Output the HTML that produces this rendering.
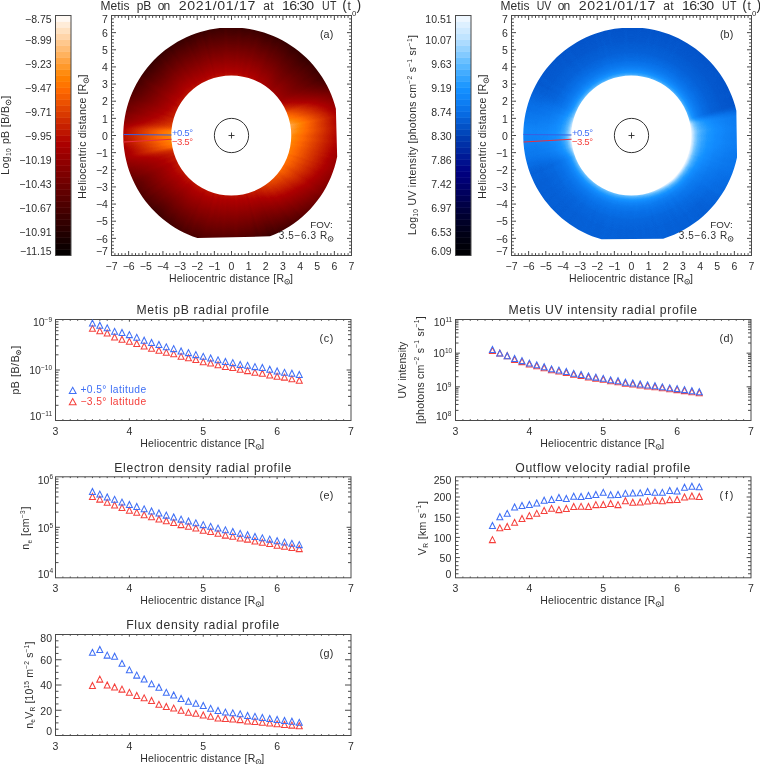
<!DOCTYPE html><html><head><meta charset="utf-8"><style>html,body{margin:0;padding:0;background:#fff;overflow:hidden;width:760px;height:764px}.ring{position:absolute;isolation:isolate}.ring>div{position:absolute;left:0;top:0;width:100%;height:100%}.add{mix-blend-mode:plus-lighter}svg text{font-family:"Liberation Sans", sans-serif}</style></head><body><svg width="0" height="0" style="position:absolute"><defs><filter id="cmR" x="0" y="0" width="1" height="1" color-interpolation-filters="sRGB"><feComponentTransfer><feFuncR type="table" tableValues="0.000 0.023 0.045 0.068 0.091 0.113 0.136 0.158 0.181 0.204 0.226 0.249 0.272 0.294 0.317 0.340 0.362 0.385 0.407 0.430 0.453 0.475 0.498 0.521 0.543 0.566 0.589 0.611 0.634 0.657 0.679 0.702 0.724 0.747 0.770 0.792 0.815 0.838 0.860 0.883 0.906 0.928 0.951 0.973 0.996 1.000 1.000 1.000 1.000 1.000 1.000 1.000 1.000 1.000 1.000 1.000 1.000 1.000 1.000 1.000 1.000 1.000 1.000 1.000 1.000"/><feFuncG type="table" tableValues="0.000 0.000 0.000 0.000 0.000 0.000 0.000 0.000 0.000 0.000 0.000 0.000 0.000 0.000 0.000 0.000 0.000 0.000 0.000 0.000 0.000 0.000 0.000 0.000 0.000 0.000 0.000 0.000 0.000 0.000 0.000 0.026 0.056 0.085 0.115 0.144 0.174 0.203 0.233 0.262 0.292 0.321 0.351 0.380 0.410 0.439 0.469 0.498 0.528 0.557 0.587 0.616 0.646 0.675 0.705 0.734 0.764 0.793 0.823 0.852 0.882 0.911 0.941 0.970 1.000"/><feFuncB type="table" tableValues="0.000 0.000 0.000 0.000 0.000 0.000 0.000 0.000 0.000 0.000 0.000 0.000 0.000 0.000 0.000 0.000 0.000 0.000 0.000 0.000 0.000 0.000 0.000 0.000 0.000 0.000 0.000 0.000 0.000 0.000 0.000 0.000 0.000 0.000 0.000 0.000 0.000 0.000 0.000 0.000 0.000 0.000 0.000 0.000 0.000 0.000 0.000 0.000 0.019 0.081 0.142 0.203 0.264 0.326 0.387 0.448 0.510 0.571 0.632 0.694 0.755 0.816 0.877 0.939 1.000"/></feComponentTransfer></filter><filter id="cmB" x="0" y="0" width="1" height="1" color-interpolation-filters="sRGB"><feComponentTransfer><feFuncR type="table" tableValues="0.000 0.000 0.000 0.000 0.000 0.000 0.000 0.000 0.000 0.000 0.000 0.000 0.000 0.000 0.000 0.000 0.000 0.000 0.000 0.000 0.000 0.000 0.000 0.000 0.000 0.000 0.000 0.000 0.000 0.000 0.000 0.000 0.000 0.005 0.010 0.015 0.020 0.025 0.029 0.037 0.045 0.054 0.062 0.071 0.079 0.095 0.141 0.186 0.231 0.277 0.322 0.367 0.420 0.474 0.527 0.581 0.635 0.689 0.737 0.774 0.811 0.849 0.886 0.923 0.961"/><feFuncG type="table" tableValues="0.000 0.000 0.000 0.000 0.000 0.000 0.000 0.000 0.000 0.000 0.000 0.000 0.000 0.000 0.000 0.000 0.000 0.000 0.000 0.000 0.000 0.000 0.000 0.016 0.042 0.068 0.094 0.120 0.146 0.173 0.199 0.225 0.251 0.280 0.310 0.339 0.369 0.398 0.427 0.452 0.475 0.497 0.519 0.541 0.563 0.585 0.610 0.634 0.659 0.683 0.708 0.732 0.755 0.777 0.799 0.821 0.843 0.865 0.885 0.901 0.917 0.933 0.949 0.964 0.980"/><feFuncB type="table" tableValues="0.000 0.015 0.029 0.044 0.059 0.074 0.088 0.109 0.133 0.158 0.182 0.207 0.231 0.257 0.286 0.316 0.345 0.375 0.404 0.433 0.456 0.477 0.498 0.518 0.539 0.560 0.581 0.602 0.623 0.643 0.664 0.685 0.706 0.738 0.770 0.801 0.833 0.865 0.897 0.920 0.938 0.956 0.973 0.991 1.000 1.000 1.000 1.000 1.000 1.000 1.000 1.000 1.000 1.000 1.000 1.000 1.000 1.000 1.000 1.000 1.000 1.000 1.000 1.000 1.000"/></feComponentTransfer></filter></defs></svg><div class="ring" style="left:123.25px;top:27.50px;width:216.00px;height:216.00px;filter:url(#cmR);clip-path:path(evenodd,'M213.91 129.13 L212.71 134.44 L211.25 139.67 L209.53 144.83 L207.54 149.90 L205.31 154.85 L202.83 159.69 L200.10 164.40 L197.15 168.96 L193.97 173.37 L190.57 177.62 L186.96 181.69 L183.15 185.57 L179.15 189.25 L174.97 192.73 L170.62 195.99 L166.11 199.04 L161.45 201.84 L156.66 204.42 L151.75 206.74 L146.72 208.82 L74.16 210.56 L69.48 208.90 L64.88 207.02 L60.36 204.93 L55.95 202.63 L51.65 200.14 L47.47 197.44 L43.42 194.56 L39.50 191.50 L35.73 188.26 L32.12 184.85 L28.66 181.27 L25.37 177.55 L22.26 173.67 L19.33 169.65 L16.58 165.51 L14.03 161.24 L11.68 156.86 L9.54 152.37 L7.60 147.79 L5.87 143.13 L4.36 138.39 L3.08 133.59 L2.01 128.73 L1.17 123.83 L0.55 118.90 L0.16 113.94 L0.00 108.98 L0.07 104.00 L0.37 99.04 L0.90 94.10 L1.65 89.18 L2.63 84.31 L3.83 79.48 L5.26 74.72 L6.90 70.03 L8.75 65.41 L10.82 60.89 L13.09 56.47 L15.56 52.15 L18.23 47.96 L21.09 43.89 L24.13 39.96 L27.35 36.17 L30.74 32.53 L34.30 29.06 L38.01 25.75 L41.87 22.62 L45.87 19.66 L50.00 16.90 L54.25 14.32 L58.62 11.95 L63.09 9.78 L67.66 7.82 L72.32 6.07 L77.05 4.53 L81.84 3.22 L86.69 2.12 L91.59 1.25 L96.52 0.61 L101.47 0.20 L106.44 0.01 L111.41 0.05 L116.38 0.33 L121.32 0.82 L126.24 1.55 L131.12 2.50 L135.95 3.68 L140.72 5.08 L145.43 6.69 L150.05 8.52 L154.58 10.56 L159.02 12.81 L163.34 15.26 L167.55 17.90 L171.64 20.74 L175.59 23.76 L179.39 26.96 L183.05 30.33 L186.54 33.87 L189.87 37.56 L193.02 41.41 L196.00 45.39 L198.79 49.51 L201.38 53.75 L203.78 58.10 L205.98 62.56 L207.96 67.12 L209.74 71.76 L211.30 76.48 L212.64 81.27 Z M168.00 108.00 A60.00 60.00 0 1 0 48.00 108.00 A60.00 60.00 0 1 0 168.00 108.00 Z')"><div style="background:conic-gradient(from 0deg at 108.00px 108.00px,rgb(129,129,129) 0.0deg,rgb(128,128,128) 1.5deg,rgb(127,127,127) 3.0deg,rgb(129,129,129) 4.5deg,rgb(128,128,128) 6.0deg,rgb(127,127,127) 7.5deg,rgb(128,128,128) 9.0deg,rgb(125,125,125) 10.5deg,rgb(125,125,125) 12.0deg,rgb(128,128,128) 13.5deg,rgb(127,127,127) 15.0deg,rgb(124,124,124) 16.5deg,rgb(126,126,126) 18.0deg,rgb(125,125,125) 19.5deg,rgb(126,126,126) 21.0deg,rgb(123,123,123) 22.5deg,rgb(123,123,123) 24.0deg,rgb(119,119,119) 25.5deg,rgb(118,118,118) 27.0deg,rgb(119,119,119) 28.5deg,rgb(119,119,119) 30.0deg,rgb(117,117,117) 31.5deg,rgb(117,117,117) 33.0deg,rgb(115,115,115) 34.5deg,rgb(113,113,113) 36.0deg,rgb(111,111,111) 37.5deg,rgb(108,108,108) 39.0deg,rgb(108,108,108) 40.5deg,rgb(108,108,108) 42.0deg,rgb(112,112,112) 43.5deg,rgb(111,111,111) 45.0deg,rgb(112,112,112) 46.5deg,rgb(110,110,110) 48.0deg,rgb(110,110,110) 49.5deg,rgb(110,110,110) 51.0deg,rgb(111,111,111) 52.5deg,rgb(111,111,111) 54.0deg,rgb(115,115,115) 55.5deg,rgb(121,121,121) 57.0deg,rgb(128,128,128) 58.5deg,rgb(132,132,132) 60.0deg,rgb(139,139,139) 61.5deg,rgb(144,144,144) 63.0deg,rgb(150,150,150) 64.5deg,rgb(158,158,158) 66.0deg,rgb(168,168,168) 67.5deg,rgb(173,173,173) 69.0deg,rgb(178,178,178) 70.5deg,rgb(184,184,184) 72.0deg,rgb(187,187,187) 73.5deg,rgb(195,195,195) 75.0deg,rgb(200,200,200) 76.5deg,rgb(203,203,203) 78.0deg,rgb(210,210,210) 79.5deg,rgb(207,207,207) 81.0deg,rgb(207,207,207) 82.5deg,rgb(203,203,203) 84.0deg,rgb(204,204,204) 85.5deg,rgb(202,202,202) 87.0deg,rgb(198,198,198) 88.5deg,rgb(194,194,194) 90.0deg,rgb(196,196,196) 91.5deg,rgb(195,195,195) 93.0deg,rgb(191,191,191) 94.5deg,rgb(189,189,189) 96.0deg,rgb(191,191,191) 97.5deg,rgb(188,188,188) 99.0deg,rgb(187,187,187) 100.5deg,rgb(186,186,186) 102.0deg,rgb(186,186,186) 103.5deg,rgb(186,186,186) 105.0deg,rgb(185,185,185) 106.5deg,rgb(180,180,180) 108.0deg,rgb(183,183,183) 109.5deg,rgb(183,183,183) 111.0deg,rgb(180,180,180) 112.5deg,rgb(181,181,181) 114.0deg,rgb(180,180,180) 115.5deg,rgb(179,179,179) 117.0deg,rgb(176,176,176) 118.5deg,rgb(175,175,175) 120.0deg,rgb(177,177,177) 121.5deg,rgb(175,175,175) 123.0deg,rgb(176,176,176) 124.5deg,rgb(174,174,174) 126.0deg,rgb(170,170,170) 127.5deg,rgb(168,168,168) 129.0deg,rgb(169,169,169) 130.5deg,rgb(167,167,167) 132.0deg,rgb(165,165,165) 133.5deg,rgb(164,164,164) 135.0deg,rgb(163,163,163) 136.5deg,rgb(161,161,161) 138.0deg,rgb(159,159,159) 139.5deg,rgb(157,157,157) 141.0deg,rgb(157,157,157) 142.5deg,rgb(154,154,154) 144.0deg,rgb(151,151,151) 145.5deg,rgb(148,148,148) 147.0deg,rgb(148,148,148) 148.5deg,rgb(144,144,144) 150.0deg,rgb(141,141,141) 151.5deg,rgb(139,139,139) 153.0deg,rgb(138,138,138) 154.5deg,rgb(135,135,135) 156.0deg,rgb(135,135,135) 157.5deg,rgb(136,136,136) 159.0deg,rgb(133,133,133) 160.5deg,rgb(133,133,133) 162.0deg,rgb(133,133,133) 163.5deg,rgb(128,128,128) 165.0deg,rgb(131,131,131) 166.5deg,rgb(129,129,129) 168.0deg,rgb(128,128,128) 169.5deg,rgb(129,129,129) 171.0deg,rgb(127,127,127) 172.5deg,rgb(127,127,127) 174.0deg,rgb(130,130,130) 175.5deg,rgb(126,126,126) 177.0deg,rgb(127,127,127) 178.5deg,rgb(127,127,127) 180.0deg,rgb(126,126,126) 181.5deg,rgb(125,125,125) 183.0deg,rgb(127,127,127) 184.5deg,rgb(127,127,127) 186.0deg,rgb(126,126,126) 187.5deg,rgb(128,128,128) 189.0deg,rgb(125,125,125) 190.5deg,rgb(126,126,126) 192.0deg,rgb(129,129,129) 193.5deg,rgb(128,128,128) 195.0deg,rgb(125,125,125) 196.5deg,rgb(128,128,128) 198.0deg,rgb(128,128,128) 199.5deg,rgb(129,129,129) 201.0deg,rgb(128,128,128) 202.5deg,rgb(129,129,129) 204.0deg,rgb(126,126,126) 205.5deg,rgb(127,127,127) 207.0deg,rgb(129,129,129) 208.5deg,rgb(130,130,130) 210.0deg,rgb(129,129,129) 211.5deg,rgb(130,130,130) 213.0deg,rgb(130,130,130) 214.5deg,rgb(130,130,130) 216.0deg,rgb(128,128,128) 217.5deg,rgb(127,127,127) 219.0deg,rgb(128,128,128) 220.5deg,rgb(128,128,128) 222.0deg,rgb(132,132,132) 223.5deg,rgb(130,130,130) 225.0deg,rgb(132,132,132) 226.5deg,rgb(130,130,130) 228.0deg,rgb(129,129,129) 229.5deg,rgb(130,130,130) 231.0deg,rgb(130,130,130) 232.5deg,rgb(131,131,131) 234.0deg,rgb(132,132,132) 235.5deg,rgb(132,132,132) 237.0deg,rgb(133,133,133) 238.5deg,rgb(131,131,131) 240.0deg,rgb(133,133,133) 241.5deg,rgb(131,131,131) 243.0deg,rgb(130,130,130) 244.5deg,rgb(131,131,131) 246.0deg,rgb(135,135,135) 247.5deg,rgb(133,133,133) 249.0deg,rgb(133,133,133) 250.5deg,rgb(137,137,137) 252.0deg,rgb(137,137,137) 253.5deg,rgb(143,143,143) 255.0deg,rgb(150,150,150) 256.5deg,rgb(163,163,163) 258.0deg,rgb(178,178,178) 259.5deg,rgb(181,181,181) 261.0deg,rgb(188,188,188) 262.5deg,rgb(187,187,187) 264.0deg,rgb(192,192,192) 265.5deg,rgb(192,192,192) 267.0deg,rgb(192,192,192) 268.5deg,rgb(192,192,192) 270.0deg,rgb(193,193,193) 271.5deg,rgb(193,193,193) 273.0deg,rgb(189,189,189) 274.5deg,rgb(178,178,178) 276.0deg,rgb(167,167,167) 277.5deg,rgb(158,158,158) 279.0deg,rgb(152,152,152) 280.5deg,rgb(148,148,148) 282.0deg,rgb(144,144,144) 283.5deg,rgb(143,143,143) 285.0deg,rgb(141,141,141) 286.5deg,rgb(135,135,135) 288.0deg,rgb(137,137,137) 289.5deg,rgb(136,136,136) 291.0deg,rgb(133,133,133) 292.5deg,rgb(134,134,134) 294.0deg,rgb(133,133,133) 295.5deg,rgb(133,133,133) 297.0deg,rgb(130,130,130) 298.5deg,rgb(129,129,129) 300.0deg,rgb(132,132,132) 301.5deg,rgb(130,130,130) 303.0deg,rgb(132,132,132) 304.5deg,rgb(130,130,130) 306.0deg,rgb(129,129,129) 307.5deg,rgb(129,129,129) 309.0deg,rgb(130,130,130) 310.5deg,rgb(130,130,130) 312.0deg,rgb(130,130,130) 313.5deg,rgb(131,131,131) 315.0deg,rgb(131,131,131) 316.5deg,rgb(130,130,130) 318.0deg,rgb(130,130,130) 319.5deg,rgb(129,129,129) 321.0deg,rgb(131,131,131) 322.5deg,rgb(129,129,129) 324.0deg,rgb(127,127,127) 325.5deg,rgb(127,127,127) 327.0deg,rgb(129,129,129) 328.5deg,rgb(127,127,127) 330.0deg,rgb(127,127,127) 331.5deg,rgb(127,127,127) 333.0deg,rgb(128,128,128) 334.5deg,rgb(126,126,126) 336.0deg,rgb(127,127,127) 337.5deg,rgb(129,129,129) 339.0deg,rgb(127,127,127) 340.5deg,rgb(128,128,128) 342.0deg,rgb(130,130,130) 343.5deg,rgb(126,126,126) 345.0deg,rgb(130,130,130) 346.5deg,rgb(128,128,128) 348.0deg,rgb(128,128,128) 349.5deg,rgb(129,129,129) 351.0deg,rgb(127,127,127) 352.5deg,rgb(127,127,127) 354.0deg,rgb(131,131,131) 355.5deg,rgb(128,128,128) 357.0deg,rgb(129,129,129) 358.5deg,rgb(129,129,129) 360.0deg)"></div><div style="background:conic-gradient(from 0deg at 108.00px 108.00px,rgb(42,42,42) 0.0deg,rgb(41,41,41) 1.5deg,rgb(42,42,42) 3.0deg,rgb(44,44,44) 4.5deg,rgb(41,41,41) 6.0deg,rgb(41,41,41) 7.5deg,rgb(42,42,42) 9.0deg,rgb(44,44,44) 10.5deg,rgb(42,42,42) 12.0deg,rgb(41,41,41) 13.5deg,rgb(44,44,44) 15.0deg,rgb(42,42,42) 16.5deg,rgb(40,40,40) 18.0deg,rgb(39,39,39) 19.5deg,rgb(39,39,39) 21.0deg,rgb(42,42,42) 22.5deg,rgb(39,39,39) 24.0deg,rgb(39,39,39) 25.5deg,rgb(42,42,42) 27.0deg,rgb(39,39,39) 28.5deg,rgb(39,39,39) 30.0deg,rgb(39,39,39) 31.5deg,rgb(39,39,39) 33.0deg,rgb(37,37,37) 34.5deg,rgb(37,37,37) 36.0deg,rgb(39,39,39) 37.5deg,rgb(39,39,39) 39.0deg,rgb(38,38,38) 40.5deg,rgb(37,37,37) 42.0deg,rgb(36,36,36) 43.5deg,rgb(39,39,39) 45.0deg,rgb(37,37,37) 46.5deg,rgb(42,42,42) 48.0deg,rgb(41,41,41) 49.5deg,rgb(43,43,43) 51.0deg,rgb(41,41,41) 52.5deg,rgb(45,45,45) 54.0deg,rgb(45,45,45) 55.5deg,rgb(43,43,43) 57.0deg,rgb(48,48,48) 58.5deg,rgb(51,51,51) 60.0deg,rgb(57,57,57) 61.5deg,rgb(63,63,63) 63.0deg,rgb(70,70,70) 64.5deg,rgb(77,77,77) 66.0deg,rgb(83,83,83) 67.5deg,rgb(88,88,88) 69.0deg,rgb(96,96,96) 70.5deg,rgb(101,101,101) 72.0deg,rgb(106,106,106) 73.5deg,rgb(109,109,109) 75.0deg,rgb(114,114,114) 76.5deg,rgb(117,117,117) 78.0deg,rgb(120,120,120) 79.5deg,rgb(119,119,119) 81.0deg,rgb(118,118,118) 82.5deg,rgb(119,119,119) 84.0deg,rgb(120,120,120) 85.5deg,rgb(119,119,119) 87.0deg,rgb(118,118,118) 88.5deg,rgb(117,117,117) 90.0deg,rgb(115,115,115) 91.5deg,rgb(117,117,117) 93.0deg,rgb(115,115,115) 94.5deg,rgb(114,114,114) 96.0deg,rgb(111,111,111) 97.5deg,rgb(111,111,111) 99.0deg,rgb(108,108,108) 100.5deg,rgb(109,109,109) 102.0deg,rgb(105,105,105) 103.5deg,rgb(104,104,104) 105.0deg,rgb(105,105,105) 106.5deg,rgb(104,104,104) 108.0deg,rgb(102,102,102) 109.5deg,rgb(99,99,99) 111.0deg,rgb(97,97,97) 112.5deg,rgb(95,95,95) 114.0deg,rgb(94,94,94) 115.5deg,rgb(91,91,91) 117.0deg,rgb(90,90,90) 118.5deg,rgb(86,86,86) 120.0deg,rgb(85,85,85) 121.5deg,rgb(85,85,85) 123.0deg,rgb(79,79,79) 124.5deg,rgb(76,76,76) 126.0deg,rgb(76,76,76) 127.5deg,rgb(73,73,73) 129.0deg,rgb(71,71,71) 130.5deg,rgb(68,68,68) 132.0deg,rgb(67,67,67) 133.5deg,rgb(63,63,63) 135.0deg,rgb(62,62,62) 136.5deg,rgb(62,62,62) 138.0deg,rgb(56,56,56) 139.5deg,rgb(56,56,56) 141.0deg,rgb(54,54,54) 142.5deg,rgb(54,54,54) 144.0deg,rgb(49,49,49) 145.5deg,rgb(49,49,49) 147.0deg,rgb(48,48,48) 148.5deg,rgb(47,47,47) 150.0deg,rgb(45,45,45) 151.5deg,rgb(44,44,44) 153.0deg,rgb(45,45,45) 154.5deg,rgb(41,41,41) 156.0deg,rgb(42,42,42) 157.5deg,rgb(39,39,39) 159.0deg,rgb(43,43,43) 160.5deg,rgb(42,42,42) 162.0deg,rgb(45,45,45) 163.5deg,rgb(41,41,41) 165.0deg,rgb(44,44,44) 166.5deg,rgb(47,47,47) 168.0deg,rgb(45,45,45) 169.5deg,rgb(45,45,45) 171.0deg,rgb(47,47,47) 172.5deg,rgb(47,47,47) 174.0deg,rgb(47,47,47) 175.5deg,rgb(52,52,52) 177.0deg,rgb(49,49,49) 178.5deg,rgb(49,49,49) 180.0deg,rgb(49,49,49) 181.5deg,rgb(50,50,50) 183.0deg,rgb(52,52,52) 184.5deg,rgb(50,50,50) 186.0deg,rgb(50,50,50) 187.5deg,rgb(51,51,51) 189.0deg,rgb(53,53,53) 190.5deg,rgb(51,51,51) 192.0deg,rgb(51,51,51) 193.5deg,rgb(53,53,53) 195.0deg,rgb(52,52,52) 196.5deg,rgb(50,50,50) 198.0deg,rgb(49,49,49) 199.5deg,rgb(49,49,49) 201.0deg,rgb(52,52,52) 202.5deg,rgb(49,49,49) 204.0deg,rgb(48,48,48) 205.5deg,rgb(51,51,51) 207.0deg,rgb(47,47,47) 208.5deg,rgb(47,47,47) 210.0deg,rgb(47,47,47) 211.5deg,rgb(47,47,47) 213.0deg,rgb(45,45,45) 214.5deg,rgb(44,44,44) 216.0deg,rgb(46,46,46) 217.5deg,rgb(46,46,46) 219.0deg,rgb(44,44,44) 220.5deg,rgb(43,43,43) 222.0deg,rgb(42,42,42) 223.5deg,rgb(44,44,44) 225.0deg,rgb(43,43,43) 226.5deg,rgb(48,48,48) 228.0deg,rgb(48,48,48) 229.5deg,rgb(50,50,50) 231.0deg,rgb(49,49,49) 232.5deg,rgb(54,54,54) 234.0deg,rgb(55,55,55) 235.5deg,rgb(53,53,53) 237.0deg,rgb(57,57,57) 238.5deg,rgb(57,57,57) 240.0deg,rgb(58,58,58) 241.5deg,rgb(60,60,60) 243.0deg,rgb(63,63,63) 244.5deg,rgb(68,68,68) 246.0deg,rgb(73,73,73) 247.5deg,rgb(77,77,77) 249.0deg,rgb(83,83,83) 250.5deg,rgb(87,87,87) 252.0deg,rgb(94,94,94) 253.5deg,rgb(98,98,98) 255.0deg,rgb(104,104,104) 256.5deg,rgb(109,109,109) 258.0deg,rgb(111,111,111) 259.5deg,rgb(111,111,111) 261.0deg,rgb(113,113,113) 262.5deg,rgb(117,117,117) 264.0deg,rgb(121,121,121) 265.5deg,rgb(123,123,123) 267.0deg,rgb(125,125,125) 268.5deg,rgb(127,127,127) 270.0deg,rgb(122,122,122) 271.5deg,rgb(121,121,121) 273.0deg,rgb(116,116,116) 274.5deg,rgb(108,108,108) 276.0deg,rgb(99,99,99) 277.5deg,rgb(94,94,94) 279.0deg,rgb(89,89,89) 280.5deg,rgb(87,87,87) 282.0deg,rgb(80,80,80) 283.5deg,rgb(76,76,76) 285.0deg,rgb(75,75,75) 286.5deg,rgb(71,71,71) 288.0deg,rgb(67,67,67) 289.5deg,rgb(62,62,62) 291.0deg,rgb(58,58,58) 292.5deg,rgb(54,54,54) 294.0deg,rgb(52,52,52) 295.5deg,rgb(50,50,50) 297.0deg,rgb(50,50,50) 298.5deg,rgb(47,47,47) 300.0deg,rgb(47,47,47) 301.5deg,rgb(48,48,48) 303.0deg,rgb(42,42,42) 304.5deg,rgb(40,40,40) 306.0deg,rgb(41,41,41) 307.5deg,rgb(39,39,39) 309.0deg,rgb(38,38,38) 310.5deg,rgb(37,37,37) 312.0deg,rgb(39,39,39) 313.5deg,rgb(37,37,37) 315.0deg,rgb(38,38,38) 316.5deg,rgb(41,41,41) 318.0deg,rgb(37,37,37) 319.5deg,rgb(39,39,39) 321.0deg,rgb(39,39,39) 322.5deg,rgb(41,41,41) 324.0deg,rgb(38,38,38) 325.5deg,rgb(41,41,41) 327.0deg,rgb(40,40,40) 328.5deg,rgb(40,40,40) 330.0deg,rgb(39,39,39) 331.5deg,rgb(39,39,39) 333.0deg,rgb(41,41,41) 334.5deg,rgb(38,38,38) 336.0deg,rgb(40,40,40) 337.5deg,rgb(38,38,38) 339.0deg,rgb(43,43,43) 340.5deg,rgb(41,41,41) 342.0deg,rgb(43,43,43) 343.5deg,rgb(39,39,39) 345.0deg,rgb(41,41,41) 346.5deg,rgb(44,44,44) 348.0deg,rgb(41,41,41) 349.5deg,rgb(41,41,41) 351.0deg,rgb(42,42,42) 352.5deg,rgb(42,42,42) 354.0deg,rgb(41,41,41) 355.5deg,rgb(45,45,45) 357.0deg,rgb(42,42,42) 358.5deg,rgb(42,42,42) 360.0deg);-webkit-mask-image:radial-gradient(circle 108.00px at 108.00px 108.00px,rgba(0,0,0,0) 60.00px,rgba(0,0,0,1) 108.00px);mask-image:radial-gradient(circle 108.00px at 108.00px 108.00px,rgba(0,0,0,0) 60.00px,rgba(0,0,0,1) 108.00px)"></div></div><div class="ring" style="left:523.25px;top:27.50px;width:216.00px;height:216.00px;filter:url(#cmB);clip-path:path(evenodd,'M213.80 129.67 L212.49 135.29 L210.89 140.84 L208.99 146.28 L206.80 151.62 L204.33 156.84 L201.58 161.91 L198.57 166.83 L195.30 171.59 L191.78 176.16 L188.02 180.53 L184.03 184.70 L179.83 188.65 L175.42 192.38 L170.81 195.86 L166.03 199.08 L161.08 202.05 L155.99 204.75 L150.75 207.18 L145.39 209.32 L139.93 211.17 L78.34 211.85 L73.52 210.35 L68.78 208.63 L64.13 206.69 L59.57 204.53 L55.11 202.17 L50.78 199.59 L46.56 196.82 L42.48 193.86 L38.55 190.71 L34.76 187.37 L31.14 183.87 L27.68 180.20 L24.40 176.37 L21.30 172.39 L18.39 168.28 L15.67 164.03 L13.15 159.66 L10.85 155.17 L8.75 150.59 L6.87 145.91 L5.21 141.15 L3.78 136.31 L2.57 131.41 L1.59 126.47 L0.84 121.48 L0.33 116.46 L0.05 111.43 L0.01 106.39 L0.21 101.35 L0.63 96.32 L1.30 91.32 L2.19 86.36 L3.32 81.45 L4.67 76.59 L6.25 71.80 L8.05 67.09 L10.07 62.47 L12.30 57.95 L14.74 53.53 L17.38 49.24 L20.23 45.07 L23.26 41.04 L26.48 37.16 L29.87 33.43 L33.44 29.87 L37.17 26.47 L41.05 23.25 L45.08 20.22 L49.25 17.38 L53.54 14.74 L57.95 12.30 L62.47 10.06 L67.10 8.05 L71.81 6.25 L76.60 4.67 L81.45 3.31 L86.37 2.19 L91.33 1.29 L96.33 0.63 L101.36 0.20 L106.39 0.01 L111.44 0.05 L116.47 0.33 L121.49 0.85 L126.48 1.59 L131.42 2.57 L136.32 3.78 L141.15 5.21 L145.91 6.87 L150.59 8.75 L155.18 10.85 L159.66 13.16 L164.03 15.67 L168.28 18.39 L172.40 21.30 L176.38 24.40 L180.20 27.69 L183.88 31.14 L187.38 34.77 L190.71 38.55 L193.86 42.49 L196.83 46.57 L199.60 50.78 L202.17 55.12 L204.54 59.58 L206.69 64.13 L208.63 68.79 L210.35 73.53 L211.85 78.34 L213.12 83.22 Z M168.00 108.00 A60.00 60.00 0 1 0 48.00 108.00 A60.00 60.00 0 1 0 168.00 108.00 Z')"><div style="background:conic-gradient(from 0deg at 108.00px 108.00px,rgb(204,204,204) 0.0deg,rgb(204,204,204) 1.5deg,rgb(204,204,204) 3.0deg,rgb(204,204,204) 4.5deg,rgb(204,204,204) 6.0deg,rgb(204,204,204) 7.5deg,rgb(204,204,204) 9.0deg,rgb(204,204,204) 10.5deg,rgb(204,204,204) 12.0deg,rgb(205,205,205) 13.5deg,rgb(204,204,204) 15.0deg,rgb(204,204,204) 16.5deg,rgb(204,204,204) 18.0deg,rgb(204,204,204) 19.5deg,rgb(205,205,205) 21.0deg,rgb(204,204,204) 22.5deg,rgb(204,204,204) 24.0deg,rgb(204,204,204) 25.5deg,rgb(204,204,204) 27.0deg,rgb(204,204,204) 28.5deg,rgb(205,205,205) 30.0deg,rgb(204,204,204) 31.5deg,rgb(205,205,205) 33.0deg,rgb(204,204,204) 34.5deg,rgb(204,204,204) 36.0deg,rgb(204,204,204) 37.5deg,rgb(204,204,204) 39.0deg,rgb(204,204,204) 40.5deg,rgb(204,204,204) 42.0deg,rgb(205,205,205) 43.5deg,rgb(204,204,204) 45.0deg,rgb(205,205,205) 46.5deg,rgb(204,204,204) 48.0deg,rgb(204,204,204) 49.5deg,rgb(204,204,204) 51.0deg,rgb(204,204,204) 52.5deg,rgb(204,204,204) 54.0deg,rgb(204,204,204) 55.5deg,rgb(204,204,204) 57.0deg,rgb(205,205,205) 58.5deg,rgb(204,204,204) 60.0deg,rgb(204,204,204) 61.5deg,rgb(204,204,204) 63.0deg,rgb(204,204,204) 64.5deg,rgb(204,204,204) 66.0deg,rgb(205,205,205) 67.5deg,rgb(204,204,204) 69.0deg,rgb(205,205,205) 70.5deg,rgb(207,207,207) 72.0deg,rgb(209,209,209) 73.5deg,rgb(219,219,219) 75.0deg,rgb(231,231,231) 76.5deg,rgb(242,242,242) 78.0deg,rgb(247,247,247) 79.5deg,rgb(249,249,249) 81.0deg,rgb(254,254,254) 82.5deg,rgb(255,255,255) 84.0deg,rgb(255,255,255) 85.5deg,rgb(255,255,255) 87.0deg,rgb(255,255,255) 88.5deg,rgb(255,255,255) 90.0deg,rgb(255,255,255) 91.5deg,rgb(255,255,255) 93.0deg,rgb(255,255,255) 94.5deg,rgb(255,255,255) 96.0deg,rgb(255,255,255) 97.5deg,rgb(255,255,255) 99.0deg,rgb(255,255,255) 100.5deg,rgb(255,255,255) 102.0deg,rgb(255,255,255) 103.5deg,rgb(255,255,255) 105.0deg,rgb(255,255,255) 106.5deg,rgb(255,255,255) 108.0deg,rgb(255,255,255) 109.5deg,rgb(255,255,255) 111.0deg,rgb(255,255,255) 112.5deg,rgb(255,255,255) 114.0deg,rgb(255,255,255) 115.5deg,rgb(255,255,255) 117.0deg,rgb(255,255,255) 118.5deg,rgb(255,255,255) 120.0deg,rgb(255,255,255) 121.5deg,rgb(255,255,255) 123.0deg,rgb(255,255,255) 124.5deg,rgb(255,255,255) 126.0deg,rgb(255,255,255) 127.5deg,rgb(255,255,255) 129.0deg,rgb(255,255,255) 130.5deg,rgb(255,255,255) 132.0deg,rgb(255,255,255) 133.5deg,rgb(255,255,255) 135.0deg,rgb(255,255,255) 136.5deg,rgb(252,252,252) 138.0deg,rgb(249,249,249) 139.5deg,rgb(247,247,247) 141.0deg,rgb(245,245,245) 142.5deg,rgb(242,242,242) 144.0deg,rgb(239,239,239) 145.5deg,rgb(236,236,236) 147.0deg,rgb(235,235,235) 148.5deg,rgb(231,231,231) 150.0deg,rgb(229,229,229) 151.5deg,rgb(228,228,228) 153.0deg,rgb(226,226,226) 154.5deg,rgb(224,224,224) 156.0deg,rgb(222,222,222) 157.5deg,rgb(221,221,221) 159.0deg,rgb(219,219,219) 160.5deg,rgb(218,218,218) 162.0deg,rgb(217,217,217) 163.5deg,rgb(214,214,214) 165.0deg,rgb(213,213,213) 166.5deg,rgb(211,211,211) 168.0deg,rgb(210,210,210) 169.5deg,rgb(209,209,209) 171.0deg,rgb(208,208,208) 172.5deg,rgb(208,208,208) 174.0deg,rgb(208,208,208) 175.5deg,rgb(207,207,207) 177.0deg,rgb(206,206,206) 178.5deg,rgb(206,206,206) 180.0deg,rgb(205,205,205) 181.5deg,rgb(205,205,205) 183.0deg,rgb(204,204,204) 184.5deg,rgb(204,204,204) 186.0deg,rgb(204,204,204) 187.5deg,rgb(204,204,204) 189.0deg,rgb(204,204,204) 190.5deg,rgb(205,205,205) 192.0deg,rgb(205,205,205) 193.5deg,rgb(205,205,205) 195.0deg,rgb(205,205,205) 196.5deg,rgb(205,205,205) 198.0deg,rgb(205,205,205) 199.5deg,rgb(206,206,206) 201.0deg,rgb(206,206,206) 202.5deg,rgb(206,206,206) 204.0deg,rgb(206,206,206) 205.5deg,rgb(206,206,206) 207.0deg,rgb(206,206,206) 208.5deg,rgb(207,207,207) 210.0deg,rgb(206,206,206) 211.5deg,rgb(207,207,207) 213.0deg,rgb(207,207,207) 214.5deg,rgb(207,207,207) 216.0deg,rgb(207,207,207) 217.5deg,rgb(207,207,207) 219.0deg,rgb(207,207,207) 220.5deg,rgb(207,207,207) 222.0deg,rgb(208,208,208) 223.5deg,rgb(207,207,207) 225.0deg,rgb(208,208,208) 226.5deg,rgb(207,207,207) 228.0deg,rgb(207,207,207) 229.5deg,rgb(208,208,208) 231.0deg,rgb(208,208,208) 232.5deg,rgb(208,208,208) 234.0deg,rgb(208,208,208) 235.5deg,rgb(208,208,208) 237.0deg,rgb(209,209,209) 238.5deg,rgb(208,208,208) 240.0deg,rgb(209,209,209) 241.5deg,rgb(209,209,209) 243.0deg,rgb(209,209,209) 244.5deg,rgb(209,209,209) 246.0deg,rgb(210,210,210) 247.5deg,rgb(209,209,209) 249.0deg,rgb(210,210,210) 250.5deg,rgb(214,214,214) 252.0deg,rgb(217,217,217) 253.5deg,rgb(223,223,223) 255.0deg,rgb(227,227,227) 256.5deg,rgb(230,230,230) 258.0deg,rgb(234,234,234) 259.5deg,rgb(236,236,236) 261.0deg,rgb(239,239,239) 262.5deg,rgb(240,240,240) 264.0deg,rgb(243,243,243) 265.5deg,rgb(243,243,243) 267.0deg,rgb(243,243,243) 268.5deg,rgb(243,243,243) 270.0deg,rgb(245,245,245) 271.5deg,rgb(245,245,245) 273.0deg,rgb(243,243,243) 274.5deg,rgb(241,241,241) 276.0deg,rgb(240,240,240) 277.5deg,rgb(237,237,237) 279.0deg,rgb(235,235,235) 280.5deg,rgb(232,232,232) 282.0deg,rgb(230,230,230) 283.5deg,rgb(228,228,228) 285.0deg,rgb(224,224,224) 286.5deg,rgb(219,219,219) 288.0deg,rgb(217,217,217) 289.5deg,rgb(215,215,215) 291.0deg,rgb(212,212,212) 292.5deg,rgb(211,211,211) 294.0deg,rgb(210,210,210) 295.5deg,rgb(209,209,209) 297.0deg,rgb(208,208,208) 298.5deg,rgb(208,208,208) 300.0deg,rgb(209,209,209) 301.5deg,rgb(208,208,208) 303.0deg,rgb(209,209,209) 304.5deg,rgb(208,208,208) 306.0deg,rgb(208,208,208) 307.5deg,rgb(208,208,208) 309.0deg,rgb(208,208,208) 310.5deg,rgb(208,208,208) 312.0deg,rgb(208,208,208) 313.5deg,rgb(208,208,208) 315.0deg,rgb(208,208,208) 316.5deg,rgb(207,207,207) 318.0deg,rgb(207,207,207) 319.5deg,rgb(207,207,207) 321.0deg,rgb(208,208,208) 322.5deg,rgb(207,207,207) 324.0deg,rgb(207,207,207) 325.5deg,rgb(206,206,206) 327.0deg,rgb(207,207,207) 328.5deg,rgb(206,206,206) 330.0deg,rgb(206,206,206) 331.5deg,rgb(206,206,206) 333.0deg,rgb(206,206,206) 334.5deg,rgb(206,206,206) 336.0deg,rgb(206,206,206) 337.5deg,rgb(206,206,206) 339.0deg,rgb(205,205,205) 340.5deg,rgb(206,206,206) 342.0deg,rgb(206,206,206) 343.5deg,rgb(205,205,205) 345.0deg,rgb(206,206,206) 346.5deg,rgb(205,205,205) 348.0deg,rgb(205,205,205) 349.5deg,rgb(205,205,205) 351.0deg,rgb(205,205,205) 352.5deg,rgb(204,204,204) 354.0deg,rgb(205,205,205) 355.5deg,rgb(204,204,204) 357.0deg,rgb(204,204,204) 358.5deg,rgb(204,204,204) 360.0deg)"></div><div style="background:conic-gradient(from 0deg at 108.00px 108.00px,rgb(190,190,190) 0.0deg,rgb(190,190,190) 1.5deg,rgb(190,190,190) 3.0deg,rgb(190,190,190) 4.5deg,rgb(190,190,190) 6.0deg,rgb(190,190,190) 7.5deg,rgb(190,190,190) 9.0deg,rgb(190,190,190) 10.5deg,rgb(190,190,190) 12.0deg,rgb(191,191,191) 13.5deg,rgb(191,191,191) 15.0deg,rgb(190,190,190) 16.5deg,rgb(191,191,191) 18.0deg,rgb(190,190,190) 19.5deg,rgb(191,191,191) 21.0deg,rgb(190,190,190) 22.5deg,rgb(191,191,191) 24.0deg,rgb(190,190,190) 25.5deg,rgb(190,190,190) 27.0deg,rgb(191,191,191) 28.5deg,rgb(191,191,191) 30.0deg,rgb(190,190,190) 31.5deg,rgb(191,191,191) 33.0deg,rgb(191,191,191) 34.5deg,rgb(191,191,191) 36.0deg,rgb(190,190,190) 37.5deg,rgb(190,190,190) 39.0deg,rgb(190,190,190) 40.5deg,rgb(190,190,190) 42.0deg,rgb(191,191,191) 43.5deg,rgb(190,190,190) 45.0deg,rgb(191,191,191) 46.5deg,rgb(190,190,190) 48.0deg,rgb(190,190,190) 49.5deg,rgb(190,190,190) 51.0deg,rgb(190,190,190) 52.5deg,rgb(190,190,190) 54.0deg,rgb(191,191,191) 55.5deg,rgb(191,191,191) 57.0deg,rgb(191,191,191) 58.5deg,rgb(190,190,190) 60.0deg,rgb(191,191,191) 61.5deg,rgb(190,190,190) 63.0deg,rgb(190,190,190) 64.5deg,rgb(190,190,190) 66.0deg,rgb(191,191,191) 67.5deg,rgb(190,190,190) 69.0deg,rgb(191,191,191) 70.5deg,rgb(192,192,192) 72.0deg,rgb(194,194,194) 73.5deg,rgb(202,202,202) 75.0deg,rgb(213,213,213) 76.5deg,rgb(223,223,223) 78.0deg,rgb(228,228,228) 79.5deg,rgb(230,230,230) 81.0deg,rgb(233,233,233) 82.5deg,rgb(235,235,235) 84.0deg,rgb(238,238,238) 85.5deg,rgb(238,238,238) 87.0deg,rgb(237,237,237) 88.5deg,rgb(236,236,236) 90.0deg,rgb(237,237,237) 91.5deg,rgb(238,238,238) 93.0deg,rgb(237,237,237) 94.5deg,rgb(236,236,236) 96.0deg,rgb(237,237,237) 97.5deg,rgb(236,236,236) 99.0deg,rgb(236,236,236) 100.5deg,rgb(236,236,236) 102.0deg,rgb(236,236,236) 103.5deg,rgb(236,236,236) 105.0deg,rgb(236,236,236) 106.5deg,rgb(234,234,234) 108.0deg,rgb(235,235,235) 109.5deg,rgb(235,235,235) 111.0deg,rgb(234,234,234) 112.5deg,rgb(234,234,234) 114.0deg,rgb(234,234,234) 115.5deg,rgb(233,233,233) 117.0deg,rgb(231,231,231) 118.5deg,rgb(230,230,230) 120.0deg,rgb(231,231,231) 121.5deg,rgb(229,229,229) 123.0deg,rgb(229,229,229) 124.5deg,rgb(228,228,228) 126.0deg,rgb(227,227,227) 127.5deg,rgb(227,227,227) 129.0deg,rgb(227,227,227) 130.5deg,rgb(227,227,227) 132.0deg,rgb(227,227,227) 133.5deg,rgb(227,227,227) 135.0deg,rgb(225,225,225) 136.5deg,rgb(223,223,223) 138.0deg,rgb(221,221,221) 139.5deg,rgb(219,219,219) 141.0deg,rgb(218,218,218) 142.5deg,rgb(216,216,216) 144.0deg,rgb(213,213,213) 145.5deg,rgb(212,212,212) 147.0deg,rgb(211,211,211) 148.5deg,rgb(208,208,208) 150.0deg,rgb(207,207,207) 151.5deg,rgb(206,206,206) 153.0deg,rgb(205,205,205) 154.5deg,rgb(203,203,203) 156.0deg,rgb(202,202,202) 157.5deg,rgb(201,201,201) 159.0deg,rgb(200,200,200) 160.5deg,rgb(199,199,199) 162.0deg,rgb(199,199,199) 163.5deg,rgb(197,197,197) 165.0deg,rgb(197,197,197) 166.5deg,rgb(195,195,195) 168.0deg,rgb(194,194,194) 169.5deg,rgb(194,194,194) 171.0deg,rgb(193,193,193) 172.5deg,rgb(193,193,193) 174.0deg,rgb(193,193,193) 175.5deg,rgb(192,192,192) 177.0deg,rgb(192,192,192) 178.5deg,rgb(192,192,192) 180.0deg,rgb(191,191,191) 181.5deg,rgb(191,191,191) 183.0deg,rgb(191,191,191) 184.5deg,rgb(191,191,191) 186.0deg,rgb(191,191,191) 187.5deg,rgb(191,191,191) 189.0deg,rgb(191,191,191) 190.5deg,rgb(191,191,191) 192.0deg,rgb(192,192,192) 193.5deg,rgb(191,191,191) 195.0deg,rgb(191,191,191) 196.5deg,rgb(191,191,191) 198.0deg,rgb(191,191,191) 199.5deg,rgb(192,192,192) 201.0deg,rgb(192,192,192) 202.5deg,rgb(192,192,192) 204.0deg,rgb(191,191,191) 205.5deg,rgb(192,192,192) 207.0deg,rgb(192,192,192) 208.5deg,rgb(192,192,192) 210.0deg,rgb(192,192,192) 211.5deg,rgb(193,193,193) 213.0deg,rgb(192,192,192) 214.5deg,rgb(192,192,192) 216.0deg,rgb(192,192,192) 217.5deg,rgb(192,192,192) 219.0deg,rgb(192,192,192) 220.5deg,rgb(192,192,192) 222.0deg,rgb(193,193,193) 223.5deg,rgb(193,193,193) 225.0deg,rgb(193,193,193) 226.5deg,rgb(193,193,193) 228.0deg,rgb(193,193,193) 229.5deg,rgb(193,193,193) 231.0deg,rgb(193,193,193) 232.5deg,rgb(193,193,193) 234.0deg,rgb(193,193,193) 235.5deg,rgb(193,193,193) 237.0deg,rgb(194,194,194) 238.5deg,rgb(193,193,193) 240.0deg,rgb(194,194,194) 241.5deg,rgb(193,193,193) 243.0deg,rgb(193,193,193) 244.5deg,rgb(194,194,194) 246.0deg,rgb(194,194,194) 247.5deg,rgb(194,194,194) 249.0deg,rgb(194,194,194) 250.5deg,rgb(198,198,198) 252.0deg,rgb(201,201,201) 253.5deg,rgb(205,205,205) 255.0deg,rgb(209,209,209) 256.5deg,rgb(211,211,211) 258.0deg,rgb(215,215,215) 259.5deg,rgb(216,216,216) 261.0deg,rgb(219,219,219) 262.5deg,rgb(219,219,219) 264.0deg,rgb(222,222,222) 265.5deg,rgb(222,222,222) 267.0deg,rgb(222,222,222) 268.5deg,rgb(222,222,222) 270.0deg,rgb(224,224,224) 271.5deg,rgb(224,224,224) 273.0deg,rgb(222,222,222) 274.5deg,rgb(220,220,220) 276.0deg,rgb(220,220,220) 277.5deg,rgb(217,217,217) 279.0deg,rgb(216,216,216) 280.5deg,rgb(214,214,214) 282.0deg,rgb(212,212,212) 283.5deg,rgb(210,210,210) 285.0deg,rgb(208,208,208) 286.5deg,rgb(203,203,203) 288.0deg,rgb(202,202,202) 289.5deg,rgb(200,200,200) 291.0deg,rgb(197,197,197) 292.5deg,rgb(196,196,196) 294.0deg,rgb(194,194,194) 295.5deg,rgb(194,194,194) 297.0deg,rgb(193,193,193) 298.5deg,rgb(193,193,193) 300.0deg,rgb(194,194,194) 301.5deg,rgb(193,193,193) 303.0deg,rgb(194,194,194) 304.5deg,rgb(193,193,193) 306.0deg,rgb(193,193,193) 307.5deg,rgb(193,193,193) 309.0deg,rgb(193,193,193) 310.5deg,rgb(193,193,193) 312.0deg,rgb(193,193,193) 313.5deg,rgb(193,193,193) 315.0deg,rgb(193,193,193) 316.5deg,rgb(192,192,192) 318.0deg,rgb(193,193,193) 319.5deg,rgb(192,192,192) 321.0deg,rgb(193,193,193) 322.5deg,rgb(192,192,192) 324.0deg,rgb(192,192,192) 325.5deg,rgb(192,192,192) 327.0deg,rgb(192,192,192) 328.5deg,rgb(192,192,192) 330.0deg,rgb(192,192,192) 331.5deg,rgb(192,192,192) 333.0deg,rgb(191,191,191) 334.5deg,rgb(191,191,191) 336.0deg,rgb(191,191,191) 337.5deg,rgb(192,192,192) 339.0deg,rgb(191,191,191) 340.5deg,rgb(191,191,191) 342.0deg,rgb(192,192,192) 343.5deg,rgb(191,191,191) 345.0deg,rgb(191,191,191) 346.5deg,rgb(191,191,191) 348.0deg,rgb(191,191,191) 349.5deg,rgb(191,191,191) 351.0deg,rgb(191,191,191) 352.5deg,rgb(191,191,191) 354.0deg,rgb(191,191,191) 355.5deg,rgb(190,190,190) 357.0deg,rgb(190,190,190) 358.5deg,rgb(190,190,190) 360.0deg);-webkit-mask-image:radial-gradient(circle 108.00px at 108.00px 108.00px,rgba(0,0,0,0) 60.00px,rgba(0,0,0,1) 61.71px);mask-image:radial-gradient(circle 108.00px at 108.00px 108.00px,rgba(0,0,0,0) 60.00px,rgba(0,0,0,1) 61.71px)"></div><div style="background:conic-gradient(from 0deg at 108.00px 108.00px,rgb(179,179,179) 0.0deg,rgb(179,179,179) 1.5deg,rgb(179,179,179) 3.0deg,rgb(179,179,179) 4.5deg,rgb(179,179,179) 6.0deg,rgb(179,179,179) 7.5deg,rgb(179,179,179) 9.0deg,rgb(179,179,179) 10.5deg,rgb(179,179,179) 12.0deg,rgb(179,179,179) 13.5deg,rgb(179,179,179) 15.0deg,rgb(179,179,179) 16.5deg,rgb(179,179,179) 18.0deg,rgb(179,179,179) 19.5deg,rgb(179,179,179) 21.0deg,rgb(179,179,179) 22.5deg,rgb(179,179,179) 24.0deg,rgb(179,179,179) 25.5deg,rgb(179,179,179) 27.0deg,rgb(179,179,179) 28.5deg,rgb(179,179,179) 30.0deg,rgb(179,179,179) 31.5deg,rgb(179,179,179) 33.0deg,rgb(179,179,179) 34.5deg,rgb(179,179,179) 36.0deg,rgb(179,179,179) 37.5deg,rgb(179,179,179) 39.0deg,rgb(179,179,179) 40.5deg,rgb(179,179,179) 42.0deg,rgb(179,179,179) 43.5deg,rgb(179,179,179) 45.0deg,rgb(179,179,179) 46.5deg,rgb(179,179,179) 48.0deg,rgb(179,179,179) 49.5deg,rgb(179,179,179) 51.0deg,rgb(179,179,179) 52.5deg,rgb(179,179,179) 54.0deg,rgb(179,179,179) 55.5deg,rgb(179,179,179) 57.0deg,rgb(179,179,179) 58.5deg,rgb(179,179,179) 60.0deg,rgb(179,179,179) 61.5deg,rgb(179,179,179) 63.0deg,rgb(179,179,179) 64.5deg,rgb(179,179,179) 66.0deg,rgb(179,179,179) 67.5deg,rgb(179,179,179) 69.0deg,rgb(179,179,179) 70.5deg,rgb(180,180,180) 72.0deg,rgb(181,181,181) 73.5deg,rgb(188,188,188) 75.0deg,rgb(199,199,199) 76.5deg,rgb(208,208,208) 78.0deg,rgb(212,212,212) 79.5deg,rgb(213,213,213) 81.0deg,rgb(217,217,217) 82.5deg,rgb(218,218,218) 84.0deg,rgb(221,221,221) 85.5deg,rgb(221,221,221) 87.0deg,rgb(220,220,220) 88.5deg,rgb(218,218,218) 90.0deg,rgb(219,219,219) 91.5deg,rgb(219,219,219) 93.0deg,rgb(218,218,218) 94.5deg,rgb(217,217,217) 96.0deg,rgb(218,218,218) 97.5deg,rgb(217,217,217) 99.0deg,rgb(216,216,216) 100.5deg,rgb(216,216,216) 102.0deg,rgb(215,215,215) 103.5deg,rgb(215,215,215) 105.0deg,rgb(215,215,215) 106.5deg,rgb(212,212,212) 108.0deg,rgb(213,213,213) 109.5deg,rgb(213,213,213) 111.0deg,rgb(211,211,211) 112.5deg,rgb(212,212,212) 114.0deg,rgb(211,211,211) 115.5deg,rgb(210,210,210) 117.0deg,rgb(208,208,208) 118.5deg,rgb(207,207,207) 120.0deg,rgb(208,208,208) 121.5deg,rgb(206,206,206) 123.0deg,rgb(206,206,206) 124.5deg,rgb(205,205,205) 126.0deg,rgb(204,204,204) 127.5deg,rgb(203,203,203) 129.0deg,rgb(204,204,204) 130.5deg,rgb(203,203,203) 132.0deg,rgb(203,203,203) 133.5deg,rgb(203,203,203) 135.0deg,rgb(202,202,202) 136.5deg,rgb(200,200,200) 138.0deg,rgb(199,199,199) 139.5deg,rgb(197,197,197) 141.0deg,rgb(197,197,197) 142.5deg,rgb(196,196,196) 144.0deg,rgb(193,193,193) 145.5deg,rgb(192,192,192) 147.0deg,rgb(192,192,192) 148.5deg,rgb(190,190,190) 150.0deg,rgb(189,189,189) 151.5deg,rgb(189,189,189) 153.0deg,rgb(188,188,188) 154.5deg,rgb(187,187,187) 156.0deg,rgb(186,186,186) 157.5deg,rgb(186,186,186) 159.0deg,rgb(185,185,185) 160.5deg,rgb(184,184,184) 162.0deg,rgb(185,185,185) 163.5deg,rgb(183,183,183) 165.0deg,rgb(183,183,183) 166.5deg,rgb(182,182,182) 168.0deg,rgb(181,181,181) 169.5deg,rgb(181,181,181) 171.0deg,rgb(181,181,181) 172.5deg,rgb(181,181,181) 174.0deg,rgb(181,181,181) 175.5deg,rgb(180,180,180) 177.0deg,rgb(180,180,180) 178.5deg,rgb(180,180,180) 180.0deg,rgb(180,180,180) 181.5deg,rgb(179,179,179) 183.0deg,rgb(179,179,179) 184.5deg,rgb(179,179,179) 186.0deg,rgb(179,179,179) 187.5deg,rgb(180,180,180) 189.0deg,rgb(179,179,179) 190.5deg,rgb(179,179,179) 192.0deg,rgb(180,180,180) 193.5deg,rgb(180,180,180) 195.0deg,rgb(180,180,180) 196.5deg,rgb(180,180,180) 198.0deg,rgb(180,180,180) 199.5deg,rgb(180,180,180) 201.0deg,rgb(180,180,180) 202.5deg,rgb(180,180,180) 204.0deg,rgb(180,180,180) 205.5deg,rgb(180,180,180) 207.0deg,rgb(180,180,180) 208.5deg,rgb(181,181,181) 210.0deg,rgb(180,180,180) 211.5deg,rgb(181,181,181) 213.0deg,rgb(180,180,180) 214.5deg,rgb(180,180,180) 216.0deg,rgb(180,180,180) 217.5deg,rgb(180,180,180) 219.0deg,rgb(180,180,180) 220.5deg,rgb(180,180,180) 222.0deg,rgb(181,181,181) 223.5deg,rgb(180,180,180) 225.0deg,rgb(181,181,181) 226.5deg,rgb(180,180,180) 228.0deg,rgb(180,180,180) 229.5deg,rgb(181,181,181) 231.0deg,rgb(180,180,180) 232.5deg,rgb(181,181,181) 234.0deg,rgb(181,181,181) 235.5deg,rgb(181,181,181) 237.0deg,rgb(181,181,181) 238.5deg,rgb(181,181,181) 240.0deg,rgb(181,181,181) 241.5deg,rgb(181,181,181) 243.0deg,rgb(181,181,181) 244.5deg,rgb(181,181,181) 246.0deg,rgb(182,182,182) 247.5deg,rgb(181,181,181) 249.0deg,rgb(181,181,181) 250.5deg,rgb(185,185,185) 252.0deg,rgb(187,187,187) 253.5deg,rgb(191,191,191) 255.0deg,rgb(194,194,194) 256.5deg,rgb(196,196,196) 258.0deg,rgb(200,200,200) 259.5deg,rgb(200,200,200) 261.0deg,rgb(203,203,203) 262.5deg,rgb(203,203,203) 264.0deg,rgb(205,205,205) 265.5deg,rgb(206,206,206) 267.0deg,rgb(206,206,206) 268.5deg,rgb(206,206,206) 270.0deg,rgb(208,208,208) 271.5deg,rgb(208,208,208) 273.0deg,rgb(206,206,206) 274.5deg,rgb(204,204,204) 276.0deg,rgb(204,204,204) 277.5deg,rgb(202,202,202) 279.0deg,rgb(200,200,200) 280.5deg,rgb(199,199,199) 282.0deg,rgb(197,197,197) 283.5deg,rgb(196,196,196) 285.0deg,rgb(194,194,194) 286.5deg,rgb(190,190,190) 288.0deg,rgb(189,189,189) 289.5deg,rgb(187,187,187) 291.0deg,rgb(184,184,184) 292.5deg,rgb(183,183,183) 294.0deg,rgb(182,182,182) 295.5deg,rgb(181,181,181) 297.0deg,rgb(181,181,181) 298.5deg,rgb(181,181,181) 300.0deg,rgb(181,181,181) 301.5deg,rgb(181,181,181) 303.0deg,rgb(181,181,181) 304.5deg,rgb(180,180,180) 306.0deg,rgb(180,180,180) 307.5deg,rgb(180,180,180) 309.0deg,rgb(180,180,180) 310.5deg,rgb(180,180,180) 312.0deg,rgb(180,180,180) 313.5deg,rgb(181,181,181) 315.0deg,rgb(180,180,180) 316.5deg,rgb(180,180,180) 318.0deg,rgb(180,180,180) 319.5deg,rgb(180,180,180) 321.0deg,rgb(181,181,181) 322.5deg,rgb(180,180,180) 324.0deg,rgb(180,180,180) 325.5deg,rgb(180,180,180) 327.0deg,rgb(180,180,180) 328.5deg,rgb(180,180,180) 330.0deg,rgb(180,180,180) 331.5deg,rgb(179,179,179) 333.0deg,rgb(179,179,179) 334.5deg,rgb(179,179,179) 336.0deg,rgb(179,179,179) 337.5deg,rgb(180,180,180) 339.0deg,rgb(179,179,179) 340.5deg,rgb(179,179,179) 342.0deg,rgb(180,180,180) 343.5deg,rgb(179,179,179) 345.0deg,rgb(180,180,180) 346.5deg,rgb(179,179,179) 348.0deg,rgb(179,179,179) 349.5deg,rgb(179,179,179) 351.0deg,rgb(179,179,179) 352.5deg,rgb(179,179,179) 354.0deg,rgb(179,179,179) 355.5deg,rgb(179,179,179) 357.0deg,rgb(179,179,179) 358.5deg,rgb(179,179,179) 360.0deg);-webkit-mask-image:radial-gradient(circle 108.00px at 108.00px 108.00px,rgba(0,0,0,0) 61.71px,rgba(0,0,0,1) 63.77px);mask-image:radial-gradient(circle 108.00px at 108.00px 108.00px,rgba(0,0,0,0) 61.71px,rgba(0,0,0,1) 63.77px)"></div><div style="background:conic-gradient(from 0deg at 108.00px 108.00px,rgb(169,169,169) 0.0deg,rgb(169,169,169) 1.5deg,rgb(169,169,169) 3.0deg,rgb(169,169,169) 4.5deg,rgb(169,169,169) 6.0deg,rgb(169,169,169) 7.5deg,rgb(169,169,169) 9.0deg,rgb(169,169,169) 10.5deg,rgb(169,169,169) 12.0deg,rgb(169,169,169) 13.5deg,rgb(169,169,169) 15.0deg,rgb(169,169,169) 16.5deg,rgb(169,169,169) 18.0deg,rgb(169,169,169) 19.5deg,rgb(169,169,169) 21.0deg,rgb(169,169,169) 22.5deg,rgb(169,169,169) 24.0deg,rgb(169,169,169) 25.5deg,rgb(169,169,169) 27.0deg,rgb(169,169,169) 28.5deg,rgb(169,169,169) 30.0deg,rgb(169,169,169) 31.5deg,rgb(169,169,169) 33.0deg,rgb(169,169,169) 34.5deg,rgb(169,169,169) 36.0deg,rgb(169,169,169) 37.5deg,rgb(169,169,169) 39.0deg,rgb(169,169,169) 40.5deg,rgb(169,169,169) 42.0deg,rgb(169,169,169) 43.5deg,rgb(169,169,169) 45.0deg,rgb(169,169,169) 46.5deg,rgb(169,169,169) 48.0deg,rgb(169,169,169) 49.5deg,rgb(169,169,169) 51.0deg,rgb(169,169,169) 52.5deg,rgb(169,169,169) 54.0deg,rgb(169,169,169) 55.5deg,rgb(169,169,169) 57.0deg,rgb(169,169,169) 58.5deg,rgb(169,169,169) 60.0deg,rgb(169,169,169) 61.5deg,rgb(169,169,169) 63.0deg,rgb(169,169,169) 64.5deg,rgb(169,169,169) 66.0deg,rgb(169,169,169) 67.5deg,rgb(169,169,169) 69.0deg,rgb(169,169,169) 70.5deg,rgb(169,169,169) 72.0deg,rgb(170,170,170) 73.5deg,rgb(177,177,177) 75.0deg,rgb(186,186,186) 76.5deg,rgb(195,195,195) 78.0deg,rgb(199,199,199) 79.5deg,rgb(200,200,200) 81.0deg,rgb(203,203,203) 82.5deg,rgb(204,204,204) 84.0deg,rgb(207,207,207) 85.5deg,rgb(206,206,206) 87.0deg,rgb(205,205,205) 88.5deg,rgb(203,203,203) 90.0deg,rgb(204,204,204) 91.5deg,rgb(204,204,204) 93.0deg,rgb(203,203,203) 94.5deg,rgb(202,202,202) 96.0deg,rgb(202,202,202) 97.5deg,rgb(201,201,201) 99.0deg,rgb(200,200,200) 100.5deg,rgb(200,200,200) 102.0deg,rgb(199,199,199) 103.5deg,rgb(198,198,198) 105.0deg,rgb(198,198,198) 106.5deg,rgb(195,195,195) 108.0deg,rgb(196,196,196) 109.5deg,rgb(195,195,195) 111.0deg,rgb(194,194,194) 112.5deg,rgb(193,193,193) 114.0deg,rgb(193,193,193) 115.5deg,rgb(192,192,192) 117.0deg,rgb(190,190,190) 118.5deg,rgb(189,189,189) 120.0deg,rgb(189,189,189) 121.5deg,rgb(188,188,188) 123.0deg,rgb(187,187,187) 124.5deg,rgb(186,186,186) 126.0deg,rgb(185,185,185) 127.5deg,rgb(184,184,184) 129.0deg,rgb(185,185,185) 130.5deg,rgb(184,184,184) 132.0deg,rgb(184,184,184) 133.5deg,rgb(184,184,184) 135.0deg,rgb(183,183,183) 136.5deg,rgb(182,182,182) 138.0deg,rgb(181,181,181) 139.5deg,rgb(180,180,180) 141.0deg,rgb(180,180,180) 142.5deg,rgb(179,179,179) 144.0deg,rgb(177,177,177) 145.5deg,rgb(177,177,177) 147.0deg,rgb(177,177,177) 148.5deg,rgb(175,175,175) 150.0deg,rgb(175,175,175) 151.5deg,rgb(174,174,174) 153.0deg,rgb(174,174,174) 154.5deg,rgb(173,173,173) 156.0deg,rgb(173,173,173) 157.5deg,rgb(173,173,173) 159.0deg,rgb(172,172,172) 160.5deg,rgb(172,172,172) 162.0deg,rgb(172,172,172) 163.5deg,rgb(171,171,171) 165.0deg,rgb(171,171,171) 166.5deg,rgb(171,171,171) 168.0deg,rgb(170,170,170) 169.5deg,rgb(170,170,170) 171.0deg,rgb(170,170,170) 172.5deg,rgb(170,170,170) 174.0deg,rgb(170,170,170) 175.5deg,rgb(170,170,170) 177.0deg,rgb(170,170,170) 178.5deg,rgb(170,170,170) 180.0deg,rgb(170,170,170) 181.5deg,rgb(169,169,169) 183.0deg,rgb(170,170,170) 184.5deg,rgb(169,169,169) 186.0deg,rgb(169,169,169) 187.5deg,rgb(170,170,170) 189.0deg,rgb(170,170,170) 190.5deg,rgb(169,169,169) 192.0deg,rgb(170,170,170) 193.5deg,rgb(170,170,170) 195.0deg,rgb(170,170,170) 196.5deg,rgb(170,170,170) 198.0deg,rgb(170,170,170) 199.5deg,rgb(170,170,170) 201.0deg,rgb(170,170,170) 202.5deg,rgb(170,170,170) 204.0deg,rgb(170,170,170) 205.5deg,rgb(170,170,170) 207.0deg,rgb(170,170,170) 208.5deg,rgb(170,170,170) 210.0deg,rgb(170,170,170) 211.5deg,rgb(170,170,170) 213.0deg,rgb(170,170,170) 214.5deg,rgb(170,170,170) 216.0deg,rgb(170,170,170) 217.5deg,rgb(170,170,170) 219.0deg,rgb(170,170,170) 220.5deg,rgb(170,170,170) 222.0deg,rgb(170,170,170) 223.5deg,rgb(170,170,170) 225.0deg,rgb(170,170,170) 226.5deg,rgb(170,170,170) 228.0deg,rgb(170,170,170) 229.5deg,rgb(170,170,170) 231.0deg,rgb(170,170,170) 232.5deg,rgb(170,170,170) 234.0deg,rgb(170,170,170) 235.5deg,rgb(170,170,170) 237.0deg,rgb(171,171,171) 238.5deg,rgb(170,170,170) 240.0deg,rgb(170,170,170) 241.5deg,rgb(170,170,170) 243.0deg,rgb(170,170,170) 244.5deg,rgb(170,170,170) 246.0deg,rgb(171,171,171) 247.5deg,rgb(170,170,170) 249.0deg,rgb(171,171,171) 250.5deg,rgb(174,174,174) 252.0deg,rgb(176,176,176) 253.5deg,rgb(179,179,179) 255.0deg,rgb(182,182,182) 256.5deg,rgb(184,184,184) 258.0deg,rgb(187,187,187) 259.5deg,rgb(187,187,187) 261.0deg,rgb(189,189,189) 262.5deg,rgb(190,190,190) 264.0deg,rgb(192,192,192) 265.5deg,rgb(192,192,192) 267.0deg,rgb(192,192,192) 268.5deg,rgb(192,192,192) 270.0deg,rgb(194,194,194) 271.5deg,rgb(194,194,194) 273.0deg,rgb(192,192,192) 274.5deg,rgb(191,191,191) 276.0deg,rgb(190,190,190) 277.5deg,rgb(189,189,189) 279.0deg,rgb(187,187,187) 280.5deg,rgb(187,187,187) 282.0deg,rgb(185,185,185) 283.5deg,rgb(184,184,184) 285.0deg,rgb(182,182,182) 286.5deg,rgb(179,179,179) 288.0deg,rgb(178,178,178) 289.5deg,rgb(176,176,176) 291.0deg,rgb(173,173,173) 292.5deg,rgb(172,172,172) 294.0deg,rgb(171,171,171) 295.5deg,rgb(171,171,171) 297.0deg,rgb(170,170,170) 298.5deg,rgb(170,170,170) 300.0deg,rgb(170,170,170) 301.5deg,rgb(170,170,170) 303.0deg,rgb(170,170,170) 304.5deg,rgb(169,169,169) 306.0deg,rgb(170,170,170) 307.5deg,rgb(169,169,169) 309.0deg,rgb(169,169,169) 310.5deg,rgb(169,169,169) 312.0deg,rgb(169,169,169) 313.5deg,rgb(170,170,170) 315.0deg,rgb(170,170,170) 316.5deg,rgb(170,170,170) 318.0deg,rgb(169,169,169) 319.5deg,rgb(169,169,169) 321.0deg,rgb(170,170,170) 322.5deg,rgb(169,169,169) 324.0deg,rgb(169,169,169) 325.5deg,rgb(169,169,169) 327.0deg,rgb(169,169,169) 328.5deg,rgb(169,169,169) 330.0deg,rgb(169,169,169) 331.5deg,rgb(169,169,169) 333.0deg,rgb(169,169,169) 334.5deg,rgb(169,169,169) 336.0deg,rgb(169,169,169) 337.5deg,rgb(169,169,169) 339.0deg,rgb(169,169,169) 340.5deg,rgb(169,169,169) 342.0deg,rgb(170,170,170) 343.5deg,rgb(169,169,169) 345.0deg,rgb(169,169,169) 346.5deg,rgb(169,169,169) 348.0deg,rgb(169,169,169) 349.5deg,rgb(169,169,169) 351.0deg,rgb(169,169,169) 352.5deg,rgb(169,169,169) 354.0deg,rgb(169,169,169) 355.5deg,rgb(169,169,169) 357.0deg,rgb(169,169,169) 358.5deg,rgb(169,169,169) 360.0deg);-webkit-mask-image:radial-gradient(circle 108.00px at 108.00px 108.00px,rgba(0,0,0,0) 63.77px,rgba(0,0,0,1) 66.51px);mask-image:radial-gradient(circle 108.00px at 108.00px 108.00px,rgba(0,0,0,0) 63.77px,rgba(0,0,0,1) 66.51px)"></div><div style="background:conic-gradient(from 0deg at 108.00px 108.00px,rgb(160,160,160) 0.0deg,rgb(160,160,160) 1.5deg,rgb(160,160,160) 3.0deg,rgb(160,160,160) 4.5deg,rgb(160,160,160) 6.0deg,rgb(160,160,160) 7.5deg,rgb(160,160,160) 9.0deg,rgb(160,160,160) 10.5deg,rgb(160,160,160) 12.0deg,rgb(160,160,160) 13.5deg,rgb(160,160,160) 15.0deg,rgb(160,160,160) 16.5deg,rgb(160,160,160) 18.0deg,rgb(160,160,160) 19.5deg,rgb(160,160,160) 21.0deg,rgb(160,160,160) 22.5deg,rgb(160,160,160) 24.0deg,rgb(160,160,160) 25.5deg,rgb(160,160,160) 27.0deg,rgb(160,160,160) 28.5deg,rgb(160,160,160) 30.0deg,rgb(160,160,160) 31.5deg,rgb(160,160,160) 33.0deg,rgb(160,160,160) 34.5deg,rgb(160,160,160) 36.0deg,rgb(160,160,160) 37.5deg,rgb(160,160,160) 39.0deg,rgb(160,160,160) 40.5deg,rgb(160,160,160) 42.0deg,rgb(160,160,160) 43.5deg,rgb(160,160,160) 45.0deg,rgb(160,160,160) 46.5deg,rgb(160,160,160) 48.0deg,rgb(160,160,160) 49.5deg,rgb(160,160,160) 51.0deg,rgb(160,160,160) 52.5deg,rgb(160,160,160) 54.0deg,rgb(160,160,160) 55.5deg,rgb(160,160,160) 57.0deg,rgb(160,160,160) 58.5deg,rgb(160,160,160) 60.0deg,rgb(160,160,160) 61.5deg,rgb(160,160,160) 63.0deg,rgb(160,160,160) 64.5deg,rgb(160,160,160) 66.0deg,rgb(160,160,160) 67.5deg,rgb(160,160,160) 69.0deg,rgb(160,160,160) 70.5deg,rgb(160,160,160) 72.0deg,rgb(160,160,160) 73.5deg,rgb(167,167,167) 75.0deg,rgb(176,176,176) 76.5deg,rgb(184,184,184) 78.0deg,rgb(188,188,188) 79.5deg,rgb(189,189,189) 81.0deg,rgb(191,191,191) 82.5deg,rgb(192,192,192) 84.0deg,rgb(195,195,195) 85.5deg,rgb(194,194,194) 87.0deg,rgb(193,193,193) 88.5deg,rgb(191,191,191) 90.0deg,rgb(192,192,192) 91.5deg,rgb(192,192,192) 93.0deg,rgb(190,190,190) 94.5deg,rgb(189,189,189) 96.0deg,rgb(189,189,189) 97.5deg,rgb(188,188,188) 99.0deg,rgb(187,187,187) 100.5deg,rgb(187,187,187) 102.0deg,rgb(186,186,186) 103.5deg,rgb(185,185,185) 105.0deg,rgb(184,184,184) 106.5deg,rgb(182,182,182) 108.0deg,rgb(182,182,182) 109.5deg,rgb(182,182,182) 111.0deg,rgb(180,180,180) 112.5deg,rgb(180,180,180) 114.0deg,rgb(179,179,179) 115.5deg,rgb(178,178,178) 117.0deg,rgb(176,176,176) 118.5deg,rgb(175,175,175) 120.0deg,rgb(175,175,175) 121.5deg,rgb(174,174,174) 123.0deg,rgb(173,173,173) 124.5deg,rgb(172,172,172) 126.0deg,rgb(171,171,171) 127.5deg,rgb(171,171,171) 129.0deg,rgb(171,171,171) 130.5deg,rgb(170,170,170) 132.0deg,rgb(170,170,170) 133.5deg,rgb(169,169,169) 135.0deg,rgb(169,169,169) 136.5deg,rgb(168,168,168) 138.0deg,rgb(168,168,168) 139.5deg,rgb(167,167,167) 141.0deg,rgb(167,167,167) 142.5deg,rgb(167,167,167) 144.0deg,rgb(165,165,165) 145.5deg,rgb(165,165,165) 147.0deg,rgb(165,165,165) 148.5deg,rgb(164,164,164) 150.0deg,rgb(164,164,164) 151.5deg,rgb(163,163,163) 153.0deg,rgb(164,164,164) 154.5deg,rgb(162,162,162) 156.0deg,rgb(162,162,162) 157.5deg,rgb(162,162,162) 159.0deg,rgb(162,162,162) 160.5deg,rgb(162,162,162) 162.0deg,rgb(163,163,163) 163.5deg,rgb(162,162,162) 165.0deg,rgb(162,162,162) 166.5deg,rgb(162,162,162) 168.0deg,rgb(161,161,161) 169.5deg,rgb(161,161,161) 171.0deg,rgb(161,161,161) 172.5deg,rgb(161,161,161) 174.0deg,rgb(162,162,162) 175.5deg,rgb(161,161,161) 177.0deg,rgb(161,161,161) 178.5deg,rgb(161,161,161) 180.0deg,rgb(161,161,161) 181.5deg,rgb(161,161,161) 183.0deg,rgb(161,161,161) 184.5deg,rgb(161,161,161) 186.0deg,rgb(161,161,161) 187.5deg,rgb(161,161,161) 189.0deg,rgb(161,161,161) 190.5deg,rgb(161,161,161) 192.0deg,rgb(162,162,162) 193.5deg,rgb(162,162,162) 195.0deg,rgb(161,161,161) 196.5deg,rgb(161,161,161) 198.0deg,rgb(161,161,161) 199.5deg,rgb(161,161,161) 201.0deg,rgb(161,161,161) 202.5deg,rgb(161,161,161) 204.0deg,rgb(161,161,161) 205.5deg,rgb(161,161,161) 207.0deg,rgb(161,161,161) 208.5deg,rgb(162,162,162) 210.0deg,rgb(161,161,161) 211.5deg,rgb(162,162,162) 213.0deg,rgb(161,161,161) 214.5deg,rgb(161,161,161) 216.0deg,rgb(161,161,161) 217.5deg,rgb(161,161,161) 219.0deg,rgb(161,161,161) 220.5deg,rgb(161,161,161) 222.0deg,rgb(161,161,161) 223.5deg,rgb(161,161,161) 225.0deg,rgb(161,161,161) 226.5deg,rgb(161,161,161) 228.0deg,rgb(161,161,161) 229.5deg,rgb(161,161,161) 231.0deg,rgb(161,161,161) 232.5deg,rgb(161,161,161) 234.0deg,rgb(162,162,162) 235.5deg,rgb(161,161,161) 237.0deg,rgb(162,162,162) 238.5deg,rgb(161,161,161) 240.0deg,rgb(161,161,161) 241.5deg,rgb(161,161,161) 243.0deg,rgb(161,161,161) 244.5deg,rgb(162,162,162) 246.0deg,rgb(162,162,162) 247.5deg,rgb(162,162,162) 249.0deg,rgb(162,162,162) 250.5deg,rgb(165,165,165) 252.0deg,rgb(167,167,167) 253.5deg,rgb(170,170,170) 255.0deg,rgb(173,173,173) 256.5deg,rgb(174,174,174) 258.0deg,rgb(177,177,177) 259.5deg,rgb(177,177,177) 261.0deg,rgb(179,179,179) 262.5deg,rgb(179,179,179) 264.0deg,rgb(181,181,181) 265.5deg,rgb(182,182,182) 267.0deg,rgb(182,182,182) 268.5deg,rgb(182,182,182) 270.0deg,rgb(184,184,184) 271.5deg,rgb(184,184,184) 273.0deg,rgb(182,182,182) 274.5deg,rgb(180,180,180) 276.0deg,rgb(180,180,180) 277.5deg,rgb(179,179,179) 279.0deg,rgb(177,177,177) 280.5deg,rgb(177,177,177) 282.0deg,rgb(175,175,175) 283.5deg,rgb(174,174,174) 285.0deg,rgb(173,173,173) 286.5deg,rgb(169,169,169) 288.0deg,rgb(169,169,169) 289.5deg,rgb(167,167,167) 291.0deg,rgb(164,164,164) 292.5deg,rgb(163,163,163) 294.0deg,rgb(162,162,162) 295.5deg,rgb(162,162,162) 297.0deg,rgb(161,161,161) 298.5deg,rgb(160,160,160) 300.0deg,rgb(161,161,161) 301.5deg,rgb(161,161,161) 303.0deg,rgb(161,161,161) 304.5deg,rgb(160,160,160) 306.0deg,rgb(160,160,160) 307.5deg,rgb(160,160,160) 309.0deg,rgb(160,160,160) 310.5deg,rgb(160,160,160) 312.0deg,rgb(160,160,160) 313.5deg,rgb(160,160,160) 315.0deg,rgb(161,161,161) 316.5deg,rgb(160,160,160) 318.0deg,rgb(160,160,160) 319.5deg,rgb(160,160,160) 321.0deg,rgb(161,161,161) 322.5deg,rgb(160,160,160) 324.0deg,rgb(160,160,160) 325.5deg,rgb(160,160,160) 327.0deg,rgb(160,160,160) 328.5deg,rgb(160,160,160) 330.0deg,rgb(160,160,160) 331.5deg,rgb(160,160,160) 333.0deg,rgb(160,160,160) 334.5deg,rgb(160,160,160) 336.0deg,rgb(160,160,160) 337.5deg,rgb(160,160,160) 339.0deg,rgb(160,160,160) 340.5deg,rgb(160,160,160) 342.0deg,rgb(161,161,161) 343.5deg,rgb(160,160,160) 345.0deg,rgb(160,160,160) 346.5deg,rgb(160,160,160) 348.0deg,rgb(160,160,160) 349.5deg,rgb(160,160,160) 351.0deg,rgb(160,160,160) 352.5deg,rgb(160,160,160) 354.0deg,rgb(160,160,160) 355.5deg,rgb(160,160,160) 357.0deg,rgb(160,160,160) 358.5deg,rgb(160,160,160) 360.0deg);-webkit-mask-image:radial-gradient(circle 108.00px at 108.00px 108.00px,rgba(0,0,0,0) 66.51px,rgba(0,0,0,1) 70.29px);mask-image:radial-gradient(circle 108.00px at 108.00px 108.00px,rgba(0,0,0,0) 66.51px,rgba(0,0,0,1) 70.29px)"></div><div style="background:conic-gradient(from 0deg at 108.00px 108.00px,rgb(152,152,152) 0.0deg,rgb(152,152,152) 1.5deg,rgb(152,152,152) 3.0deg,rgb(153,153,153) 4.5deg,rgb(152,152,152) 6.0deg,rgb(152,152,152) 7.5deg,rgb(152,152,152) 9.0deg,rgb(153,153,153) 10.5deg,rgb(152,152,152) 12.0deg,rgb(153,153,153) 13.5deg,rgb(153,153,153) 15.0deg,rgb(152,152,152) 16.5deg,rgb(153,153,153) 18.0deg,rgb(152,152,152) 19.5deg,rgb(153,153,153) 21.0deg,rgb(153,153,153) 22.5deg,rgb(153,153,153) 24.0deg,rgb(152,152,152) 25.5deg,rgb(153,153,153) 27.0deg,rgb(153,153,153) 28.5deg,rgb(153,153,153) 30.0deg,rgb(152,152,152) 31.5deg,rgb(153,153,153) 33.0deg,rgb(153,153,153) 34.5deg,rgb(153,153,153) 36.0deg,rgb(152,152,152) 37.5deg,rgb(152,152,152) 39.0deg,rgb(152,152,152) 40.5deg,rgb(152,152,152) 42.0deg,rgb(153,153,153) 43.5deg,rgb(152,152,152) 45.0deg,rgb(153,153,153) 46.5deg,rgb(153,153,153) 48.0deg,rgb(152,152,152) 49.5deg,rgb(152,152,152) 51.0deg,rgb(152,152,152) 52.5deg,rgb(153,153,153) 54.0deg,rgb(153,153,153) 55.5deg,rgb(153,153,153) 57.0deg,rgb(153,153,153) 58.5deg,rgb(152,152,152) 60.0deg,rgb(153,153,153) 61.5deg,rgb(152,152,152) 63.0deg,rgb(152,152,152) 64.5deg,rgb(152,152,152) 66.0deg,rgb(153,153,153) 67.5deg,rgb(152,152,152) 69.0deg,rgb(152,152,152) 70.5deg,rgb(152,152,152) 72.0deg,rgb(153,153,153) 73.5deg,rgb(158,158,158) 75.0deg,rgb(167,167,167) 76.5deg,rgb(175,175,175) 78.0deg,rgb(179,179,179) 79.5deg,rgb(180,180,180) 81.0deg,rgb(182,182,182) 82.5deg,rgb(183,183,183) 84.0deg,rgb(185,185,185) 85.5deg,rgb(184,184,184) 87.0deg,rgb(183,183,183) 88.5deg,rgb(182,182,182) 90.0deg,rgb(182,182,182) 91.5deg,rgb(182,182,182) 93.0deg,rgb(181,181,181) 94.5deg,rgb(180,180,180) 96.0deg,rgb(180,180,180) 97.5deg,rgb(179,179,179) 99.0deg,rgb(178,178,178) 100.5deg,rgb(177,177,177) 102.0deg,rgb(176,176,176) 103.5deg,rgb(175,175,175) 105.0deg,rgb(175,175,175) 106.5deg,rgb(173,173,173) 108.0deg,rgb(173,173,173) 109.5deg,rgb(172,172,172) 111.0deg,rgb(170,170,170) 112.5deg,rgb(170,170,170) 114.0deg,rgb(169,169,169) 115.5deg,rgb(168,168,168) 117.0deg,rgb(166,166,166) 118.5deg,rgb(165,165,165) 120.0deg,rgb(165,165,165) 121.5deg,rgb(164,164,164) 123.0deg,rgb(164,164,164) 124.5deg,rgb(162,162,162) 126.0deg,rgb(162,162,162) 127.5deg,rgb(161,161,161) 129.0deg,rgb(161,161,161) 130.5deg,rgb(160,160,160) 132.0deg,rgb(160,160,160) 133.5deg,rgb(160,160,160) 135.0deg,rgb(159,159,159) 136.5deg,rgb(159,159,159) 138.0deg,rgb(158,158,158) 139.5deg,rgb(158,158,158) 141.0deg,rgb(158,158,158) 142.5deg,rgb(158,158,158) 144.0deg,rgb(156,156,156) 145.5deg,rgb(156,156,156) 147.0deg,rgb(157,157,157) 148.5deg,rgb(156,156,156) 150.0deg,rgb(155,155,155) 151.5deg,rgb(155,155,155) 153.0deg,rgb(156,156,156) 154.5deg,rgb(155,155,155) 156.0deg,rgb(155,155,155) 157.5deg,rgb(155,155,155) 159.0deg,rgb(155,155,155) 160.5deg,rgb(155,155,155) 162.0deg,rgb(156,156,156) 163.5deg,rgb(154,154,154) 165.0deg,rgb(155,155,155) 166.5deg,rgb(155,155,155) 168.0deg,rgb(154,154,154) 169.5deg,rgb(154,154,154) 171.0deg,rgb(154,154,154) 172.5deg,rgb(154,154,154) 174.0deg,rgb(155,155,155) 175.5deg,rgb(155,155,155) 177.0deg,rgb(154,154,154) 178.5deg,rgb(154,154,154) 180.0deg,rgb(154,154,154) 181.5deg,rgb(154,154,154) 183.0deg,rgb(155,155,155) 184.5deg,rgb(154,154,154) 186.0deg,rgb(154,154,154) 187.5deg,rgb(155,155,155) 189.0deg,rgb(155,155,155) 190.5deg,rgb(154,154,154) 192.0deg,rgb(155,155,155) 193.5deg,rgb(155,155,155) 195.0deg,rgb(155,155,155) 196.5deg,rgb(155,155,155) 198.0deg,rgb(154,154,154) 199.5deg,rgb(155,155,155) 201.0deg,rgb(155,155,155) 202.5deg,rgb(154,154,154) 204.0deg,rgb(154,154,154) 205.5deg,rgb(155,155,155) 207.0deg,rgb(154,154,154) 208.5deg,rgb(155,155,155) 210.0deg,rgb(154,154,154) 211.5deg,rgb(155,155,155) 213.0deg,rgb(154,154,154) 214.5deg,rgb(154,154,154) 216.0deg,rgb(154,154,154) 217.5deg,rgb(154,154,154) 219.0deg,rgb(154,154,154) 220.5deg,rgb(154,154,154) 222.0deg,rgb(154,154,154) 223.5deg,rgb(154,154,154) 225.0deg,rgb(154,154,154) 226.5deg,rgb(154,154,154) 228.0deg,rgb(154,154,154) 229.5deg,rgb(154,154,154) 231.0deg,rgb(154,154,154) 232.5deg,rgb(154,154,154) 234.0deg,rgb(155,155,155) 235.5deg,rgb(154,154,154) 237.0deg,rgb(155,155,155) 238.5deg,rgb(154,154,154) 240.0deg,rgb(154,154,154) 241.5deg,rgb(154,154,154) 243.0deg,rgb(155,155,155) 244.5deg,rgb(155,155,155) 246.0deg,rgb(155,155,155) 247.5deg,rgb(155,155,155) 249.0deg,rgb(155,155,155) 250.5deg,rgb(158,158,158) 252.0deg,rgb(160,160,160) 253.5deg,rgb(163,163,163) 255.0deg,rgb(165,165,165) 256.5deg,rgb(167,167,167) 258.0deg,rgb(170,170,170) 259.5deg,rgb(170,170,170) 261.0deg,rgb(171,171,171) 262.5deg,rgb(172,172,172) 264.0deg,rgb(174,174,174) 265.5deg,rgb(174,174,174) 267.0deg,rgb(174,174,174) 268.5deg,rgb(175,175,175) 270.0deg,rgb(176,176,176) 271.5deg,rgb(176,176,176) 273.0deg,rgb(174,174,174) 274.5deg,rgb(173,173,173) 276.0deg,rgb(173,173,173) 277.5deg,rgb(171,171,171) 279.0deg,rgb(170,170,170) 280.5deg,rgb(169,169,169) 282.0deg,rgb(167,167,167) 283.5deg,rgb(167,167,167) 285.0deg,rgb(165,165,165) 286.5deg,rgb(162,162,162) 288.0deg,rgb(161,161,161) 289.5deg,rgb(160,160,160) 291.0deg,rgb(157,157,157) 292.5deg,rgb(156,156,156) 294.0deg,rgb(155,155,155) 295.5deg,rgb(154,154,154) 297.0deg,rgb(154,154,154) 298.5deg,rgb(153,153,153) 300.0deg,rgb(154,154,154) 301.5deg,rgb(154,154,154) 303.0deg,rgb(153,153,153) 304.5deg,rgb(153,153,153) 306.0deg,rgb(153,153,153) 307.5deg,rgb(153,153,153) 309.0deg,rgb(153,153,153) 310.5deg,rgb(153,153,153) 312.0deg,rgb(153,153,153) 313.5deg,rgb(153,153,153) 315.0deg,rgb(153,153,153) 316.5deg,rgb(153,153,153) 318.0deg,rgb(153,153,153) 319.5deg,rgb(153,153,153) 321.0deg,rgb(153,153,153) 322.5deg,rgb(153,153,153) 324.0deg,rgb(152,152,152) 325.5deg,rgb(153,153,153) 327.0deg,rgb(153,153,153) 328.5deg,rgb(152,152,152) 330.0deg,rgb(152,152,152) 331.5deg,rgb(152,152,152) 333.0deg,rgb(152,152,152) 334.5deg,rgb(152,152,152) 336.0deg,rgb(152,152,152) 337.5deg,rgb(153,153,153) 339.0deg,rgb(153,153,153) 340.5deg,rgb(153,153,153) 342.0deg,rgb(153,153,153) 343.5deg,rgb(152,152,152) 345.0deg,rgb(153,153,153) 346.5deg,rgb(153,153,153) 348.0deg,rgb(152,152,152) 349.5deg,rgb(152,152,152) 351.0deg,rgb(152,152,152) 352.5deg,rgb(152,152,152) 354.0deg,rgb(153,153,153) 355.5deg,rgb(153,153,153) 357.0deg,rgb(152,152,152) 358.5deg,rgb(152,152,152) 360.0deg);-webkit-mask-image:radial-gradient(circle 108.00px at 108.00px 108.00px,rgba(0,0,0,0) 70.29px,rgba(0,0,0,1) 75.43px);mask-image:radial-gradient(circle 108.00px at 108.00px 108.00px,rgba(0,0,0,0) 70.29px,rgba(0,0,0,1) 75.43px)"></div><div style="background:conic-gradient(from 0deg at 108.00px 108.00px,rgb(146,146,146) 0.0deg,rgb(146,146,146) 1.5deg,rgb(146,146,146) 3.0deg,rgb(146,146,146) 4.5deg,rgb(146,146,146) 6.0deg,rgb(146,146,146) 7.5deg,rgb(146,146,146) 9.0deg,rgb(146,146,146) 10.5deg,rgb(146,146,146) 12.0deg,rgb(146,146,146) 13.5deg,rgb(146,146,146) 15.0deg,rgb(146,146,146) 16.5deg,rgb(146,146,146) 18.0deg,rgb(146,146,146) 19.5deg,rgb(146,146,146) 21.0deg,rgb(146,146,146) 22.5deg,rgb(146,146,146) 24.0deg,rgb(146,146,146) 25.5deg,rgb(146,146,146) 27.0deg,rgb(146,146,146) 28.5deg,rgb(146,146,146) 30.0deg,rgb(146,146,146) 31.5deg,rgb(146,146,146) 33.0deg,rgb(146,146,146) 34.5deg,rgb(146,146,146) 36.0deg,rgb(146,146,146) 37.5deg,rgb(146,146,146) 39.0deg,rgb(146,146,146) 40.5deg,rgb(146,146,146) 42.0deg,rgb(146,146,146) 43.5deg,rgb(146,146,146) 45.0deg,rgb(146,146,146) 46.5deg,rgb(146,146,146) 48.0deg,rgb(146,146,146) 49.5deg,rgb(146,146,146) 51.0deg,rgb(146,146,146) 52.5deg,rgb(146,146,146) 54.0deg,rgb(146,146,146) 55.5deg,rgb(146,146,146) 57.0deg,rgb(146,146,146) 58.5deg,rgb(146,146,146) 60.0deg,rgb(146,146,146) 61.5deg,rgb(146,146,146) 63.0deg,rgb(146,146,146) 64.5deg,rgb(146,146,146) 66.0deg,rgb(146,146,146) 67.5deg,rgb(146,146,146) 69.0deg,rgb(146,146,146) 70.5deg,rgb(146,146,146) 72.0deg,rgb(146,146,146) 73.5deg,rgb(151,151,151) 75.0deg,rgb(160,160,160) 76.5deg,rgb(167,167,167) 78.0deg,rgb(171,171,171) 79.5deg,rgb(172,172,172) 81.0deg,rgb(174,174,174) 82.5deg,rgb(175,175,175) 84.0deg,rgb(176,176,176) 85.5deg,rgb(175,175,175) 87.0deg,rgb(175,175,175) 88.5deg,rgb(174,174,174) 90.0deg,rgb(174,174,174) 91.5deg,rgb(174,174,174) 93.0deg,rgb(173,173,173) 94.5deg,rgb(172,172,172) 96.0deg,rgb(172,172,172) 97.5deg,rgb(171,171,171) 99.0deg,rgb(170,170,170) 100.5deg,rgb(169,169,169) 102.0deg,rgb(168,168,168) 103.5deg,rgb(167,167,167) 105.0deg,rgb(167,167,167) 106.5deg,rgb(165,165,165) 108.0deg,rgb(165,165,165) 109.5deg,rgb(164,164,164) 111.0deg,rgb(162,162,162) 112.5deg,rgb(162,162,162) 114.0deg,rgb(161,161,161) 115.5deg,rgb(160,160,160) 117.0deg,rgb(159,159,159) 118.5deg,rgb(158,158,158) 120.0deg,rgb(158,158,158) 121.5deg,rgb(157,157,157) 123.0deg,rgb(156,156,156) 124.5deg,rgb(155,155,155) 126.0deg,rgb(154,154,154) 127.5deg,rgb(154,154,154) 129.0deg,rgb(154,154,154) 130.5deg,rgb(153,153,153) 132.0deg,rgb(153,153,153) 133.5deg,rgb(152,152,152) 135.0deg,rgb(152,152,152) 136.5deg,rgb(152,152,152) 138.0deg,rgb(151,151,151) 139.5deg,rgb(151,151,151) 141.0deg,rgb(151,151,151) 142.5deg,rgb(151,151,151) 144.0deg,rgb(150,150,150) 145.5deg,rgb(150,150,150) 147.0deg,rgb(151,151,151) 148.5deg,rgb(150,150,150) 150.0deg,rgb(149,149,149) 151.5deg,rgb(149,149,149) 153.0deg,rgb(150,150,150) 154.5deg,rgb(149,149,149) 156.0deg,rgb(149,149,149) 157.5deg,rgb(149,149,149) 159.0deg,rgb(149,149,149) 160.5deg,rgb(149,149,149) 162.0deg,rgb(150,150,150) 163.5deg,rgb(148,148,148) 165.0deg,rgb(149,149,149) 166.5deg,rgb(149,149,149) 168.0deg,rgb(149,149,149) 169.5deg,rgb(149,149,149) 171.0deg,rgb(149,149,149) 172.5deg,rgb(149,149,149) 174.0deg,rgb(149,149,149) 175.5deg,rgb(149,149,149) 177.0deg,rgb(149,149,149) 178.5deg,rgb(149,149,149) 180.0deg,rgb(149,149,149) 181.5deg,rgb(149,149,149) 183.0deg,rgb(149,149,149) 184.5deg,rgb(149,149,149) 186.0deg,rgb(149,149,149) 187.5deg,rgb(149,149,149) 189.0deg,rgb(149,149,149) 190.5deg,rgb(149,149,149) 192.0deg,rgb(149,149,149) 193.5deg,rgb(150,150,150) 195.0deg,rgb(149,149,149) 196.5deg,rgb(149,149,149) 198.0deg,rgb(149,149,149) 199.5deg,rgb(149,149,149) 201.0deg,rgb(149,149,149) 202.5deg,rgb(149,149,149) 204.0deg,rgb(148,148,148) 205.5deg,rgb(149,149,149) 207.0deg,rgb(149,149,149) 208.5deg,rgb(149,149,149) 210.0deg,rgb(149,149,149) 211.5deg,rgb(149,149,149) 213.0deg,rgb(148,148,148) 214.5deg,rgb(148,148,148) 216.0deg,rgb(149,149,149) 217.5deg,rgb(149,149,149) 219.0deg,rgb(148,148,148) 220.5deg,rgb(148,148,148) 222.0deg,rgb(148,148,148) 223.5deg,rgb(149,149,149) 225.0deg,rgb(148,148,148) 226.5deg,rgb(149,149,149) 228.0deg,rgb(148,148,148) 229.5deg,rgb(149,149,149) 231.0deg,rgb(148,148,148) 232.5deg,rgb(149,149,149) 234.0deg,rgb(149,149,149) 235.5deg,rgb(148,148,148) 237.0deg,rgb(149,149,149) 238.5deg,rgb(149,149,149) 240.0deg,rgb(149,149,149) 241.5deg,rgb(149,149,149) 243.0deg,rgb(149,149,149) 244.5deg,rgb(150,150,150) 246.0deg,rgb(150,150,150) 247.5deg,rgb(149,149,149) 249.0deg,rgb(150,150,150) 250.5deg,rgb(152,152,152) 252.0deg,rgb(154,154,154) 253.5deg,rgb(157,157,157) 255.0deg,rgb(160,160,160) 256.5deg,rgb(161,161,161) 258.0deg,rgb(164,164,164) 259.5deg,rgb(164,164,164) 261.0deg,rgb(166,166,166) 262.5deg,rgb(166,166,166) 264.0deg,rgb(168,168,168) 265.5deg,rgb(169,169,169) 267.0deg,rgb(169,169,169) 268.5deg,rgb(170,170,170) 270.0deg,rgb(171,171,171) 271.5deg,rgb(171,171,171) 273.0deg,rgb(169,169,169) 274.5deg,rgb(168,168,168) 276.0deg,rgb(167,167,167) 277.5deg,rgb(165,165,165) 279.0deg,rgb(164,164,164) 280.5deg,rgb(163,163,163) 282.0deg,rgb(161,161,161) 283.5deg,rgb(160,160,160) 285.0deg,rgb(159,159,159) 286.5deg,rgb(157,157,157) 288.0deg,rgb(156,156,156) 289.5deg,rgb(154,154,154) 291.0deg,rgb(152,152,152) 292.5deg,rgb(150,150,150) 294.0deg,rgb(149,149,149) 295.5deg,rgb(148,148,148) 297.0deg,rgb(148,148,148) 298.5deg,rgb(147,147,147) 300.0deg,rgb(147,147,147) 301.5deg,rgb(148,148,148) 303.0deg,rgb(147,147,147) 304.5deg,rgb(146,146,146) 306.0deg,rgb(147,147,147) 307.5deg,rgb(147,147,147) 309.0deg,rgb(147,147,147) 310.5deg,rgb(146,146,146) 312.0deg,rgb(147,147,147) 313.5deg,rgb(146,146,146) 315.0deg,rgb(147,147,147) 316.5deg,rgb(147,147,147) 318.0deg,rgb(146,146,146) 319.5deg,rgb(146,146,146) 321.0deg,rgb(146,146,146) 322.5deg,rgb(147,147,147) 324.0deg,rgb(146,146,146) 325.5deg,rgb(146,146,146) 327.0deg,rgb(146,146,146) 328.5deg,rgb(146,146,146) 330.0deg,rgb(146,146,146) 331.5deg,rgb(146,146,146) 333.0deg,rgb(146,146,146) 334.5deg,rgb(146,146,146) 336.0deg,rgb(146,146,146) 337.5deg,rgb(146,146,146) 339.0deg,rgb(146,146,146) 340.5deg,rgb(146,146,146) 342.0deg,rgb(147,147,147) 343.5deg,rgb(146,146,146) 345.0deg,rgb(146,146,146) 346.5deg,rgb(146,146,146) 348.0deg,rgb(146,146,146) 349.5deg,rgb(146,146,146) 351.0deg,rgb(146,146,146) 352.5deg,rgb(146,146,146) 354.0deg,rgb(146,146,146) 355.5deg,rgb(146,146,146) 357.0deg,rgb(146,146,146) 358.5deg,rgb(146,146,146) 360.0deg);-webkit-mask-image:radial-gradient(circle 108.00px at 108.00px 108.00px,rgba(0,0,0,0) 75.43px,rgba(0,0,0,1) 83.14px);mask-image:radial-gradient(circle 108.00px at 108.00px 108.00px,rgba(0,0,0,0) 75.43px,rgba(0,0,0,1) 83.14px)"></div><div style="background:conic-gradient(from 0deg at 108.00px 108.00px,rgb(141,141,141) 0.0deg,rgb(141,141,141) 1.5deg,rgb(141,141,141) 3.0deg,rgb(141,141,141) 4.5deg,rgb(141,141,141) 6.0deg,rgb(141,141,141) 7.5deg,rgb(141,141,141) 9.0deg,rgb(142,142,142) 10.5deg,rgb(141,141,141) 12.0deg,rgb(141,141,141) 13.5deg,rgb(142,142,142) 15.0deg,rgb(141,141,141) 16.5deg,rgb(141,141,141) 18.0deg,rgb(141,141,141) 19.5deg,rgb(141,141,141) 21.0deg,rgb(142,142,142) 22.5deg,rgb(141,141,141) 24.0deg,rgb(141,141,141) 25.5deg,rgb(142,142,142) 27.0deg,rgb(141,141,141) 28.5deg,rgb(141,141,141) 30.0deg,rgb(141,141,141) 31.5deg,rgb(141,141,141) 33.0deg,rgb(141,141,141) 34.5deg,rgb(141,141,141) 36.0deg,rgb(141,141,141) 37.5deg,rgb(141,141,141) 39.0deg,rgb(141,141,141) 40.5deg,rgb(141,141,141) 42.0deg,rgb(141,141,141) 43.5deg,rgb(141,141,141) 45.0deg,rgb(141,141,141) 46.5deg,rgb(141,141,141) 48.0deg,rgb(141,141,141) 49.5deg,rgb(141,141,141) 51.0deg,rgb(141,141,141) 52.5deg,rgb(141,141,141) 54.0deg,rgb(141,141,141) 55.5deg,rgb(141,141,141) 57.0deg,rgb(141,141,141) 58.5deg,rgb(141,141,141) 60.0deg,rgb(141,141,141) 61.5deg,rgb(141,141,141) 63.0deg,rgb(141,141,141) 64.5deg,rgb(141,141,141) 66.0deg,rgb(141,141,141) 67.5deg,rgb(141,141,141) 69.0deg,rgb(141,141,141) 70.5deg,rgb(141,141,141) 72.0deg,rgb(141,141,141) 73.5deg,rgb(146,146,146) 75.0deg,rgb(153,153,153) 76.5deg,rgb(160,160,160) 78.0deg,rgb(165,165,165) 79.5deg,rgb(165,165,165) 81.0deg,rgb(166,166,166) 82.5deg,rgb(167,167,167) 84.0deg,rgb(168,168,168) 85.5deg,rgb(168,168,168) 87.0deg,rgb(167,167,167) 88.5deg,rgb(167,167,167) 90.0deg,rgb(166,166,166) 91.5deg,rgb(167,167,167) 93.0deg,rgb(167,167,167) 94.5deg,rgb(166,166,166) 96.0deg,rgb(165,165,165) 97.5deg,rgb(164,164,164) 99.0deg,rgb(163,163,163) 100.5deg,rgb(163,163,163) 102.0deg,rgb(161,161,161) 103.5deg,rgb(160,160,160) 105.0deg,rgb(161,161,161) 106.5deg,rgb(159,159,159) 108.0deg,rgb(159,159,159) 109.5deg,rgb(157,157,157) 111.0deg,rgb(156,156,156) 112.5deg,rgb(155,155,155) 114.0deg,rgb(155,155,155) 115.5deg,rgb(154,154,154) 117.0deg,rgb(153,153,153) 118.5deg,rgb(152,152,152) 120.0deg,rgb(152,152,152) 121.5deg,rgb(152,152,152) 123.0deg,rgb(150,150,150) 124.5deg,rgb(149,149,149) 126.0deg,rgb(149,149,149) 127.5deg,rgb(148,148,148) 129.0deg,rgb(148,148,148) 130.5deg,rgb(147,147,147) 132.0deg,rgb(147,147,147) 133.5deg,rgb(146,146,146) 135.0deg,rgb(146,146,146) 136.5deg,rgb(147,147,147) 138.0deg,rgb(146,146,146) 139.5deg,rgb(146,146,146) 141.0deg,rgb(146,146,146) 142.5deg,rgb(147,147,147) 144.0deg,rgb(145,145,145) 145.5deg,rgb(146,146,146) 147.0deg,rgb(146,146,146) 148.5deg,rgb(146,146,146) 150.0deg,rgb(145,145,145) 151.5deg,rgb(145,145,145) 153.0deg,rgb(146,146,146) 154.5deg,rgb(145,145,145) 156.0deg,rgb(145,145,145) 157.5deg,rgb(145,145,145) 159.0deg,rgb(146,146,146) 160.5deg,rgb(146,146,146) 162.0deg,rgb(146,146,146) 163.5deg,rgb(145,145,145) 165.0deg,rgb(146,146,146) 166.5deg,rgb(146,146,146) 168.0deg,rgb(145,145,145) 169.5deg,rgb(145,145,145) 171.0deg,rgb(146,146,146) 172.5deg,rgb(145,145,145) 174.0deg,rgb(145,145,145) 175.5deg,rgb(146,146,146) 177.0deg,rgb(145,145,145) 178.5deg,rgb(145,145,145) 180.0deg,rgb(145,145,145) 181.5deg,rgb(145,145,145) 183.0deg,rgb(146,146,146) 184.5deg,rgb(145,145,145) 186.0deg,rgb(145,145,145) 187.5deg,rgb(146,146,146) 189.0deg,rgb(146,146,146) 190.5deg,rgb(145,145,145) 192.0deg,rgb(146,146,146) 193.5deg,rgb(146,146,146) 195.0deg,rgb(146,146,146) 196.5deg,rgb(145,145,145) 198.0deg,rgb(145,145,145) 199.5deg,rgb(145,145,145) 201.0deg,rgb(146,146,146) 202.5deg,rgb(145,145,145) 204.0deg,rgb(145,145,145) 205.5deg,rgb(146,146,146) 207.0deg,rgb(145,145,145) 208.5deg,rgb(145,145,145) 210.0deg,rgb(145,145,145) 211.5deg,rgb(145,145,145) 213.0deg,rgb(145,145,145) 214.5deg,rgb(144,144,144) 216.0deg,rgb(145,145,145) 217.5deg,rgb(145,145,145) 219.0deg,rgb(145,145,145) 220.5deg,rgb(144,144,144) 222.0deg,rgb(144,144,144) 223.5deg,rgb(145,145,145) 225.0deg,rgb(144,144,144) 226.5deg,rgb(145,145,145) 228.0deg,rgb(145,145,145) 229.5deg,rgb(145,145,145) 231.0deg,rgb(144,144,144) 232.5deg,rgb(145,145,145) 234.0deg,rgb(145,145,145) 235.5deg,rgb(145,145,145) 237.0deg,rgb(146,146,146) 238.5deg,rgb(145,145,145) 240.0deg,rgb(145,145,145) 241.5deg,rgb(145,145,145) 243.0deg,rgb(146,146,146) 244.5deg,rgb(146,146,146) 246.0deg,rgb(147,147,147) 247.5deg,rgb(146,146,146) 249.0deg,rgb(147,147,147) 250.5deg,rgb(149,149,149) 252.0deg,rgb(151,151,151) 253.5deg,rgb(153,153,153) 255.0deg,rgb(156,156,156) 256.5deg,rgb(158,158,158) 258.0deg,rgb(160,160,160) 259.5deg,rgb(160,160,160) 261.0deg,rgb(162,162,162) 262.5deg,rgb(163,163,163) 264.0deg,rgb(165,165,165) 265.5deg,rgb(166,166,166) 267.0deg,rgb(166,166,166) 268.5deg,rgb(167,167,167) 270.0deg,rgb(168,168,168) 271.5deg,rgb(168,168,168) 273.0deg,rgb(167,167,167) 274.5deg,rgb(165,165,165) 276.0deg,rgb(163,163,163) 277.5deg,rgb(162,162,162) 279.0deg,rgb(160,160,160) 280.5deg,rgb(159,159,159) 282.0deg,rgb(157,157,157) 283.5deg,rgb(155,155,155) 285.0deg,rgb(155,155,155) 286.5deg,rgb(153,153,153) 288.0deg,rgb(152,152,152) 289.5deg,rgb(150,150,150) 291.0deg,rgb(148,148,148) 292.5deg,rgb(147,147,147) 294.0deg,rgb(145,145,145) 295.5deg,rgb(144,144,144) 297.0deg,rgb(144,144,144) 298.5deg,rgb(142,142,142) 300.0deg,rgb(143,143,143) 301.5deg,rgb(143,143,143) 303.0deg,rgb(142,142,142) 304.5deg,rgb(142,142,142) 306.0deg,rgb(142,142,142) 307.5deg,rgb(142,142,142) 309.0deg,rgb(142,142,142) 310.5deg,rgb(142,142,142) 312.0deg,rgb(142,142,142) 313.5deg,rgb(142,142,142) 315.0deg,rgb(142,142,142) 316.5deg,rgb(142,142,142) 318.0deg,rgb(141,141,141) 319.5deg,rgb(141,141,141) 321.0deg,rgb(142,142,142) 322.5deg,rgb(142,142,142) 324.0deg,rgb(141,141,141) 325.5deg,rgb(141,141,141) 327.0deg,rgb(141,141,141) 328.5deg,rgb(141,141,141) 330.0deg,rgb(141,141,141) 331.5deg,rgb(141,141,141) 333.0deg,rgb(141,141,141) 334.5deg,rgb(141,141,141) 336.0deg,rgb(141,141,141) 337.5deg,rgb(141,141,141) 339.0deg,rgb(142,142,142) 340.5deg,rgb(141,141,141) 342.0deg,rgb(142,142,142) 343.5deg,rgb(141,141,141) 345.0deg,rgb(141,141,141) 346.5deg,rgb(142,142,142) 348.0deg,rgb(141,141,141) 349.5deg,rgb(141,141,141) 351.0deg,rgb(141,141,141) 352.5deg,rgb(141,141,141) 354.0deg,rgb(141,141,141) 355.5deg,rgb(142,142,142) 357.0deg,rgb(141,141,141) 358.5deg,rgb(141,141,141) 360.0deg);-webkit-mask-image:radial-gradient(circle 108.00px at 108.00px 108.00px,rgba(0,0,0,0) 83.14px,rgba(0,0,0,1) 94.29px);mask-image:radial-gradient(circle 108.00px at 108.00px 108.00px,rgba(0,0,0,0) 83.14px,rgba(0,0,0,1) 94.29px)"></div><div style="background:conic-gradient(from 0deg at 108.00px 108.00px,rgb(138,138,138) 0.0deg,rgb(138,138,138) 1.5deg,rgb(138,138,138) 3.0deg,rgb(139,139,139) 4.5deg,rgb(138,138,138) 6.0deg,rgb(138,138,138) 7.5deg,rgb(138,138,138) 9.0deg,rgb(139,139,139) 10.5deg,rgb(138,138,138) 12.0deg,rgb(138,138,138) 13.5deg,rgb(139,139,139) 15.0deg,rgb(139,139,139) 16.5deg,rgb(138,138,138) 18.0deg,rgb(138,138,138) 19.5deg,rgb(138,138,138) 21.0deg,rgb(139,139,139) 22.5deg,rgb(138,138,138) 24.0deg,rgb(138,138,138) 25.5deg,rgb(139,139,139) 27.0deg,rgb(138,138,138) 28.5deg,rgb(138,138,138) 30.0deg,rgb(138,138,138) 31.5deg,rgb(138,138,138) 33.0deg,rgb(138,138,138) 34.5deg,rgb(138,138,138) 36.0deg,rgb(138,138,138) 37.5deg,rgb(139,139,139) 39.0deg,rgb(138,138,138) 40.5deg,rgb(138,138,138) 42.0deg,rgb(138,138,138) 43.5deg,rgb(139,139,139) 45.0deg,rgb(138,138,138) 46.5deg,rgb(139,139,139) 48.0deg,rgb(138,138,138) 49.5deg,rgb(139,139,139) 51.0deg,rgb(138,138,138) 52.5deg,rgb(139,139,139) 54.0deg,rgb(139,139,139) 55.5deg,rgb(138,138,138) 57.0deg,rgb(138,138,138) 58.5deg,rgb(138,138,138) 60.0deg,rgb(138,138,138) 61.5deg,rgb(138,138,138) 63.0deg,rgb(138,138,138) 64.5deg,rgb(139,139,139) 66.0deg,rgb(139,139,139) 67.5deg,rgb(138,138,138) 69.0deg,rgb(138,138,138) 70.5deg,rgb(138,138,138) 72.0deg,rgb(139,139,139) 73.5deg,rgb(142,142,142) 75.0deg,rgb(149,149,149) 76.5deg,rgb(154,154,154) 78.0deg,rgb(160,160,160) 79.5deg,rgb(161,161,161) 81.0deg,rgb(161,161,161) 82.5deg,rgb(161,161,161) 84.0deg,rgb(162,162,162) 85.5deg,rgb(162,162,162) 87.0deg,rgb(161,161,161) 88.5deg,rgb(161,161,161) 90.0deg,rgb(161,161,161) 91.5deg,rgb(162,162,162) 93.0deg,rgb(162,162,162) 94.5deg,rgb(161,161,161) 96.0deg,rgb(160,160,160) 97.5deg,rgb(159,159,159) 99.0deg,rgb(158,158,158) 100.5deg,rgb(158,158,158) 102.0deg,rgb(156,156,156) 103.5deg,rgb(156,156,156) 105.0deg,rgb(156,156,156) 106.5deg,rgb(155,155,155) 108.0deg,rgb(154,154,154) 109.5deg,rgb(153,153,153) 111.0deg,rgb(152,152,152) 112.5deg,rgb(151,151,151) 114.0deg,rgb(150,150,150) 115.5deg,rgb(150,150,150) 117.0deg,rgb(150,150,150) 118.5deg,rgb(148,148,148) 120.0deg,rgb(149,149,149) 121.5deg,rgb(149,149,149) 123.0deg,rgb(147,147,147) 124.5deg,rgb(146,146,146) 126.0deg,rgb(146,146,146) 127.5deg,rgb(146,146,146) 129.0deg,rgb(145,145,145) 130.5deg,rgb(144,144,144) 132.0deg,rgb(144,144,144) 133.5deg,rgb(143,143,143) 135.0deg,rgb(143,143,143) 136.5deg,rgb(144,144,144) 138.0deg,rgb(143,143,143) 139.5deg,rgb(144,144,144) 141.0deg,rgb(144,144,144) 142.5deg,rgb(145,145,145) 144.0deg,rgb(143,143,143) 145.5deg,rgb(144,144,144) 147.0deg,rgb(144,144,144) 148.5deg,rgb(144,144,144) 150.0deg,rgb(144,144,144) 151.5deg,rgb(144,144,144) 153.0deg,rgb(145,145,145) 154.5deg,rgb(144,144,144) 156.0deg,rgb(144,144,144) 157.5deg,rgb(144,144,144) 159.0deg,rgb(146,146,146) 160.5deg,rgb(145,145,145) 162.0deg,rgb(146,146,146) 163.5deg,rgb(144,144,144) 165.0deg,rgb(145,145,145) 166.5deg,rgb(146,146,146) 168.0deg,rgb(144,144,144) 169.5deg,rgb(144,144,144) 171.0deg,rgb(145,145,145) 172.5deg,rgb(144,144,144) 174.0deg,rgb(144,144,144) 175.5deg,rgb(146,146,146) 177.0deg,rgb(144,144,144) 178.5deg,rgb(144,144,144) 180.0deg,rgb(144,144,144) 181.5deg,rgb(144,144,144) 183.0deg,rgb(145,145,145) 184.5deg,rgb(144,144,144) 186.0deg,rgb(144,144,144) 187.5deg,rgb(145,145,145) 189.0deg,rgb(146,146,146) 190.5deg,rgb(145,145,145) 192.0deg,rgb(144,144,144) 193.5deg,rgb(146,146,146) 195.0deg,rgb(145,145,145) 196.5deg,rgb(144,144,144) 198.0deg,rgb(144,144,144) 199.5deg,rgb(144,144,144) 201.0deg,rgb(145,145,145) 202.5deg,rgb(144,144,144) 204.0deg,rgb(144,144,144) 205.5deg,rgb(145,145,145) 207.0deg,rgb(144,144,144) 208.5deg,rgb(144,144,144) 210.0deg,rgb(144,144,144) 211.5deg,rgb(144,144,144) 213.0deg,rgb(143,143,143) 214.5deg,rgb(143,143,143) 216.0deg,rgb(144,144,144) 217.5deg,rgb(144,144,144) 219.0deg,rgb(144,144,144) 220.5deg,rgb(143,143,143) 222.0deg,rgb(143,143,143) 223.5deg,rgb(144,144,144) 225.0deg,rgb(143,143,143) 226.5deg,rgb(144,144,144) 228.0deg,rgb(144,144,144) 229.5deg,rgb(144,144,144) 231.0deg,rgb(143,143,143) 232.5deg,rgb(145,145,145) 234.0deg,rgb(144,144,144) 235.5deg,rgb(143,143,143) 237.0deg,rgb(144,144,144) 238.5deg,rgb(144,144,144) 240.0deg,rgb(144,144,144) 241.5deg,rgb(144,144,144) 243.0deg,rgb(145,145,145) 244.5deg,rgb(146,146,146) 246.0deg,rgb(146,146,146) 247.5deg,rgb(145,145,145) 249.0deg,rgb(147,147,147) 250.5deg,rgb(148,148,148) 252.0deg,rgb(151,151,151) 253.5deg,rgb(152,152,152) 255.0deg,rgb(155,155,155) 256.5deg,rgb(157,157,157) 258.0deg,rgb(159,159,159) 259.5deg,rgb(160,160,160) 261.0deg,rgb(161,161,161) 262.5deg,rgb(163,163,163) 264.0deg,rgb(165,165,165) 265.5deg,rgb(165,165,165) 267.0deg,rgb(166,166,166) 268.5deg,rgb(167,167,167) 270.0deg,rgb(168,168,168) 271.5deg,rgb(168,168,168) 273.0deg,rgb(167,167,167) 274.5deg,rgb(165,165,165) 276.0deg,rgb(162,162,162) 277.5deg,rgb(161,161,161) 279.0deg,rgb(158,158,158) 280.5deg,rgb(158,158,158) 282.0deg,rgb(155,155,155) 283.5deg,rgb(153,153,153) 285.0deg,rgb(153,153,153) 286.5deg,rgb(152,152,152) 288.0deg,rgb(150,150,150) 289.5deg,rgb(148,148,148) 291.0deg,rgb(147,147,147) 292.5deg,rgb(145,145,145) 294.0deg,rgb(144,144,144) 295.5deg,rgb(143,143,143) 297.0deg,rgb(142,142,142) 298.5deg,rgb(140,140,140) 300.0deg,rgb(141,141,141) 301.5deg,rgb(142,142,142) 303.0deg,rgb(140,140,140) 304.5deg,rgb(140,140,140) 306.0deg,rgb(140,140,140) 307.5deg,rgb(140,140,140) 309.0deg,rgb(140,140,140) 310.5deg,rgb(139,139,139) 312.0deg,rgb(140,140,140) 313.5deg,rgb(139,139,139) 315.0deg,rgb(139,139,139) 316.5deg,rgb(140,140,140) 318.0deg,rgb(138,138,138) 319.5deg,rgb(139,139,139) 321.0deg,rgb(139,139,139) 322.5deg,rgb(140,140,140) 324.0deg,rgb(138,138,138) 325.5deg,rgb(139,139,139) 327.0deg,rgb(139,139,139) 328.5deg,rgb(138,138,138) 330.0deg,rgb(138,138,138) 331.5deg,rgb(138,138,138) 333.0deg,rgb(139,139,139) 334.5deg,rgb(138,138,138) 336.0deg,rgb(138,138,138) 337.5deg,rgb(138,138,138) 339.0deg,rgb(139,139,139) 340.5deg,rgb(138,138,138) 342.0deg,rgb(139,139,139) 343.5deg,rgb(138,138,138) 345.0deg,rgb(138,138,138) 346.5deg,rgb(139,139,139) 348.0deg,rgb(138,138,138) 349.5deg,rgb(138,138,138) 351.0deg,rgb(138,138,138) 352.5deg,rgb(138,138,138) 354.0deg,rgb(138,138,138) 355.5deg,rgb(139,139,139) 357.0deg,rgb(138,138,138) 358.5deg,rgb(138,138,138) 360.0deg);-webkit-mask-image:radial-gradient(circle 108.00px at 108.00px 108.00px,rgba(0,0,0,0) 94.29px,rgba(0,0,0,1) 108.00px);mask-image:radial-gradient(circle 108.00px at 108.00px 108.00px,rgba(0,0,0,0) 94.29px,rgba(0,0,0,1) 108.00px)"></div></div><svg width="760" height="764" viewBox="0 0 760 764" style="position:absolute;left:0;top:0;will-change:transform"><line x1="171.50" y1="134.98" x2="123.50" y2="134.56" stroke="#3a5fe0" stroke-width="1.05"/><line x1="171.61" y1="139.16" x2="123.70" y2="142.09" stroke="#e83040" stroke-width="1.05"/><circle cx="231.5" cy="135.5" r="17.14" fill="none" stroke="#333" stroke-width="1"/><path d="M228.50 135.50L234.50 135.50M231.50 132.50L231.50 138.50" stroke="#2a2a2a" stroke-width="0.9" fill="none"/><text x="171.90" y="135.80" font-size="9.6" fill="#3f6ff5" textLength="21.2" lengthAdjust="spacing">+0.5°</text><text x="171.90" y="144.70" font-size="9.6" fill="#f5403c" textLength="21.2" lengthAdjust="spacing">−3.5°</text><rect x="111.5" y="15.5" width="240.00" height="240.00" fill="none" stroke="#4a4a4a" stroke-width="1.0"/><path d="M114.93 255.50L114.93 253.10M114.93 15.50L114.93 17.90M111.50 18.93L113.90 18.93M351.50 18.93L349.10 18.93M118.36 255.50L118.36 253.10M118.36 15.50L118.36 17.90M111.50 22.36L113.90 22.36M351.50 22.36L349.10 22.36M121.79 255.50L121.79 253.10M121.79 15.50L121.79 17.90M111.50 25.79L113.90 25.79M351.50 25.79L349.10 25.79M125.21 255.50L125.21 253.10M125.21 15.50L125.21 17.90M111.50 29.21L113.90 29.21M351.50 29.21L349.10 29.21M128.64 255.50L128.64 251.00M128.64 15.50L128.64 20.00M111.50 32.64L116.00 32.64M351.50 32.64L347.00 32.64M132.07 255.50L132.07 253.10M132.07 15.50L132.07 17.90M111.50 36.07L113.90 36.07M351.50 36.07L349.10 36.07M135.50 255.50L135.50 253.10M135.50 15.50L135.50 17.90M111.50 39.50L113.90 39.50M351.50 39.50L349.10 39.50M138.93 255.50L138.93 253.10M138.93 15.50L138.93 17.90M111.50 42.93L113.90 42.93M351.50 42.93L349.10 42.93M142.36 255.50L142.36 253.10M142.36 15.50L142.36 17.90M111.50 46.36L113.90 46.36M351.50 46.36L349.10 46.36M145.79 255.50L145.79 251.00M145.79 15.50L145.79 20.00M111.50 49.79L116.00 49.79M351.50 49.79L347.00 49.79M149.21 255.50L149.21 253.10M149.21 15.50L149.21 17.90M111.50 53.21L113.90 53.21M351.50 53.21L349.10 53.21M152.64 255.50L152.64 253.10M152.64 15.50L152.64 17.90M111.50 56.64L113.90 56.64M351.50 56.64L349.10 56.64M156.07 255.50L156.07 253.10M156.07 15.50L156.07 17.90M111.50 60.07L113.90 60.07M351.50 60.07L349.10 60.07M159.50 255.50L159.50 253.10M159.50 15.50L159.50 17.90M111.50 63.50L113.90 63.50M351.50 63.50L349.10 63.50M162.93 255.50L162.93 251.00M162.93 15.50L162.93 20.00M111.50 66.93L116.00 66.93M351.50 66.93L347.00 66.93M166.36 255.50L166.36 253.10M166.36 15.50L166.36 17.90M111.50 70.36L113.90 70.36M351.50 70.36L349.10 70.36M169.79 255.50L169.79 253.10M169.79 15.50L169.79 17.90M111.50 73.79L113.90 73.79M351.50 73.79L349.10 73.79M173.21 255.50L173.21 253.10M173.21 15.50L173.21 17.90M111.50 77.21L113.90 77.21M351.50 77.21L349.10 77.21M176.64 255.50L176.64 253.10M176.64 15.50L176.64 17.90M111.50 80.64L113.90 80.64M351.50 80.64L349.10 80.64M180.07 255.50L180.07 251.00M180.07 15.50L180.07 20.00M111.50 84.07L116.00 84.07M351.50 84.07L347.00 84.07M183.50 255.50L183.50 253.10M183.50 15.50L183.50 17.90M111.50 87.50L113.90 87.50M351.50 87.50L349.10 87.50M186.93 255.50L186.93 253.10M186.93 15.50L186.93 17.90M111.50 90.93L113.90 90.93M351.50 90.93L349.10 90.93M190.36 255.50L190.36 253.10M190.36 15.50L190.36 17.90M111.50 94.36L113.90 94.36M351.50 94.36L349.10 94.36M193.79 255.50L193.79 253.10M193.79 15.50L193.79 17.90M111.50 97.79L113.90 97.79M351.50 97.79L349.10 97.79M197.21 255.50L197.21 251.00M197.21 15.50L197.21 20.00M111.50 101.21L116.00 101.21M351.50 101.21L347.00 101.21M200.64 255.50L200.64 253.10M200.64 15.50L200.64 17.90M111.50 104.64L113.90 104.64M351.50 104.64L349.10 104.64M204.07 255.50L204.07 253.10M204.07 15.50L204.07 17.90M111.50 108.07L113.90 108.07M351.50 108.07L349.10 108.07M207.50 255.50L207.50 253.10M207.50 15.50L207.50 17.90M111.50 111.50L113.90 111.50M351.50 111.50L349.10 111.50M210.93 255.50L210.93 253.10M210.93 15.50L210.93 17.90M111.50 114.93L113.90 114.93M351.50 114.93L349.10 114.93M214.36 255.50L214.36 251.00M214.36 15.50L214.36 20.00M111.50 118.36L116.00 118.36M351.50 118.36L347.00 118.36M217.79 255.50L217.79 253.10M217.79 15.50L217.79 17.90M111.50 121.79L113.90 121.79M351.50 121.79L349.10 121.79M221.21 255.50L221.21 253.10M221.21 15.50L221.21 17.90M111.50 125.21L113.90 125.21M351.50 125.21L349.10 125.21M224.64 255.50L224.64 253.10M224.64 15.50L224.64 17.90M111.50 128.64L113.90 128.64M351.50 128.64L349.10 128.64M228.07 255.50L228.07 253.10M228.07 15.50L228.07 17.90M111.50 132.07L113.90 132.07M351.50 132.07L349.10 132.07M231.50 255.50L231.50 251.00M231.50 15.50L231.50 20.00M111.50 135.50L116.00 135.50M351.50 135.50L347.00 135.50M234.93 255.50L234.93 253.10M234.93 15.50L234.93 17.90M111.50 138.93L113.90 138.93M351.50 138.93L349.10 138.93M238.36 255.50L238.36 253.10M238.36 15.50L238.36 17.90M111.50 142.36L113.90 142.36M351.50 142.36L349.10 142.36M241.79 255.50L241.79 253.10M241.79 15.50L241.79 17.90M111.50 145.79L113.90 145.79M351.50 145.79L349.10 145.79M245.21 255.50L245.21 253.10M245.21 15.50L245.21 17.90M111.50 149.21L113.90 149.21M351.50 149.21L349.10 149.21M248.64 255.50L248.64 251.00M248.64 15.50L248.64 20.00M111.50 152.64L116.00 152.64M351.50 152.64L347.00 152.64M252.07 255.50L252.07 253.10M252.07 15.50L252.07 17.90M111.50 156.07L113.90 156.07M351.50 156.07L349.10 156.07M255.50 255.50L255.50 253.10M255.50 15.50L255.50 17.90M111.50 159.50L113.90 159.50M351.50 159.50L349.10 159.50M258.93 255.50L258.93 253.10M258.93 15.50L258.93 17.90M111.50 162.93L113.90 162.93M351.50 162.93L349.10 162.93M262.36 255.50L262.36 253.10M262.36 15.50L262.36 17.90M111.50 166.36L113.90 166.36M351.50 166.36L349.10 166.36M265.79 255.50L265.79 251.00M265.79 15.50L265.79 20.00M111.50 169.79L116.00 169.79M351.50 169.79L347.00 169.79M269.21 255.50L269.21 253.10M269.21 15.50L269.21 17.90M111.50 173.21L113.90 173.21M351.50 173.21L349.10 173.21M272.64 255.50L272.64 253.10M272.64 15.50L272.64 17.90M111.50 176.64L113.90 176.64M351.50 176.64L349.10 176.64M276.07 255.50L276.07 253.10M276.07 15.50L276.07 17.90M111.50 180.07L113.90 180.07M351.50 180.07L349.10 180.07M279.50 255.50L279.50 253.10M279.50 15.50L279.50 17.90M111.50 183.50L113.90 183.50M351.50 183.50L349.10 183.50M282.93 255.50L282.93 251.00M282.93 15.50L282.93 20.00M111.50 186.93L116.00 186.93M351.50 186.93L347.00 186.93M286.36 255.50L286.36 253.10M286.36 15.50L286.36 17.90M111.50 190.36L113.90 190.36M351.50 190.36L349.10 190.36M289.79 255.50L289.79 253.10M289.79 15.50L289.79 17.90M111.50 193.79L113.90 193.79M351.50 193.79L349.10 193.79M293.21 255.50L293.21 253.10M293.21 15.50L293.21 17.90M111.50 197.21L113.90 197.21M351.50 197.21L349.10 197.21M296.64 255.50L296.64 253.10M296.64 15.50L296.64 17.90M111.50 200.64L113.90 200.64M351.50 200.64L349.10 200.64M300.07 255.50L300.07 251.00M300.07 15.50L300.07 20.00M111.50 204.07L116.00 204.07M351.50 204.07L347.00 204.07M303.50 255.50L303.50 253.10M303.50 15.50L303.50 17.90M111.50 207.50L113.90 207.50M351.50 207.50L349.10 207.50M306.93 255.50L306.93 253.10M306.93 15.50L306.93 17.90M111.50 210.93L113.90 210.93M351.50 210.93L349.10 210.93M310.36 255.50L310.36 253.10M310.36 15.50L310.36 17.90M111.50 214.36L113.90 214.36M351.50 214.36L349.10 214.36M313.79 255.50L313.79 253.10M313.79 15.50L313.79 17.90M111.50 217.79L113.90 217.79M351.50 217.79L349.10 217.79M317.21 255.50L317.21 251.00M317.21 15.50L317.21 20.00M111.50 221.21L116.00 221.21M351.50 221.21L347.00 221.21M320.64 255.50L320.64 253.10M320.64 15.50L320.64 17.90M111.50 224.64L113.90 224.64M351.50 224.64L349.10 224.64M324.07 255.50L324.07 253.10M324.07 15.50L324.07 17.90M111.50 228.07L113.90 228.07M351.50 228.07L349.10 228.07M327.50 255.50L327.50 253.10M327.50 15.50L327.50 17.90M111.50 231.50L113.90 231.50M351.50 231.50L349.10 231.50M330.93 255.50L330.93 253.10M330.93 15.50L330.93 17.90M111.50 234.93L113.90 234.93M351.50 234.93L349.10 234.93M334.36 255.50L334.36 251.00M334.36 15.50L334.36 20.00M111.50 238.36L116.00 238.36M351.50 238.36L347.00 238.36M337.79 255.50L337.79 253.10M337.79 15.50L337.79 17.90M111.50 241.79L113.90 241.79M351.50 241.79L349.10 241.79M341.21 255.50L341.21 253.10M341.21 15.50L341.21 17.90M111.50 245.21L113.90 245.21M351.50 245.21L349.10 245.21M344.64 255.50L344.64 253.10M344.64 15.50L344.64 17.90M111.50 248.64L113.90 248.64M351.50 248.64L349.10 248.64M348.07 255.50L348.07 253.10M348.07 15.50L348.07 17.90M111.50 252.07L113.90 252.07M351.50 252.07L349.10 252.07" stroke="#4a4a4a" stroke-width="1.0" fill="none"/><text x="111.50" y="269.90" font-size="10.5" fill="#2e2e2e" text-anchor="middle">−7</text><text x="107.90" y="255.20" font-size="10.5" fill="#2e2e2e" text-anchor="end">−7</text><text x="128.64" y="269.90" font-size="10.5" fill="#2e2e2e" text-anchor="middle">−6</text><text x="107.90" y="242.56" font-size="10.5" fill="#2e2e2e" text-anchor="end">−6</text><text x="145.79" y="269.90" font-size="10.5" fill="#2e2e2e" text-anchor="middle">−5</text><text x="107.90" y="225.41" font-size="10.5" fill="#2e2e2e" text-anchor="end">−5</text><text x="162.93" y="269.90" font-size="10.5" fill="#2e2e2e" text-anchor="middle">−4</text><text x="107.90" y="208.27" font-size="10.5" fill="#2e2e2e" text-anchor="end">−4</text><text x="180.07" y="269.90" font-size="10.5" fill="#2e2e2e" text-anchor="middle">−3</text><text x="107.90" y="191.13" font-size="10.5" fill="#2e2e2e" text-anchor="end">−3</text><text x="197.21" y="269.90" font-size="10.5" fill="#2e2e2e" text-anchor="middle">−2</text><text x="107.90" y="173.99" font-size="10.5" fill="#2e2e2e" text-anchor="end">−2</text><text x="214.36" y="269.90" font-size="10.5" fill="#2e2e2e" text-anchor="middle">−1</text><text x="107.90" y="156.84" font-size="10.5" fill="#2e2e2e" text-anchor="end">−1</text><text x="231.50" y="269.90" font-size="10.5" fill="#2e2e2e" text-anchor="middle">0</text><text x="107.90" y="139.70" font-size="10.5" fill="#2e2e2e" text-anchor="end">0</text><text x="248.64" y="269.90" font-size="10.5" fill="#2e2e2e" text-anchor="middle">1</text><text x="107.90" y="122.56" font-size="10.5" fill="#2e2e2e" text-anchor="end">1</text><text x="265.79" y="269.90" font-size="10.5" fill="#2e2e2e" text-anchor="middle">2</text><text x="107.90" y="105.41" font-size="10.5" fill="#2e2e2e" text-anchor="end">2</text><text x="282.93" y="269.90" font-size="10.5" fill="#2e2e2e" text-anchor="middle">3</text><text x="107.90" y="88.27" font-size="10.5" fill="#2e2e2e" text-anchor="end">3</text><text x="300.07" y="269.90" font-size="10.5" fill="#2e2e2e" text-anchor="middle">4</text><text x="107.90" y="71.13" font-size="10.5" fill="#2e2e2e" text-anchor="end">4</text><text x="317.21" y="269.90" font-size="10.5" fill="#2e2e2e" text-anchor="middle">5</text><text x="107.90" y="53.99" font-size="10.5" fill="#2e2e2e" text-anchor="end">5</text><text x="334.36" y="269.90" font-size="10.5" fill="#2e2e2e" text-anchor="middle">6</text><text x="107.90" y="36.84" font-size="10.5" fill="#2e2e2e" text-anchor="end">6</text><text x="351.50" y="269.90" font-size="10.5" fill="#2e2e2e" text-anchor="middle">7</text><text x="107.90" y="23.10" font-size="10.5" fill="#2e2e2e" text-anchor="end">7</text><g transform="translate(231.7 281.6)"><text x="-62.70" y="0.00" font-size="10.5" fill="#2e2e2e" textLength="115" lengthAdjust="spacing">Heliocentric distance [R</text><circle cx="55.50" cy="0.10" r="2.4" fill="none" stroke="#2e2e2e" stroke-width="0.85"/><circle cx="55.50" cy="0.10" r="0.7" fill="#2e2e2e"/><text x="58.40" y="0.00" font-size="10.5" fill="#2e2e2e">]</text></g><g transform="translate(86.1 136.0) rotate(-90)"><text x="-62.70" y="0.00" font-size="10.5" fill="#2e2e2e" textLength="115" lengthAdjust="spacing">Heliocentric distance [R</text><circle cx="55.50" cy="0.10" r="2.4" fill="none" stroke="#2e2e2e" stroke-width="0.85"/><circle cx="55.50" cy="0.10" r="0.7" fill="#2e2e2e"/><text x="58.40" y="0.00" font-size="10.5" fill="#2e2e2e">]</text></g><text x="100.50" y="10.20" font-size="12" fill="#2e2e2e" textLength="29.0" lengthAdjust="spacing">Metis</text><text x="136.70" y="10.20" font-size="12" fill="#2e2e2e" textLength="14.5" lengthAdjust="spacing">pB</text><text x="157.80" y="10.20" font-size="12" fill="#2e2e2e" textLength="12.5" lengthAdjust="spacing">on</text><g transform="translate(178.80 10.2) scale(1.16 1)"><text x="0.00" y="0.00" font-size="12.2" fill="#2e2e2e" textLength="65.95" lengthAdjust="spacing">2021/01/17</text></g><text x="263.20" y="10.20" font-size="12" fill="#2e2e2e" textLength="10.5" lengthAdjust="spacing">at</text><g transform="translate(282.10 10.2) scale(1.16 1)"><text x="0.00" y="0.00" font-size="12.2" fill="#2e2e2e" textLength="27.67" lengthAdjust="spacing">16:30</text></g><g transform="translate(322.10 10.2) scale(0.88 1)"><text x="0.00" y="0.00" font-size="12" fill="#2e2e2e" textLength="16.36" lengthAdjust="spacing">UT</text></g><text x="342.30" y="9.90" font-size="14" fill="#2e2e2e">(</text><text x="347.60" y="10.20" font-size="12" fill="#2e2e2e">t</text><text x="351.90" y="16.10" font-size="7.8" fill="#2e2e2e">0</text><text x="356.40" y="9.90" font-size="14" fill="#2e2e2e">)</text><text x="319.90" y="38.10" font-size="10.8" fill="#2e2e2e" textLength="13.4" lengthAdjust="spacing">(a)</text><text x="332.70" y="227.60" font-size="9.8" fill="#2e2e2e" text-anchor="end">FOV:</text><text x="327.20" y="239.10" font-size="10" fill="#2e2e2e" text-anchor="end" textLength="48.4" lengthAdjust="spacing">3.5−6.3 R</text><circle cx="330.60" cy="238.90" r="2.4" fill="none" stroke="#2e2e2e" stroke-width="0.85"/><circle cx="330.60" cy="238.90" r="0.7" fill="#2e2e2e"/><rect x="55.50" y="249.50" width="15.50" height="6.40" fill="#040000"/><rect x="55.50" y="243.50" width="15.50" height="6.40" fill="#0e0000"/><rect x="55.50" y="237.50" width="15.50" height="6.40" fill="#170000"/><rect x="55.50" y="231.50" width="15.50" height="6.40" fill="#200000"/><rect x="55.50" y="225.50" width="15.50" height="6.40" fill="#2a0000"/><rect x="55.50" y="219.50" width="15.50" height="6.40" fill="#330000"/><rect x="55.50" y="213.50" width="15.50" height="6.40" fill="#3b0000"/><rect x="55.50" y="207.50" width="15.50" height="6.40" fill="#460000"/><rect x="55.50" y="201.50" width="15.50" height="6.40" fill="#4e0000"/><rect x="55.50" y="195.50" width="15.50" height="6.40" fill="#580000"/><rect x="55.50" y="189.50" width="15.50" height="6.40" fill="#610000"/><rect x="55.50" y="183.50" width="15.50" height="6.40" fill="#6a0000"/><rect x="55.50" y="177.50" width="15.50" height="6.40" fill="#740000"/><rect x="55.50" y="171.50" width="15.50" height="6.40" fill="#7d0000"/><rect x="55.50" y="165.50" width="15.50" height="6.40" fill="#850000"/><rect x="55.50" y="159.50" width="15.50" height="6.40" fill="#8f0000"/><rect x="55.50" y="153.50" width="15.50" height="6.40" fill="#980000"/><rect x="55.50" y="147.50" width="15.50" height="6.40" fill="#a20000"/><rect x="55.50" y="141.50" width="15.50" height="6.40" fill="#ab0000"/><rect x="55.50" y="135.50" width="15.50" height="6.40" fill="#b40800"/><rect x="55.50" y="129.50" width="15.50" height="6.40" fill="#be1500"/><rect x="55.50" y="123.50" width="15.50" height="6.40" fill="#c62000"/><rect x="55.50" y="117.50" width="15.50" height="6.40" fill="#cf2b00"/><rect x="55.50" y="111.50" width="15.50" height="6.40" fill="#d93900"/><rect x="55.50" y="105.50" width="15.50" height="6.40" fill="#e24400"/><rect x="55.50" y="99.50" width="15.50" height="6.40" fill="#ec5100"/><rect x="55.50" y="93.50" width="15.50" height="6.40" fill="#f55d00"/><rect x="55.50" y="87.50" width="15.50" height="6.40" fill="#fe6800"/><rect x="55.50" y="81.50" width="15.50" height="6.40" fill="#ff7500"/><rect x="55.50" y="75.50" width="15.50" height="6.40" fill="#ff8000"/><rect x="55.50" y="69.50" width="15.50" height="6.40" fill="#ff8c10"/><rect x="55.50" y="63.50" width="15.50" height="6.40" fill="#ff992b"/><rect x="55.50" y="57.50" width="15.50" height="6.40" fill="#ffa443"/><rect x="55.50" y="51.50" width="15.50" height="6.40" fill="#ffb25e"/><rect x="55.50" y="45.50" width="15.50" height="6.40" fill="#ffbd76"/><rect x="55.50" y="39.50" width="15.50" height="6.40" fill="#ffc88d"/><rect x="55.50" y="33.50" width="15.50" height="6.40" fill="#ffd5a9"/><rect x="55.50" y="27.50" width="15.50" height="6.40" fill="#ffe1c0"/><rect x="55.50" y="21.50" width="15.50" height="6.40" fill="#ffecd8"/><rect x="55.50" y="15.50" width="15.50" height="6.40" fill="#fff9f3"/><rect x="55.50" y="15.5" width="15.50" height="240" fill="none" stroke="#4a4a4a" stroke-width="1"/><text x="51.60" y="23.00" font-size="10.5" fill="#2e2e2e" text-anchor="end">−8.75</text><text x="51.60" y="44.20" font-size="10.5" fill="#2e2e2e" text-anchor="end">−8.99</text><text x="51.60" y="68.20" font-size="10.5" fill="#2e2e2e" text-anchor="end">−9.23</text><text x="51.60" y="92.20" font-size="10.5" fill="#2e2e2e" text-anchor="end">−9.47</text><text x="51.60" y="116.20" font-size="10.5" fill="#2e2e2e" text-anchor="end">−9.71</text><text x="51.60" y="140.20" font-size="10.5" fill="#2e2e2e" text-anchor="end">−9.95</text><text x="51.60" y="164.20" font-size="10.5" fill="#2e2e2e" text-anchor="end">−10.19</text><text x="51.60" y="188.20" font-size="10.5" fill="#2e2e2e" text-anchor="end">−10.43</text><text x="51.60" y="212.20" font-size="10.5" fill="#2e2e2e" text-anchor="end">−10.67</text><text x="51.60" y="236.20" font-size="10.5" fill="#2e2e2e" text-anchor="end">−10.91</text><text x="51.60" y="255.10" font-size="10.5" fill="#2e2e2e" text-anchor="end">−11.15</text><g transform="translate(8.5 135.7) rotate(-90)"><text x="-39.00" y="0.00" font-size="10.5" fill="#2e2e2e" textLength="68.6" lengthAdjust="spacing">Log<tspan font-size="6.6" dy="2.4">10</tspan><tspan dy="-2.4">​</tspan> pB [B/B</text><circle cx="33.30" cy="0.00" r="2.4" fill="none" stroke="#2e2e2e" stroke-width="0.85"/><circle cx="33.30" cy="0.00" r="0.7" fill="#2e2e2e"/><text x="36.90" y="0.00" font-size="10.5" fill="#2e2e2e">]</text></g><line x1="571.50" y1="134.98" x2="523.50" y2="134.56" stroke="#3a5fe0" stroke-width="1.05"/><line x1="571.61" y1="139.16" x2="523.70" y2="142.09" stroke="#e83040" stroke-width="1.05"/><circle cx="631.5" cy="135.5" r="17.14" fill="none" stroke="#333" stroke-width="1"/><path d="M628.50 135.50L634.50 135.50M631.50 132.50L631.50 138.50" stroke="#2a2a2a" stroke-width="0.9" fill="none"/><text x="571.90" y="135.80" font-size="9.6" fill="#3f6ff5" textLength="21.2" lengthAdjust="spacing">+0.5°</text><text x="571.90" y="144.70" font-size="9.6" fill="#f5403c" textLength="21.2" lengthAdjust="spacing">−3.5°</text><rect x="511.5" y="15.5" width="240.00" height="240.00" fill="none" stroke="#4a4a4a" stroke-width="1.0"/><path d="M514.93 255.50L514.93 253.10M514.93 15.50L514.93 17.90M511.50 18.93L513.90 18.93M751.50 18.93L749.10 18.93M518.36 255.50L518.36 253.10M518.36 15.50L518.36 17.90M511.50 22.36L513.90 22.36M751.50 22.36L749.10 22.36M521.79 255.50L521.79 253.10M521.79 15.50L521.79 17.90M511.50 25.79L513.90 25.79M751.50 25.79L749.10 25.79M525.21 255.50L525.21 253.10M525.21 15.50L525.21 17.90M511.50 29.21L513.90 29.21M751.50 29.21L749.10 29.21M528.64 255.50L528.64 251.00M528.64 15.50L528.64 20.00M511.50 32.64L516.00 32.64M751.50 32.64L747.00 32.64M532.07 255.50L532.07 253.10M532.07 15.50L532.07 17.90M511.50 36.07L513.90 36.07M751.50 36.07L749.10 36.07M535.50 255.50L535.50 253.10M535.50 15.50L535.50 17.90M511.50 39.50L513.90 39.50M751.50 39.50L749.10 39.50M538.93 255.50L538.93 253.10M538.93 15.50L538.93 17.90M511.50 42.93L513.90 42.93M751.50 42.93L749.10 42.93M542.36 255.50L542.36 253.10M542.36 15.50L542.36 17.90M511.50 46.36L513.90 46.36M751.50 46.36L749.10 46.36M545.79 255.50L545.79 251.00M545.79 15.50L545.79 20.00M511.50 49.79L516.00 49.79M751.50 49.79L747.00 49.79M549.21 255.50L549.21 253.10M549.21 15.50L549.21 17.90M511.50 53.21L513.90 53.21M751.50 53.21L749.10 53.21M552.64 255.50L552.64 253.10M552.64 15.50L552.64 17.90M511.50 56.64L513.90 56.64M751.50 56.64L749.10 56.64M556.07 255.50L556.07 253.10M556.07 15.50L556.07 17.90M511.50 60.07L513.90 60.07M751.50 60.07L749.10 60.07M559.50 255.50L559.50 253.10M559.50 15.50L559.50 17.90M511.50 63.50L513.90 63.50M751.50 63.50L749.10 63.50M562.93 255.50L562.93 251.00M562.93 15.50L562.93 20.00M511.50 66.93L516.00 66.93M751.50 66.93L747.00 66.93M566.36 255.50L566.36 253.10M566.36 15.50L566.36 17.90M511.50 70.36L513.90 70.36M751.50 70.36L749.10 70.36M569.79 255.50L569.79 253.10M569.79 15.50L569.79 17.90M511.50 73.79L513.90 73.79M751.50 73.79L749.10 73.79M573.21 255.50L573.21 253.10M573.21 15.50L573.21 17.90M511.50 77.21L513.90 77.21M751.50 77.21L749.10 77.21M576.64 255.50L576.64 253.10M576.64 15.50L576.64 17.90M511.50 80.64L513.90 80.64M751.50 80.64L749.10 80.64M580.07 255.50L580.07 251.00M580.07 15.50L580.07 20.00M511.50 84.07L516.00 84.07M751.50 84.07L747.00 84.07M583.50 255.50L583.50 253.10M583.50 15.50L583.50 17.90M511.50 87.50L513.90 87.50M751.50 87.50L749.10 87.50M586.93 255.50L586.93 253.10M586.93 15.50L586.93 17.90M511.50 90.93L513.90 90.93M751.50 90.93L749.10 90.93M590.36 255.50L590.36 253.10M590.36 15.50L590.36 17.90M511.50 94.36L513.90 94.36M751.50 94.36L749.10 94.36M593.79 255.50L593.79 253.10M593.79 15.50L593.79 17.90M511.50 97.79L513.90 97.79M751.50 97.79L749.10 97.79M597.21 255.50L597.21 251.00M597.21 15.50L597.21 20.00M511.50 101.21L516.00 101.21M751.50 101.21L747.00 101.21M600.64 255.50L600.64 253.10M600.64 15.50L600.64 17.90M511.50 104.64L513.90 104.64M751.50 104.64L749.10 104.64M604.07 255.50L604.07 253.10M604.07 15.50L604.07 17.90M511.50 108.07L513.90 108.07M751.50 108.07L749.10 108.07M607.50 255.50L607.50 253.10M607.50 15.50L607.50 17.90M511.50 111.50L513.90 111.50M751.50 111.50L749.10 111.50M610.93 255.50L610.93 253.10M610.93 15.50L610.93 17.90M511.50 114.93L513.90 114.93M751.50 114.93L749.10 114.93M614.36 255.50L614.36 251.00M614.36 15.50L614.36 20.00M511.50 118.36L516.00 118.36M751.50 118.36L747.00 118.36M617.79 255.50L617.79 253.10M617.79 15.50L617.79 17.90M511.50 121.79L513.90 121.79M751.50 121.79L749.10 121.79M621.21 255.50L621.21 253.10M621.21 15.50L621.21 17.90M511.50 125.21L513.90 125.21M751.50 125.21L749.10 125.21M624.64 255.50L624.64 253.10M624.64 15.50L624.64 17.90M511.50 128.64L513.90 128.64M751.50 128.64L749.10 128.64M628.07 255.50L628.07 253.10M628.07 15.50L628.07 17.90M511.50 132.07L513.90 132.07M751.50 132.07L749.10 132.07M631.50 255.50L631.50 251.00M631.50 15.50L631.50 20.00M511.50 135.50L516.00 135.50M751.50 135.50L747.00 135.50M634.93 255.50L634.93 253.10M634.93 15.50L634.93 17.90M511.50 138.93L513.90 138.93M751.50 138.93L749.10 138.93M638.36 255.50L638.36 253.10M638.36 15.50L638.36 17.90M511.50 142.36L513.90 142.36M751.50 142.36L749.10 142.36M641.79 255.50L641.79 253.10M641.79 15.50L641.79 17.90M511.50 145.79L513.90 145.79M751.50 145.79L749.10 145.79M645.21 255.50L645.21 253.10M645.21 15.50L645.21 17.90M511.50 149.21L513.90 149.21M751.50 149.21L749.10 149.21M648.64 255.50L648.64 251.00M648.64 15.50L648.64 20.00M511.50 152.64L516.00 152.64M751.50 152.64L747.00 152.64M652.07 255.50L652.07 253.10M652.07 15.50L652.07 17.90M511.50 156.07L513.90 156.07M751.50 156.07L749.10 156.07M655.50 255.50L655.50 253.10M655.50 15.50L655.50 17.90M511.50 159.50L513.90 159.50M751.50 159.50L749.10 159.50M658.93 255.50L658.93 253.10M658.93 15.50L658.93 17.90M511.50 162.93L513.90 162.93M751.50 162.93L749.10 162.93M662.36 255.50L662.36 253.10M662.36 15.50L662.36 17.90M511.50 166.36L513.90 166.36M751.50 166.36L749.10 166.36M665.79 255.50L665.79 251.00M665.79 15.50L665.79 20.00M511.50 169.79L516.00 169.79M751.50 169.79L747.00 169.79M669.21 255.50L669.21 253.10M669.21 15.50L669.21 17.90M511.50 173.21L513.90 173.21M751.50 173.21L749.10 173.21M672.64 255.50L672.64 253.10M672.64 15.50L672.64 17.90M511.50 176.64L513.90 176.64M751.50 176.64L749.10 176.64M676.07 255.50L676.07 253.10M676.07 15.50L676.07 17.90M511.50 180.07L513.90 180.07M751.50 180.07L749.10 180.07M679.50 255.50L679.50 253.10M679.50 15.50L679.50 17.90M511.50 183.50L513.90 183.50M751.50 183.50L749.10 183.50M682.93 255.50L682.93 251.00M682.93 15.50L682.93 20.00M511.50 186.93L516.00 186.93M751.50 186.93L747.00 186.93M686.36 255.50L686.36 253.10M686.36 15.50L686.36 17.90M511.50 190.36L513.90 190.36M751.50 190.36L749.10 190.36M689.79 255.50L689.79 253.10M689.79 15.50L689.79 17.90M511.50 193.79L513.90 193.79M751.50 193.79L749.10 193.79M693.21 255.50L693.21 253.10M693.21 15.50L693.21 17.90M511.50 197.21L513.90 197.21M751.50 197.21L749.10 197.21M696.64 255.50L696.64 253.10M696.64 15.50L696.64 17.90M511.50 200.64L513.90 200.64M751.50 200.64L749.10 200.64M700.07 255.50L700.07 251.00M700.07 15.50L700.07 20.00M511.50 204.07L516.00 204.07M751.50 204.07L747.00 204.07M703.50 255.50L703.50 253.10M703.50 15.50L703.50 17.90M511.50 207.50L513.90 207.50M751.50 207.50L749.10 207.50M706.93 255.50L706.93 253.10M706.93 15.50L706.93 17.90M511.50 210.93L513.90 210.93M751.50 210.93L749.10 210.93M710.36 255.50L710.36 253.10M710.36 15.50L710.36 17.90M511.50 214.36L513.90 214.36M751.50 214.36L749.10 214.36M713.79 255.50L713.79 253.10M713.79 15.50L713.79 17.90M511.50 217.79L513.90 217.79M751.50 217.79L749.10 217.79M717.21 255.50L717.21 251.00M717.21 15.50L717.21 20.00M511.50 221.21L516.00 221.21M751.50 221.21L747.00 221.21M720.64 255.50L720.64 253.10M720.64 15.50L720.64 17.90M511.50 224.64L513.90 224.64M751.50 224.64L749.10 224.64M724.07 255.50L724.07 253.10M724.07 15.50L724.07 17.90M511.50 228.07L513.90 228.07M751.50 228.07L749.10 228.07M727.50 255.50L727.50 253.10M727.50 15.50L727.50 17.90M511.50 231.50L513.90 231.50M751.50 231.50L749.10 231.50M730.93 255.50L730.93 253.10M730.93 15.50L730.93 17.90M511.50 234.93L513.90 234.93M751.50 234.93L749.10 234.93M734.36 255.50L734.36 251.00M734.36 15.50L734.36 20.00M511.50 238.36L516.00 238.36M751.50 238.36L747.00 238.36M737.79 255.50L737.79 253.10M737.79 15.50L737.79 17.90M511.50 241.79L513.90 241.79M751.50 241.79L749.10 241.79M741.21 255.50L741.21 253.10M741.21 15.50L741.21 17.90M511.50 245.21L513.90 245.21M751.50 245.21L749.10 245.21M744.64 255.50L744.64 253.10M744.64 15.50L744.64 17.90M511.50 248.64L513.90 248.64M751.50 248.64L749.10 248.64M748.07 255.50L748.07 253.10M748.07 15.50L748.07 17.90M511.50 252.07L513.90 252.07M751.50 252.07L749.10 252.07" stroke="#4a4a4a" stroke-width="1.0" fill="none"/><text x="511.50" y="269.90" font-size="10.5" fill="#2e2e2e" text-anchor="middle">−7</text><text x="507.90" y="255.20" font-size="10.5" fill="#2e2e2e" text-anchor="end">−7</text><text x="528.64" y="269.90" font-size="10.5" fill="#2e2e2e" text-anchor="middle">−6</text><text x="507.90" y="242.56" font-size="10.5" fill="#2e2e2e" text-anchor="end">−6</text><text x="545.79" y="269.90" font-size="10.5" fill="#2e2e2e" text-anchor="middle">−5</text><text x="507.90" y="225.41" font-size="10.5" fill="#2e2e2e" text-anchor="end">−5</text><text x="562.93" y="269.90" font-size="10.5" fill="#2e2e2e" text-anchor="middle">−4</text><text x="507.90" y="208.27" font-size="10.5" fill="#2e2e2e" text-anchor="end">−4</text><text x="580.07" y="269.90" font-size="10.5" fill="#2e2e2e" text-anchor="middle">−3</text><text x="507.90" y="191.13" font-size="10.5" fill="#2e2e2e" text-anchor="end">−3</text><text x="597.21" y="269.90" font-size="10.5" fill="#2e2e2e" text-anchor="middle">−2</text><text x="507.90" y="173.99" font-size="10.5" fill="#2e2e2e" text-anchor="end">−2</text><text x="614.36" y="269.90" font-size="10.5" fill="#2e2e2e" text-anchor="middle">−1</text><text x="507.90" y="156.84" font-size="10.5" fill="#2e2e2e" text-anchor="end">−1</text><text x="631.50" y="269.90" font-size="10.5" fill="#2e2e2e" text-anchor="middle">0</text><text x="507.90" y="139.70" font-size="10.5" fill="#2e2e2e" text-anchor="end">0</text><text x="648.64" y="269.90" font-size="10.5" fill="#2e2e2e" text-anchor="middle">1</text><text x="507.90" y="122.56" font-size="10.5" fill="#2e2e2e" text-anchor="end">1</text><text x="665.79" y="269.90" font-size="10.5" fill="#2e2e2e" text-anchor="middle">2</text><text x="507.90" y="105.41" font-size="10.5" fill="#2e2e2e" text-anchor="end">2</text><text x="682.93" y="269.90" font-size="10.5" fill="#2e2e2e" text-anchor="middle">3</text><text x="507.90" y="88.27" font-size="10.5" fill="#2e2e2e" text-anchor="end">3</text><text x="700.07" y="269.90" font-size="10.5" fill="#2e2e2e" text-anchor="middle">4</text><text x="507.90" y="71.13" font-size="10.5" fill="#2e2e2e" text-anchor="end">4</text><text x="717.21" y="269.90" font-size="10.5" fill="#2e2e2e" text-anchor="middle">5</text><text x="507.90" y="53.99" font-size="10.5" fill="#2e2e2e" text-anchor="end">5</text><text x="734.36" y="269.90" font-size="10.5" fill="#2e2e2e" text-anchor="middle">6</text><text x="507.90" y="36.84" font-size="10.5" fill="#2e2e2e" text-anchor="end">6</text><text x="751.50" y="269.90" font-size="10.5" fill="#2e2e2e" text-anchor="middle">7</text><text x="507.90" y="23.10" font-size="10.5" fill="#2e2e2e" text-anchor="end">7</text><g transform="translate(631.7 281.6)"><text x="-62.70" y="0.00" font-size="10.5" fill="#2e2e2e" textLength="115" lengthAdjust="spacing">Heliocentric distance [R</text><circle cx="55.50" cy="0.10" r="2.4" fill="none" stroke="#2e2e2e" stroke-width="0.85"/><circle cx="55.50" cy="0.10" r="0.7" fill="#2e2e2e"/><text x="58.40" y="0.00" font-size="10.5" fill="#2e2e2e">]</text></g><g transform="translate(486.1 136.0) rotate(-90)"><text x="-62.70" y="0.00" font-size="10.5" fill="#2e2e2e" textLength="115" lengthAdjust="spacing">Heliocentric distance [R</text><circle cx="55.50" cy="0.10" r="2.4" fill="none" stroke="#2e2e2e" stroke-width="0.85"/><circle cx="55.50" cy="0.10" r="0.7" fill="#2e2e2e"/><text x="58.40" y="0.00" font-size="10.5" fill="#2e2e2e">]</text></g><text x="500.50" y="10.20" font-size="12" fill="#2e2e2e" textLength="29.0" lengthAdjust="spacing">Metis</text><g transform="translate(536.70 10.2) scale(0.88 1)"><text x="0.00" y="0.00" font-size="12" fill="#2e2e2e" textLength="16.48" lengthAdjust="spacing">UV</text></g><text x="557.80" y="10.20" font-size="12" fill="#2e2e2e" textLength="12.5" lengthAdjust="spacing">on</text><g transform="translate(578.80 10.2) scale(1.16 1)"><text x="0.00" y="0.00" font-size="12.2" fill="#2e2e2e" textLength="65.95" lengthAdjust="spacing">2021/01/17</text></g><text x="663.20" y="10.20" font-size="12" fill="#2e2e2e" textLength="10.5" lengthAdjust="spacing">at</text><g transform="translate(682.10 10.2) scale(1.16 1)"><text x="0.00" y="0.00" font-size="12.2" fill="#2e2e2e" textLength="27.67" lengthAdjust="spacing">16:30</text></g><g transform="translate(722.10 10.2) scale(0.88 1)"><text x="0.00" y="0.00" font-size="12" fill="#2e2e2e" textLength="16.36" lengthAdjust="spacing">UT</text></g><text x="742.30" y="9.90" font-size="14" fill="#2e2e2e">(</text><text x="747.60" y="10.20" font-size="12" fill="#2e2e2e">t</text><text x="751.90" y="16.10" font-size="7.8" fill="#2e2e2e">0</text><text x="756.40" y="9.90" font-size="14" fill="#2e2e2e">)</text><text x="719.90" y="38.10" font-size="10.8" fill="#2e2e2e" textLength="13.4" lengthAdjust="spacing">(b)</text><text x="732.70" y="227.60" font-size="9.8" fill="#2e2e2e" text-anchor="end">FOV:</text><text x="727.20" y="239.10" font-size="10" fill="#2e2e2e" text-anchor="end" textLength="48.4" lengthAdjust="spacing">3.5−6.3 R</text><circle cx="730.60" cy="238.90" r="2.4" fill="none" stroke="#2e2e2e" stroke-width="0.85"/><circle cx="730.60" cy="238.90" r="0.7" fill="#2e2e2e"/><rect x="455.50" y="249.50" width="15.50" height="6.40" fill="#000003"/><rect x="455.50" y="243.50" width="15.50" height="6.40" fill="#000009"/><rect x="455.50" y="237.50" width="15.50" height="6.40" fill="#00000f"/><rect x="455.50" y="231.50" width="15.50" height="6.40" fill="#000015"/><rect x="455.50" y="225.50" width="15.50" height="6.40" fill="#00001d"/><rect x="455.50" y="219.50" width="15.50" height="6.40" fill="#000027"/><rect x="455.50" y="213.50" width="15.50" height="6.40" fill="#000030"/><rect x="455.50" y="207.50" width="15.50" height="6.40" fill="#00003b"/><rect x="455.50" y="201.50" width="15.50" height="6.40" fill="#000046"/><rect x="455.50" y="195.50" width="15.50" height="6.40" fill="#000053"/><rect x="455.50" y="189.50" width="15.50" height="6.40" fill="#00005e"/><rect x="455.50" y="183.50" width="15.50" height="6.40" fill="#000069"/><rect x="455.50" y="177.50" width="15.50" height="6.40" fill="#000075"/><rect x="455.50" y="171.50" width="15.50" height="6.40" fill="#00007d"/><rect x="455.50" y="165.50" width="15.50" height="6.40" fill="#000585"/><rect x="455.50" y="159.50" width="15.50" height="6.40" fill="#00108e"/><rect x="455.50" y="153.50" width="15.50" height="6.40" fill="#001a96"/><rect x="455.50" y="147.50" width="15.50" height="6.40" fill="#00269f"/><rect x="455.50" y="141.50" width="15.50" height="6.40" fill="#0030a7"/><rect x="455.50" y="135.50" width="15.50" height="6.40" fill="#003aaf"/><rect x="455.50" y="129.50" width="15.50" height="6.40" fill="#0147bb"/><rect x="455.50" y="123.50" width="15.50" height="6.40" fill="#0352c7"/><rect x="455.50" y="117.50" width="15.50" height="6.40" fill="#055dd4"/><rect x="455.50" y="111.50" width="15.50" height="6.40" fill="#076ae2"/><rect x="455.50" y="105.50" width="15.50" height="6.40" fill="#0a74eb"/><rect x="455.50" y="99.50" width="15.50" height="6.40" fill="#0d7ef3"/><rect x="455.50" y="93.50" width="15.50" height="6.40" fill="#1187fa"/><rect x="455.50" y="87.50" width="15.50" height="6.40" fill="#148fff"/><rect x="455.50" y="81.50" width="15.50" height="6.40" fill="#2099ff"/><rect x="455.50" y="75.50" width="15.50" height="6.40" fill="#32a3ff"/><rect x="455.50" y="69.50" width="15.50" height="6.40" fill="#43acff"/><rect x="455.50" y="63.50" width="15.50" height="6.40" fill="#57b7ff"/><rect x="455.50" y="57.50" width="15.50" height="6.40" fill="#6ac0ff"/><rect x="455.50" y="51.50" width="15.50" height="6.40" fill="#83caff"/><rect x="455.50" y="45.50" width="15.50" height="6.40" fill="#97d3ff"/><rect x="455.50" y="39.50" width="15.50" height="6.40" fill="#acdbff"/><rect x="455.50" y="33.50" width="15.50" height="6.40" fill="#c0e4ff"/><rect x="455.50" y="27.50" width="15.50" height="6.40" fill="#cfeaff"/><rect x="455.50" y="21.50" width="15.50" height="6.40" fill="#ddf0ff"/><rect x="455.50" y="15.50" width="15.50" height="6.40" fill="#eef7ff"/><rect x="455.50" y="15.5" width="15.50" height="240" fill="none" stroke="#4a4a4a" stroke-width="1"/><text x="451.60" y="23.00" font-size="10.5" fill="#2e2e2e" text-anchor="end">10.51</text><text x="451.60" y="44.20" font-size="10.5" fill="#2e2e2e" text-anchor="end">10.07</text><text x="451.60" y="68.20" font-size="10.5" fill="#2e2e2e" text-anchor="end">9.63</text><text x="451.60" y="92.20" font-size="10.5" fill="#2e2e2e" text-anchor="end">9.19</text><text x="451.60" y="116.20" font-size="10.5" fill="#2e2e2e" text-anchor="end">8.74</text><text x="451.60" y="140.20" font-size="10.5" fill="#2e2e2e" text-anchor="end">8.30</text><text x="451.60" y="164.20" font-size="10.5" fill="#2e2e2e" text-anchor="end">7.86</text><text x="451.60" y="188.20" font-size="10.5" fill="#2e2e2e" text-anchor="end">7.42</text><text x="451.60" y="212.20" font-size="10.5" fill="#2e2e2e" text-anchor="end">6.97</text><text x="451.60" y="236.20" font-size="10.5" fill="#2e2e2e" text-anchor="end">6.53</text><text x="451.60" y="255.10" font-size="10.5" fill="#2e2e2e" text-anchor="end">6.09</text><g transform="translate(416 135) rotate(-90)"><text x="-100.00" y="0.00" font-size="10.5" fill="#2e2e2e" textLength="200" lengthAdjust="spacing">Log<tspan font-size="6.6" dy="2.4">10</tspan><tspan dy="-2.4">​</tspan> UV intensity [photons cm<tspan font-size="6.6" dy="-4.3">−2</tspan><tspan dy="4.3">​</tspan> s<tspan font-size="6.6" dy="-4.3">−1</tspan><tspan dy="4.3">​</tspan> sr<tspan font-size="6.6" dy="-4.3">−1</tspan><tspan dy="4.3">​</tspan>]</text></g><rect x="55.5" y="319.5" width="295.50" height="101.00" fill="none" stroke="#4a4a4a" stroke-width="1.0"/><path d="M62.89 420.50L62.89 419.20M62.89 319.50L62.89 320.80M70.28 420.50L70.28 419.20M70.28 319.50L70.28 320.80M77.66 420.50L77.66 419.20M77.66 319.50L77.66 320.80M85.05 420.50L85.05 419.20M85.05 319.50L85.05 320.80M92.44 420.50L92.44 419.20M92.44 319.50L92.44 320.80M99.83 420.50L99.83 419.20M99.83 319.50L99.83 320.80M107.21 420.50L107.21 419.20M107.21 319.50L107.21 320.80M114.60 420.50L114.60 419.20M114.60 319.50L114.60 320.80M121.99 420.50L121.99 419.20M121.99 319.50L121.99 320.80M129.38 420.50L129.38 418.30M129.38 319.50L129.38 321.70M136.76 420.50L136.76 419.20M136.76 319.50L136.76 320.80M144.15 420.50L144.15 419.20M144.15 319.50L144.15 320.80M151.54 420.50L151.54 419.20M151.54 319.50L151.54 320.80M158.93 420.50L158.93 419.20M158.93 319.50L158.93 320.80M166.31 420.50L166.31 419.20M166.31 319.50L166.31 320.80M173.70 420.50L173.70 419.20M173.70 319.50L173.70 320.80M181.09 420.50L181.09 419.20M181.09 319.50L181.09 320.80M188.47 420.50L188.47 419.20M188.47 319.50L188.47 320.80M195.86 420.50L195.86 419.20M195.86 319.50L195.86 320.80M203.25 420.50L203.25 418.30M203.25 319.50L203.25 321.70M210.64 420.50L210.64 419.20M210.64 319.50L210.64 320.80M218.03 420.50L218.03 419.20M218.03 319.50L218.03 320.80M225.41 420.50L225.41 419.20M225.41 319.50L225.41 320.80M232.80 420.50L232.80 419.20M232.80 319.50L232.80 320.80M240.19 420.50L240.19 419.20M240.19 319.50L240.19 320.80M247.57 420.50L247.57 419.20M247.57 319.50L247.57 320.80M254.96 420.50L254.96 419.20M254.96 319.50L254.96 320.80M262.35 420.50L262.35 419.20M262.35 319.50L262.35 320.80M269.74 420.50L269.74 419.20M269.74 319.50L269.74 320.80M277.12 420.50L277.12 418.30M277.12 319.50L277.12 321.70M284.51 420.50L284.51 419.20M284.51 319.50L284.51 320.80M291.90 420.50L291.90 419.20M291.90 319.50L291.90 320.80M299.29 420.50L299.29 419.20M299.29 319.50L299.29 320.80M306.68 420.50L306.68 419.20M306.68 319.50L306.68 320.80M314.06 420.50L314.06 419.20M314.06 319.50L314.06 320.80M321.45 420.50L321.45 419.20M321.45 319.50L321.45 320.80M328.84 420.50L328.84 419.20M328.84 319.50L328.84 320.80M336.23 420.50L336.23 419.20M336.23 319.50L336.23 320.80M343.61 420.50L343.61 419.20M343.61 319.50L343.61 320.80M55.50 405.30L58.50 405.30M351.00 405.30L348.00 405.30M55.50 396.41L58.50 396.41M351.00 396.41L348.00 396.41M55.50 390.10L58.50 390.10M351.00 390.10L348.00 390.10M55.50 385.20L58.50 385.20M351.00 385.20L348.00 385.20M55.50 381.20L58.50 381.20M351.00 381.20L348.00 381.20M55.50 377.82L58.50 377.82M351.00 377.82L348.00 377.82M55.50 374.89L58.50 374.89M351.00 374.89L348.00 374.89M55.50 372.31L58.50 372.31M351.00 372.31L348.00 372.31M55.50 370.00L59.90 370.00M351.00 370.00L346.60 370.00M55.50 354.80L58.50 354.80M351.00 354.80L348.00 354.80M55.50 345.91L58.50 345.91M351.00 345.91L348.00 345.91M55.50 339.60L58.50 339.60M351.00 339.60L348.00 339.60M55.50 334.70L58.50 334.70M351.00 334.70L348.00 334.70M55.50 330.70L58.50 330.70M351.00 330.70L348.00 330.70M55.50 327.32L58.50 327.32M351.00 327.32L348.00 327.32M55.50 324.39L58.50 324.39M351.00 324.39L348.00 324.39M55.50 321.81L58.50 321.81M351.00 321.81L348.00 321.81" stroke="#4a4a4a" stroke-width="1.0" fill="none"/><text x="55.50" y="435.00" font-size="10.5" fill="#2e2e2e" text-anchor="middle">3</text><text x="129.38" y="435.00" font-size="10.5" fill="#2e2e2e" text-anchor="middle">4</text><text x="203.25" y="435.00" font-size="10.5" fill="#2e2e2e" text-anchor="middle">5</text><text x="277.12" y="435.00" font-size="10.5" fill="#2e2e2e" text-anchor="middle">6</text><text x="351.00" y="435.00" font-size="10.5" fill="#2e2e2e" text-anchor="middle">7</text><g transform="translate(202.95 446.8)"><text x="-62.70" y="0.00" font-size="10.5" fill="#2e2e2e" textLength="115" lengthAdjust="spacing">Heliocentric distance [R</text><circle cx="55.50" cy="0.10" r="2.4" fill="none" stroke="#2e2e2e" stroke-width="0.85"/><circle cx="55.50" cy="0.10" r="0.7" fill="#2e2e2e"/><text x="58.40" y="0.00" font-size="10.5" fill="#2e2e2e">]</text></g><text x="202.75" y="314.20" font-size="12.2" fill="#2e2e2e" text-anchor="middle" textLength="132.5" lengthAdjust="spacing">Metis pB radial profile</text><text x="319.50" y="341.60" font-size="10.8" fill="#2e2e2e" textLength="13.8" lengthAdjust="spacing">(c)</text><text x="52.10" y="326.40" font-size="10.5" fill="#2e2e2e" text-anchor="end">10<tspan font-size="6.6" dy="-4.3">−9</tspan><tspan dy="4.3">​</tspan></text><text x="52.10" y="374.30" font-size="10.5" fill="#2e2e2e" text-anchor="end">10<tspan font-size="6.6" dy="-4.3">−10</tspan><tspan dy="4.3">​</tspan></text><text x="52.10" y="420.20" font-size="10.5" fill="#2e2e2e" text-anchor="end">10<tspan font-size="6.6" dy="-4.3">−11</tspan><tspan dy="4.3">​</tspan></text><g transform="translate(19.1 370.45) rotate(-90)"><text x="-24.15" y="0.00" font-size="10.5" fill="#2e2e2e" textLength="39.25" lengthAdjust="spacing">pB [B/B</text><circle cx="17.95" cy="-0.50" r="2.1" fill="none" stroke="#2e2e2e" stroke-width="0.85"/><circle cx="17.95" cy="-0.50" r="0.7" fill="#2e2e2e"/><text x="21.60" y="0.00" font-size="10.5" fill="#2e2e2e">]</text></g><path d="M89.44 331.30L92.44 325.30L95.44 331.30ZM96.82 333.70L99.82 327.70L102.82 333.70ZM104.21 336.00L107.21 330.00L110.21 336.00ZM111.60 340.00L114.60 334.00L117.60 340.00ZM118.99 342.20L121.99 336.20L124.99 342.20ZM126.38 344.30L129.38 338.30L132.38 344.30ZM133.76 346.40L136.76 340.40L139.76 346.40ZM141.15 348.90L144.15 342.90L147.15 348.90ZM148.54 351.30L151.54 345.30L154.54 351.30ZM155.93 353.20L158.93 347.20L161.93 353.20ZM163.31 355.30L166.31 349.30L169.31 355.30ZM170.70 356.80L173.70 350.80L176.70 356.80ZM178.09 359.30L181.09 353.30L184.09 359.30ZM185.47 360.70L188.47 354.70L191.47 360.70ZM192.86 362.40L195.86 356.40L198.86 362.40ZM200.25 364.70L203.25 358.70L206.25 364.70ZM207.64 366.00L210.64 360.00L213.64 366.00ZM215.03 367.70L218.03 361.70L221.03 367.70ZM222.41 369.50L225.41 363.50L228.41 369.50ZM229.80 370.50L232.80 364.50L235.80 370.50ZM237.19 372.20L240.19 366.20L243.19 372.20ZM244.58 373.60L247.58 367.60L250.58 373.60ZM251.96 375.30L254.96 369.30L257.96 375.30ZM259.35 376.20L262.35 370.20L265.35 376.20ZM266.74 377.90L269.74 371.90L272.74 377.90ZM274.12 379.20L277.12 373.20L280.12 379.20ZM281.51 380.10L284.51 374.10L287.51 380.10ZM288.90 381.80L291.90 375.80L294.90 381.80ZM296.29 383.20L299.29 377.20L302.29 383.20Z" fill="none" stroke="#f5403c" stroke-width="1.05" stroke-linejoin="miter"/><path d="M89.44 326.05L92.44 320.05L95.44 326.05ZM96.82 328.20L99.82 322.20L102.82 328.20ZM104.21 330.80L107.21 324.80L110.21 330.80ZM111.60 334.30L114.60 328.30L117.60 334.30ZM118.99 335.50L121.99 329.50L124.99 335.50ZM126.38 337.60L129.38 331.60L132.38 337.60ZM133.76 340.30L136.76 334.30L139.76 340.30ZM141.15 343.20L144.15 337.20L147.15 343.20ZM148.54 345.50L151.54 339.50L154.54 345.50ZM155.93 347.40L158.93 341.40L161.93 347.40ZM163.31 349.80L166.31 343.80L169.31 349.80ZM170.70 351.60L173.70 345.60L176.70 351.60ZM178.09 354.00L181.09 348.00L184.09 354.00ZM185.47 355.60L188.47 349.60L191.47 355.60ZM192.86 357.60L195.86 351.60L198.86 357.60ZM200.25 359.30L203.25 353.30L206.25 359.30ZM207.64 361.00L210.64 355.00L213.64 361.00ZM215.03 362.80L218.03 356.80L221.03 362.80ZM222.41 364.50L225.41 358.50L228.41 364.50ZM229.80 365.60L232.80 359.60L235.80 365.60ZM237.19 367.40L240.19 361.40L243.19 367.40ZM244.58 368.30L247.58 362.30L250.58 368.30ZM251.96 369.60L254.96 363.60L257.96 369.60ZM259.35 370.50L262.35 364.50L265.35 370.50ZM266.74 372.20L269.74 366.20L272.74 372.20ZM274.12 373.90L277.12 367.90L280.12 373.90ZM281.51 375.30L284.51 369.30L287.51 375.30ZM288.90 376.20L291.90 370.20L294.90 376.20ZM296.29 377.50L299.29 371.50L302.29 377.50Z" fill="none" stroke="#3f6ff5" stroke-width="1.05" stroke-linejoin="miter"/><path d="M69.3 393.4L72.7 387.3L76.1 393.4Z" fill="none" stroke="#3f6ff5" stroke-width="1.05"/><path d="M69.3 404.7L72.7 398.6L76.1 404.7Z" fill="none" stroke="#f5403c" stroke-width="1.05"/><text x="80.40" y="393.40" font-size="10.3" fill="#3f6ff5" textLength="65.8" lengthAdjust="spacing">+0.5° latitude</text><text x="80.40" y="404.70" font-size="10.3" fill="#f5403c" textLength="65.8" lengthAdjust="spacing">−3.5° latitude</text><rect x="455.5" y="319.5" width="295.50" height="101.00" fill="none" stroke="#4a4a4a" stroke-width="1.0"/><path d="M462.89 420.50L462.89 419.20M462.89 319.50L462.89 320.80M470.27 420.50L470.27 419.20M470.27 319.50L470.27 320.80M477.66 420.50L477.66 419.20M477.66 319.50L477.66 320.80M485.05 420.50L485.05 419.20M485.05 319.50L485.05 320.80M492.44 420.50L492.44 419.20M492.44 319.50L492.44 320.80M499.82 420.50L499.82 419.20M499.82 319.50L499.82 320.80M507.21 420.50L507.21 419.20M507.21 319.50L507.21 320.80M514.60 420.50L514.60 419.20M514.60 319.50L514.60 320.80M521.99 420.50L521.99 419.20M521.99 319.50L521.99 320.80M529.38 420.50L529.38 418.30M529.38 319.50L529.38 321.70M536.76 420.50L536.76 419.20M536.76 319.50L536.76 320.80M544.15 420.50L544.15 419.20M544.15 319.50L544.15 320.80M551.54 420.50L551.54 419.20M551.54 319.50L551.54 320.80M558.92 420.50L558.92 419.20M558.92 319.50L558.92 320.80M566.31 420.50L566.31 419.20M566.31 319.50L566.31 320.80M573.70 420.50L573.70 419.20M573.70 319.50L573.70 320.80M581.09 420.50L581.09 419.20M581.09 319.50L581.09 320.80M588.48 420.50L588.48 419.20M588.48 319.50L588.48 320.80M595.86 420.50L595.86 419.20M595.86 319.50L595.86 320.80M603.25 420.50L603.25 418.30M603.25 319.50L603.25 321.70M610.64 420.50L610.64 419.20M610.64 319.50L610.64 320.80M618.02 420.50L618.02 419.20M618.02 319.50L618.02 320.80M625.41 420.50L625.41 419.20M625.41 319.50L625.41 320.80M632.80 420.50L632.80 419.20M632.80 319.50L632.80 320.80M640.19 420.50L640.19 419.20M640.19 319.50L640.19 320.80M647.58 420.50L647.58 419.20M647.58 319.50L647.58 320.80M654.96 420.50L654.96 419.20M654.96 319.50L654.96 320.80M662.35 420.50L662.35 419.20M662.35 319.50L662.35 320.80M669.74 420.50L669.74 419.20M669.74 319.50L669.74 320.80M677.12 420.50L677.12 418.30M677.12 319.50L677.12 321.70M684.51 420.50L684.51 419.20M684.51 319.50L684.51 320.80M691.90 420.50L691.90 419.20M691.90 319.50L691.90 320.80M699.29 420.50L699.29 419.20M699.29 319.50L699.29 320.80M706.67 420.50L706.67 419.20M706.67 319.50L706.67 320.80M714.06 420.50L714.06 419.20M714.06 319.50L714.06 320.80M721.45 420.50L721.45 419.20M721.45 319.50L721.45 320.80M728.84 420.50L728.84 419.20M728.84 319.50L728.84 320.80M736.23 420.50L736.23 419.20M736.23 319.50L736.23 320.80M743.61 420.50L743.61 419.20M743.61 319.50L743.61 320.80M455.50 410.37L458.50 410.37M751.00 410.37L748.00 410.37M455.50 404.44L458.50 404.44M751.00 404.44L748.00 404.44M455.50 400.23L458.50 400.23M751.00 400.23L748.00 400.23M455.50 396.97L458.50 396.97M751.00 396.97L748.00 396.97M455.50 394.30L458.50 394.30M751.00 394.30L748.00 394.30M455.50 392.05L458.50 392.05M751.00 392.05L748.00 392.05M455.50 390.10L458.50 390.10M751.00 390.10L748.00 390.10M455.50 388.37L458.50 388.37M751.00 388.37L748.00 388.37M455.50 386.83L459.90 386.83M751.00 386.83L746.60 386.83M455.50 376.70L458.50 376.70M751.00 376.70L748.00 376.70M455.50 370.77L458.50 370.77M751.00 370.77L748.00 370.77M455.50 366.56L458.50 366.56M751.00 366.56L748.00 366.56M455.50 363.30L458.50 363.30M751.00 363.30L748.00 363.30M455.50 360.64L458.50 360.64M751.00 360.64L748.00 360.64M455.50 358.38L458.50 358.38M751.00 358.38L748.00 358.38M455.50 356.43L458.50 356.43M751.00 356.43L748.00 356.43M455.50 354.71L458.50 354.71M751.00 354.71L748.00 354.71M455.50 353.17L459.90 353.17M751.00 353.17L746.60 353.17M455.50 343.03L458.50 343.03M751.00 343.03L748.00 343.03M455.50 337.10L458.50 337.10M751.00 337.10L748.00 337.10M455.50 332.90L458.50 332.90M751.00 332.90L748.00 332.90M455.50 329.63L458.50 329.63M751.00 329.63L748.00 329.63M455.50 326.97L458.50 326.97M751.00 326.97L748.00 326.97M455.50 324.72L458.50 324.72M751.00 324.72L748.00 324.72M455.50 322.76L458.50 322.76M751.00 322.76L748.00 322.76M455.50 321.04L458.50 321.04M751.00 321.04L748.00 321.04" stroke="#4a4a4a" stroke-width="1.0" fill="none"/><text x="455.50" y="435.00" font-size="10.5" fill="#2e2e2e" text-anchor="middle">3</text><text x="529.38" y="435.00" font-size="10.5" fill="#2e2e2e" text-anchor="middle">4</text><text x="603.25" y="435.00" font-size="10.5" fill="#2e2e2e" text-anchor="middle">5</text><text x="677.12" y="435.00" font-size="10.5" fill="#2e2e2e" text-anchor="middle">6</text><text x="751.00" y="435.00" font-size="10.5" fill="#2e2e2e" text-anchor="middle">7</text><g transform="translate(602.95 446.8)"><text x="-62.70" y="0.00" font-size="10.5" fill="#2e2e2e" textLength="115" lengthAdjust="spacing">Heliocentric distance [R</text><circle cx="55.50" cy="0.10" r="2.4" fill="none" stroke="#2e2e2e" stroke-width="0.85"/><circle cx="55.50" cy="0.10" r="0.7" fill="#2e2e2e"/><text x="58.40" y="0.00" font-size="10.5" fill="#2e2e2e">]</text></g><text x="602.75" y="314.20" font-size="12.2" fill="#2e2e2e" text-anchor="middle" textLength="188.4" lengthAdjust="spacing">Metis UV intensity radial profile</text><text x="719.50" y="341.60" font-size="10.8" fill="#2e2e2e" textLength="13.8" lengthAdjust="spacing">(d)</text><text x="452.30" y="326.40" font-size="10.5" fill="#2e2e2e" text-anchor="end">10<tspan font-size="6.6" dy="-4.3">11</tspan><tspan dy="4.3">​</tspan></text><text x="452.30" y="357.47" font-size="10.5" fill="#2e2e2e" text-anchor="end">10<tspan font-size="6.6" dy="-4.3">10</tspan><tspan dy="4.3">​</tspan></text><text x="451.30" y="391.13" font-size="10.5" fill="#2e2e2e" text-anchor="end">10<tspan font-size="6.6" dy="-4.3">9</tspan><tspan dy="4.3">​</tspan></text><text x="451.30" y="420.20" font-size="10.5" fill="#2e2e2e" text-anchor="end">10<tspan font-size="6.6" dy="-4.3">8</tspan><tspan dy="4.3">​</tspan></text><g transform="translate(405.6 370.15) rotate(-90)"><text x="-28.45" y="0.00" font-size="10.5" fill="#2e2e2e" textLength="56.9" lengthAdjust="spacing">UV intensity</text></g><g transform="translate(423.6 370.15) rotate(-90)"><text x="-53.95" y="0.00" font-size="10.5" fill="#2e2e2e" textLength="107.9" lengthAdjust="spacing">[photons cm<tspan font-size="6.6" dy="-4.3">−2</tspan><tspan dy="4.3">​</tspan> s<tspan font-size="6.6" dy="-4.3">−1</tspan><tspan dy="4.3">​</tspan> sr<tspan font-size="6.6" dy="-4.3">−1</tspan><tspan dy="4.3">​</tspan>]</text></g><path d="M489.44 353.40L492.44 347.40L495.44 353.40ZM496.82 356.05L499.82 350.05L502.82 356.05ZM504.21 358.70L507.21 352.70L510.21 358.70ZM511.60 362.50L514.60 356.50L517.60 362.50ZM518.99 364.60L521.99 358.60L524.99 364.60ZM526.38 367.05L529.38 361.05L532.38 367.05ZM533.76 368.80L536.76 362.80L539.76 368.80ZM541.15 370.70L544.15 364.70L547.15 370.70ZM548.54 372.80L551.54 366.80L554.54 372.80ZM555.92 374.05L558.92 368.05L561.92 374.05ZM563.31 375.50L566.31 369.50L569.31 375.50ZM570.70 377.30L573.70 371.30L576.70 377.30ZM578.09 378.50L581.09 372.50L584.09 378.50ZM585.48 380.00L588.48 374.00L591.48 380.00ZM592.86 381.10L595.86 375.10L598.86 381.10ZM600.25 382.30L603.25 376.30L606.25 382.30ZM607.64 383.80L610.64 377.80L613.64 383.80ZM615.02 384.70L618.02 378.70L621.02 384.70ZM622.41 386.20L625.41 380.20L628.41 386.20ZM629.80 387.00L632.80 381.00L635.80 387.00ZM637.19 387.90L640.19 381.90L643.19 387.90ZM644.58 388.90L647.58 382.90L650.58 388.90ZM651.96 389.70L654.96 383.70L657.96 389.70ZM659.35 390.80L662.35 384.80L665.35 390.80ZM666.74 391.80L669.74 385.80L672.74 391.80ZM674.12 392.60L677.12 386.60L680.12 392.60ZM681.51 393.60L684.51 387.60L687.51 393.60ZM688.90 394.70L691.90 388.70L694.90 394.70ZM696.29 395.70L699.29 389.70L702.29 395.70Z" fill="none" stroke="#f5403c" stroke-width="1.05" stroke-linejoin="miter"/><path d="M489.44 352.40L492.44 346.40L495.44 352.40ZM496.82 356.05L499.82 350.05L502.82 356.05ZM504.21 358.70L507.21 352.70L510.21 358.70ZM511.60 361.50L514.60 355.50L517.60 361.50ZM518.99 363.60L521.99 357.60L524.99 363.60ZM526.38 366.05L529.38 360.05L532.38 366.05ZM533.76 367.80L536.76 361.80L539.76 367.80ZM541.15 369.70L544.15 363.70L547.15 369.70ZM548.54 371.80L551.54 365.80L554.54 371.80ZM555.92 373.05L558.92 367.05L561.92 373.05ZM563.31 374.50L566.31 368.50L569.31 374.50ZM570.70 376.30L573.70 370.30L576.70 376.30ZM578.09 377.50L581.09 371.50L584.09 377.50ZM585.48 379.00L588.48 373.00L591.48 379.00ZM592.86 380.10L595.86 374.10L598.86 380.10ZM600.25 381.30L603.25 375.30L606.25 381.30ZM607.64 382.80L610.64 376.80L613.64 382.80ZM615.02 383.70L618.02 377.70L621.02 383.70ZM622.41 385.20L625.41 379.20L628.41 385.20ZM629.80 386.00L632.80 380.00L635.80 386.00ZM637.19 386.90L640.19 380.90L643.19 386.90ZM644.58 387.90L647.58 381.90L650.58 387.90ZM651.96 388.70L654.96 382.70L657.96 388.70ZM659.35 389.80L662.35 383.80L665.35 389.80ZM666.74 390.80L669.74 384.80L672.74 390.80ZM674.12 391.60L677.12 385.60L680.12 391.60ZM681.51 392.60L684.51 386.60L687.51 392.60ZM688.90 393.70L691.90 387.70L694.90 393.70ZM696.29 394.70L699.29 388.70L702.29 394.70Z" fill="none" stroke="#3f6ff5" stroke-width="1.05" stroke-linejoin="miter"/><rect x="55.5" y="476.8" width="295.50" height="101.00" fill="none" stroke="#4a4a4a" stroke-width="1.0"/><path d="M62.89 577.80L62.89 576.50M62.89 476.80L62.89 478.10M70.28 577.80L70.28 576.50M70.28 476.80L70.28 478.10M77.66 577.80L77.66 576.50M77.66 476.80L77.66 478.10M85.05 577.80L85.05 576.50M85.05 476.80L85.05 478.10M92.44 577.80L92.44 576.50M92.44 476.80L92.44 478.10M99.83 577.80L99.83 576.50M99.83 476.80L99.83 478.10M107.21 577.80L107.21 576.50M107.21 476.80L107.21 478.10M114.60 577.80L114.60 576.50M114.60 476.80L114.60 478.10M121.99 577.80L121.99 576.50M121.99 476.80L121.99 478.10M129.38 577.80L129.38 575.60M129.38 476.80L129.38 479.00M136.76 577.80L136.76 576.50M136.76 476.80L136.76 478.10M144.15 577.80L144.15 576.50M144.15 476.80L144.15 478.10M151.54 577.80L151.54 576.50M151.54 476.80L151.54 478.10M158.93 577.80L158.93 576.50M158.93 476.80L158.93 478.10M166.31 577.80L166.31 576.50M166.31 476.80L166.31 478.10M173.70 577.80L173.70 576.50M173.70 476.80L173.70 478.10M181.09 577.80L181.09 576.50M181.09 476.80L181.09 478.10M188.47 577.80L188.47 576.50M188.47 476.80L188.47 478.10M195.86 577.80L195.86 576.50M195.86 476.80L195.86 478.10M203.25 577.80L203.25 575.60M203.25 476.80L203.25 479.00M210.64 577.80L210.64 576.50M210.64 476.80L210.64 478.10M218.03 577.80L218.03 576.50M218.03 476.80L218.03 478.10M225.41 577.80L225.41 576.50M225.41 476.80L225.41 478.10M232.80 577.80L232.80 576.50M232.80 476.80L232.80 478.10M240.19 577.80L240.19 576.50M240.19 476.80L240.19 478.10M247.57 577.80L247.57 576.50M247.57 476.80L247.57 478.10M254.96 577.80L254.96 576.50M254.96 476.80L254.96 478.10M262.35 577.80L262.35 576.50M262.35 476.80L262.35 478.10M269.74 577.80L269.74 576.50M269.74 476.80L269.74 478.10M277.12 577.80L277.12 575.60M277.12 476.80L277.12 479.00M284.51 577.80L284.51 576.50M284.51 476.80L284.51 478.10M291.90 577.80L291.90 576.50M291.90 476.80L291.90 478.10M299.29 577.80L299.29 576.50M299.29 476.80L299.29 478.10M306.68 577.80L306.68 576.50M306.68 476.80L306.68 478.10M314.06 577.80L314.06 576.50M314.06 476.80L314.06 478.10M321.45 577.80L321.45 576.50M321.45 476.80L321.45 478.10M328.84 577.80L328.84 576.50M328.84 476.80L328.84 478.10M336.23 577.80L336.23 576.50M336.23 476.80L336.23 478.10M343.61 577.80L343.61 576.50M343.61 476.80L343.61 478.10M55.50 562.60L58.50 562.60M351.00 562.60L348.00 562.60M55.50 553.71L58.50 553.71M351.00 553.71L348.00 553.71M55.50 547.40L58.50 547.40M351.00 547.40L348.00 547.40M55.50 542.50L58.50 542.50M351.00 542.50L348.00 542.50M55.50 538.50L58.50 538.50M351.00 538.50L348.00 538.50M55.50 535.12L58.50 535.12M351.00 535.12L348.00 535.12M55.50 532.19L58.50 532.19M351.00 532.19L348.00 532.19M55.50 529.61L58.50 529.61M351.00 529.61L348.00 529.61M55.50 527.30L59.90 527.30M351.00 527.30L346.60 527.30M55.50 512.10L58.50 512.10M351.00 512.10L348.00 512.10M55.50 503.21L58.50 503.21M351.00 503.21L348.00 503.21M55.50 496.90L58.50 496.90M351.00 496.90L348.00 496.90M55.50 492.00L58.50 492.00M351.00 492.00L348.00 492.00M55.50 488.00L58.50 488.00M351.00 488.00L348.00 488.00M55.50 484.62L58.50 484.62M351.00 484.62L348.00 484.62M55.50 481.69L58.50 481.69M351.00 481.69L348.00 481.69M55.50 479.11L58.50 479.11M351.00 479.11L348.00 479.11" stroke="#4a4a4a" stroke-width="1.0" fill="none"/><text x="55.50" y="592.30" font-size="10.5" fill="#2e2e2e" text-anchor="middle">3</text><text x="129.38" y="592.30" font-size="10.5" fill="#2e2e2e" text-anchor="middle">4</text><text x="203.25" y="592.30" font-size="10.5" fill="#2e2e2e" text-anchor="middle">5</text><text x="277.12" y="592.30" font-size="10.5" fill="#2e2e2e" text-anchor="middle">6</text><text x="351.00" y="592.30" font-size="10.5" fill="#2e2e2e" text-anchor="middle">7</text><g transform="translate(202.95 604.0999999999999)"><text x="-62.70" y="0.00" font-size="10.5" fill="#2e2e2e" textLength="115" lengthAdjust="spacing">Heliocentric distance [R</text><circle cx="55.50" cy="0.10" r="2.4" fill="none" stroke="#2e2e2e" stroke-width="0.85"/><circle cx="55.50" cy="0.10" r="0.7" fill="#2e2e2e"/><text x="58.40" y="0.00" font-size="10.5" fill="#2e2e2e">]</text></g><text x="202.75" y="471.50" font-size="12.2" fill="#2e2e2e" text-anchor="middle" textLength="177" lengthAdjust="spacing">Electron density radial profile</text><text x="319.50" y="498.90" font-size="10.8" fill="#2e2e2e" textLength="13.8" lengthAdjust="spacing">(e)</text><text x="53.10" y="483.70" font-size="10.5" fill="#2e2e2e" text-anchor="end">10<tspan font-size="6.6" dy="-4.3">6</tspan><tspan dy="4.3">​</tspan></text><text x="53.10" y="531.80" font-size="10.5" fill="#2e2e2e" text-anchor="end">10<tspan font-size="6.6" dy="-4.3">5</tspan><tspan dy="4.3">​</tspan></text><text x="53.10" y="577.50" font-size="10.5" fill="#2e2e2e" text-anchor="end">10<tspan font-size="6.6" dy="-4.3">4</tspan><tspan dy="4.3">​</tspan></text><g transform="translate(29.3 528.2) rotate(-90)"><text x="-21.50" y="0.00" font-size="10.5" fill="#2e2e2e" textLength="43" lengthAdjust="spacing">n<tspan font-size="6.6" dy="2.4">e</tspan><tspan dy="-2.4">​</tspan> [cm<tspan font-size="6.6" dy="-4.3">−3</tspan><tspan dy="4.3">​</tspan>]</text></g><path d="M89.44 499.50L92.44 493.50L95.44 499.50ZM96.82 502.10L99.82 496.10L102.82 502.10ZM104.21 505.30L107.21 499.30L110.21 505.30ZM111.60 507.90L114.60 501.90L117.60 507.90ZM118.99 510.50L121.99 504.50L124.99 510.50ZM126.38 513.20L129.38 507.20L132.38 513.20ZM133.76 515.30L136.76 509.30L139.76 515.30ZM141.15 517.70L144.15 511.70L147.15 517.70ZM148.54 519.80L151.54 513.80L154.54 519.80ZM155.93 521.90L158.93 515.90L161.93 521.90ZM163.31 523.70L166.31 517.70L169.31 523.70ZM170.70 525.50L173.70 519.50L176.70 525.50ZM178.09 527.60L181.09 521.60L184.09 527.60ZM185.47 529.30L188.47 523.30L191.47 529.30ZM192.86 531.05L195.86 525.05L198.86 531.05ZM200.25 533.20L203.25 527.20L206.25 533.20ZM207.64 534.50L210.64 528.50L213.64 534.50ZM215.03 536.30L218.03 530.30L221.03 536.30ZM222.41 538.10L225.41 532.10L228.41 538.10ZM229.80 539.30L232.80 533.30L235.80 539.30ZM237.19 541.05L240.19 535.05L243.19 541.05ZM244.58 542.10L247.58 536.10L250.58 542.10ZM251.96 544.00L254.96 538.00L257.96 544.00ZM259.35 545.30L262.35 539.30L265.35 545.30ZM266.74 546.50L269.74 540.50L272.74 546.50ZM274.12 548.20L277.12 542.20L280.12 548.20ZM281.51 549.30L284.51 543.30L287.51 549.30ZM288.90 550.50L291.90 544.50L294.90 550.50ZM296.29 551.60L299.29 545.60L302.29 551.60Z" fill="none" stroke="#f5403c" stroke-width="1.05" stroke-linejoin="miter"/><path d="M89.44 494.50L92.44 488.50L95.44 494.50ZM96.82 497.05L99.82 491.05L102.82 497.05ZM104.21 500.00L107.21 494.00L110.21 500.00ZM111.60 502.30L114.60 496.30L117.60 502.30ZM118.99 505.05L121.99 499.05L124.99 505.05ZM126.38 507.40L129.38 501.40L132.38 507.40ZM133.76 509.50L136.76 503.50L139.76 509.50ZM141.15 511.80L144.15 505.80L147.15 511.80ZM148.54 513.90L151.54 507.90L154.54 513.90ZM155.93 516.00L158.93 510.00L161.93 516.00ZM163.31 518.10L166.31 512.10L169.31 518.10ZM170.70 520.00L173.70 514.00L176.70 520.00ZM178.09 522.10L181.09 516.10L184.09 522.10ZM185.47 524.00L188.47 518.00L191.47 524.00ZM192.86 525.80L195.86 519.80L198.86 525.80ZM200.25 527.60L203.25 521.60L206.25 527.60ZM207.64 529.30L210.64 523.30L213.64 529.30ZM215.03 531.05L218.03 525.05L221.03 531.05ZM222.41 532.80L225.41 526.80L228.41 532.80ZM229.80 534.40L232.80 528.40L235.80 534.40ZM237.19 536.30L240.19 530.30L243.19 536.30ZM244.58 537.70L247.58 531.70L250.58 537.70ZM251.96 539.50L254.96 533.50L257.96 539.50ZM259.35 540.80L262.35 534.80L265.35 540.80ZM266.74 542.10L269.74 536.10L272.74 542.10ZM274.12 543.70L277.12 537.70L280.12 543.70ZM281.51 545.05L284.51 539.05L287.51 545.05ZM288.90 546.30L291.90 540.30L294.90 546.30ZM296.29 547.60L299.29 541.60L302.29 547.60Z" fill="none" stroke="#3f6ff5" stroke-width="1.05" stroke-linejoin="miter"/><rect x="455.5" y="476.8" width="295.50" height="101.00" fill="none" stroke="#4a4a4a" stroke-width="1.0"/><path d="M462.89 577.80L462.89 576.50M462.89 476.80L462.89 478.10M470.27 577.80L470.27 576.50M470.27 476.80L470.27 478.10M477.66 577.80L477.66 576.50M477.66 476.80L477.66 478.10M485.05 577.80L485.05 576.50M485.05 476.80L485.05 478.10M492.44 577.80L492.44 576.50M492.44 476.80L492.44 478.10M499.82 577.80L499.82 576.50M499.82 476.80L499.82 478.10M507.21 577.80L507.21 576.50M507.21 476.80L507.21 478.10M514.60 577.80L514.60 576.50M514.60 476.80L514.60 478.10M521.99 577.80L521.99 576.50M521.99 476.80L521.99 478.10M529.38 577.80L529.38 575.60M529.38 476.80L529.38 479.00M536.76 577.80L536.76 576.50M536.76 476.80L536.76 478.10M544.15 577.80L544.15 576.50M544.15 476.80L544.15 478.10M551.54 577.80L551.54 576.50M551.54 476.80L551.54 478.10M558.92 577.80L558.92 576.50M558.92 476.80L558.92 478.10M566.31 577.80L566.31 576.50M566.31 476.80L566.31 478.10M573.70 577.80L573.70 576.50M573.70 476.80L573.70 478.10M581.09 577.80L581.09 576.50M581.09 476.80L581.09 478.10M588.48 577.80L588.48 576.50M588.48 476.80L588.48 478.10M595.86 577.80L595.86 576.50M595.86 476.80L595.86 478.10M603.25 577.80L603.25 575.60M603.25 476.80L603.25 479.00M610.64 577.80L610.64 576.50M610.64 476.80L610.64 478.10M618.02 577.80L618.02 576.50M618.02 476.80L618.02 478.10M625.41 577.80L625.41 576.50M625.41 476.80L625.41 478.10M632.80 577.80L632.80 576.50M632.80 476.80L632.80 478.10M640.19 577.80L640.19 576.50M640.19 476.80L640.19 478.10M647.58 577.80L647.58 576.50M647.58 476.80L647.58 478.10M654.96 577.80L654.96 576.50M654.96 476.80L654.96 478.10M662.35 577.80L662.35 576.50M662.35 476.80L662.35 478.10M669.74 577.80L669.74 576.50M669.74 476.80L669.74 478.10M677.12 577.80L677.12 575.60M677.12 476.80L677.12 479.00M684.51 577.80L684.51 576.50M684.51 476.80L684.51 478.10M691.90 577.80L691.90 576.50M691.90 476.80L691.90 478.10M699.29 577.80L699.29 576.50M699.29 476.80L699.29 478.10M706.67 577.80L706.67 576.50M706.67 476.80L706.67 478.10M714.06 577.80L714.06 576.50M714.06 476.80L714.06 478.10M721.45 577.80L721.45 576.50M721.45 476.80L721.45 478.10M728.84 577.80L728.84 576.50M728.84 476.80L728.84 478.10M736.23 577.80L736.23 576.50M736.23 476.80L736.23 478.10M743.61 577.80L743.61 576.50M743.61 476.80L743.61 478.10M455.50 573.76L458.50 573.76M751.00 573.76L748.00 573.76M455.50 569.72L458.50 569.72M751.00 569.72L748.00 569.72M455.50 565.68L458.50 565.68M751.00 565.68L748.00 565.68M455.50 561.64L458.50 561.64M751.00 561.64L748.00 561.64M455.50 557.60L459.90 557.60M751.00 557.60L746.60 557.60M455.50 553.56L458.50 553.56M751.00 553.56L748.00 553.56M455.50 549.52L458.50 549.52M751.00 549.52L748.00 549.52M455.50 545.48L458.50 545.48M751.00 545.48L748.00 545.48M455.50 541.44L458.50 541.44M751.00 541.44L748.00 541.44M455.50 537.40L459.90 537.40M751.00 537.40L746.60 537.40M455.50 533.36L458.50 533.36M751.00 533.36L748.00 533.36M455.50 529.32L458.50 529.32M751.00 529.32L748.00 529.32M455.50 525.28L458.50 525.28M751.00 525.28L748.00 525.28M455.50 521.24L458.50 521.24M751.00 521.24L748.00 521.24M455.50 517.20L459.90 517.20M751.00 517.20L746.60 517.20M455.50 513.16L458.50 513.16M751.00 513.16L748.00 513.16M455.50 509.12L458.50 509.12M751.00 509.12L748.00 509.12M455.50 505.08L458.50 505.08M751.00 505.08L748.00 505.08M455.50 501.04L458.50 501.04M751.00 501.04L748.00 501.04M455.50 497.00L459.90 497.00M751.00 497.00L746.60 497.00M455.50 492.96L458.50 492.96M751.00 492.96L748.00 492.96M455.50 488.92L458.50 488.92M751.00 488.92L748.00 488.92M455.50 484.88L458.50 484.88M751.00 484.88L748.00 484.88M455.50 480.84L458.50 480.84M751.00 480.84L748.00 480.84" stroke="#4a4a4a" stroke-width="1.0" fill="none"/><text x="455.50" y="592.30" font-size="10.5" fill="#2e2e2e" text-anchor="middle">3</text><text x="529.38" y="592.30" font-size="10.5" fill="#2e2e2e" text-anchor="middle">4</text><text x="603.25" y="592.30" font-size="10.5" fill="#2e2e2e" text-anchor="middle">5</text><text x="677.12" y="592.30" font-size="10.5" fill="#2e2e2e" text-anchor="middle">6</text><text x="751.00" y="592.30" font-size="10.5" fill="#2e2e2e" text-anchor="middle">7</text><g transform="translate(602.95 604.0999999999999)"><text x="-62.70" y="0.00" font-size="10.5" fill="#2e2e2e" textLength="115" lengthAdjust="spacing">Heliocentric distance [R</text><circle cx="55.50" cy="0.10" r="2.4" fill="none" stroke="#2e2e2e" stroke-width="0.85"/><circle cx="55.50" cy="0.10" r="0.7" fill="#2e2e2e"/><text x="58.40" y="0.00" font-size="10.5" fill="#2e2e2e">]</text></g><text x="602.75" y="471.50" font-size="12.2" fill="#2e2e2e" text-anchor="middle" textLength="175" lengthAdjust="spacing">Outflow velocity radial profile</text><text x="719.50" y="498.90" font-size="10.8" fill="#2e2e2e" textLength="13.8" lengthAdjust="spacing">(f)</text><text x="451.30" y="484.30" font-size="10.5" fill="#2e2e2e" text-anchor="end">250</text><text x="451.30" y="561.90" font-size="10.5" fill="#2e2e2e" text-anchor="end">50</text><text x="451.30" y="541.70" font-size="10.5" fill="#2e2e2e" text-anchor="end">100</text><text x="451.30" y="521.50" font-size="10.5" fill="#2e2e2e" text-anchor="end">150</text><text x="451.30" y="501.30" font-size="10.5" fill="#2e2e2e" text-anchor="end">200</text><text x="451.30" y="577.50" font-size="10.5" fill="#2e2e2e" text-anchor="end">0</text><g transform="translate(425.6 528.2) rotate(-90)"><text x="-27.00" y="0.00" font-size="10.5" fill="#2e2e2e" textLength="54" lengthAdjust="spacing">V<tspan font-size="6.6" dy="2.4">R</tspan><tspan dy="-2.4">​</tspan> [km s<tspan font-size="6.6" dy="-4.3">−1</tspan><tspan dy="4.3">​</tspan>]</text></g><path d="M489.44 542.60L492.44 536.60L495.44 542.60ZM496.82 530.80L499.82 524.80L502.82 530.80ZM504.21 529.50L507.21 523.50L510.21 529.50ZM511.60 525.30L514.60 519.30L517.60 525.30ZM518.99 521.40L521.99 515.40L524.99 521.40ZM526.38 518.60L529.38 512.60L532.38 518.60ZM533.76 516.30L536.76 510.30L539.76 516.30ZM541.15 513.40L544.15 507.40L547.15 513.40ZM548.54 511.30L551.54 505.30L554.54 511.30ZM555.92 512.60L558.92 506.60L561.92 512.60ZM563.31 511.40L566.31 505.40L569.31 511.40ZM570.70 509.50L573.70 503.50L576.70 509.50ZM578.09 509.30L581.09 503.30L584.09 509.30ZM585.48 509.50L588.48 503.50L591.48 509.50ZM592.86 507.60L595.86 501.60L598.86 507.60ZM600.25 507.40L603.25 501.40L606.25 507.40ZM607.64 506.50L610.64 500.50L613.64 506.50ZM615.02 507.60L618.02 501.60L621.02 507.60ZM622.41 503.70L625.41 497.70L628.41 503.70ZM629.80 505.20L632.80 499.20L635.80 505.20ZM637.19 504.90L640.19 498.90L643.19 504.90ZM644.58 503.90L647.58 497.90L650.58 503.90ZM651.96 503.20L654.96 497.20L657.96 503.20ZM659.35 503.70L662.35 497.70L665.35 503.70ZM666.74 502.60L669.74 496.60L672.74 502.60ZM674.12 502.40L677.12 496.40L680.12 502.40ZM681.51 500.00L684.51 494.00L687.51 500.00ZM688.90 498.90L691.90 492.90L694.90 498.90ZM696.29 499.50L699.29 493.50L702.29 499.50Z" fill="none" stroke="#f5403c" stroke-width="1.05" stroke-linejoin="miter"/><path d="M489.44 528.40L492.44 522.40L495.44 528.40ZM496.82 519.70L499.82 513.70L502.82 519.70ZM504.21 516.30L507.21 510.30L510.21 516.30ZM511.60 510.00L514.60 504.00L517.60 510.00ZM518.99 508.40L521.99 502.40L524.99 508.40ZM526.38 507.40L529.38 501.40L532.38 507.40ZM533.76 506.00L536.76 500.00L539.76 506.00ZM541.15 503.20L544.15 497.20L547.15 503.20ZM548.54 502.40L551.54 496.40L554.54 502.40ZM555.92 500.40L558.92 494.40L561.92 500.40ZM563.31 501.40L566.31 495.40L569.31 501.40ZM570.70 499.20L573.70 493.20L576.70 499.20ZM578.09 499.50L581.09 493.50L584.09 499.50ZM585.48 498.40L588.48 492.40L591.48 498.40ZM592.86 497.40L595.86 491.40L598.86 497.40ZM600.25 495.30L603.25 489.30L606.25 495.30ZM607.64 497.70L610.64 491.70L613.64 497.70ZM615.02 497.40L618.02 491.40L621.02 497.40ZM622.41 496.30L625.41 490.30L628.41 496.30ZM629.80 496.00L632.80 490.00L635.80 496.00ZM637.19 495.80L640.19 489.80L643.19 495.80ZM644.58 494.40L647.58 488.40L650.58 494.40ZM651.96 495.30L654.96 489.30L657.96 495.30ZM659.35 495.30L662.35 489.30L665.35 495.30ZM666.74 493.40L669.74 487.40L672.74 493.40ZM674.12 494.00L677.12 488.00L680.12 494.00ZM681.51 490.20L684.51 484.20L687.51 490.20ZM688.90 489.20L691.90 483.20L694.90 489.20ZM696.29 489.80L699.29 483.80L702.29 489.80Z" fill="none" stroke="#3f6ff5" stroke-width="1.05" stroke-linejoin="miter"/><rect x="55.5" y="634.5" width="295.50" height="101.00" fill="none" stroke="#4a4a4a" stroke-width="1.0"/><path d="M62.89 735.50L62.89 734.20M62.89 634.50L62.89 635.80M70.28 735.50L70.28 734.20M70.28 634.50L70.28 635.80M77.66 735.50L77.66 734.20M77.66 634.50L77.66 635.80M85.05 735.50L85.05 734.20M85.05 634.50L85.05 635.80M92.44 735.50L92.44 734.20M92.44 634.50L92.44 635.80M99.83 735.50L99.83 734.20M99.83 634.50L99.83 635.80M107.21 735.50L107.21 734.20M107.21 634.50L107.21 635.80M114.60 735.50L114.60 734.20M114.60 634.50L114.60 635.80M121.99 735.50L121.99 734.20M121.99 634.50L121.99 635.80M129.38 735.50L129.38 733.30M129.38 634.50L129.38 636.70M136.76 735.50L136.76 734.20M136.76 634.50L136.76 635.80M144.15 735.50L144.15 734.20M144.15 634.50L144.15 635.80M151.54 735.50L151.54 734.20M151.54 634.50L151.54 635.80M158.93 735.50L158.93 734.20M158.93 634.50L158.93 635.80M166.31 735.50L166.31 734.20M166.31 634.50L166.31 635.80M173.70 735.50L173.70 734.20M173.70 634.50L173.70 635.80M181.09 735.50L181.09 734.20M181.09 634.50L181.09 635.80M188.47 735.50L188.47 734.20M188.47 634.50L188.47 635.80M195.86 735.50L195.86 734.20M195.86 634.50L195.86 635.80M203.25 735.50L203.25 733.30M203.25 634.50L203.25 636.70M210.64 735.50L210.64 734.20M210.64 634.50L210.64 635.80M218.03 735.50L218.03 734.20M218.03 634.50L218.03 635.80M225.41 735.50L225.41 734.20M225.41 634.50L225.41 635.80M232.80 735.50L232.80 734.20M232.80 634.50L232.80 635.80M240.19 735.50L240.19 734.20M240.19 634.50L240.19 635.80M247.57 735.50L247.57 734.20M247.57 634.50L247.57 635.80M254.96 735.50L254.96 734.20M254.96 634.50L254.96 635.80M262.35 735.50L262.35 734.20M262.35 634.50L262.35 635.80M269.74 735.50L269.74 734.20M269.74 634.50L269.74 635.80M277.12 735.50L277.12 733.30M277.12 634.50L277.12 636.70M284.51 735.50L284.51 734.20M284.51 634.50L284.51 635.80M291.90 735.50L291.90 734.20M291.90 634.50L291.90 635.80M299.29 735.50L299.29 734.20M299.29 634.50L299.29 635.80M306.68 735.50L306.68 734.20M306.68 634.50L306.68 635.80M314.06 735.50L314.06 734.20M314.06 634.50L314.06 635.80M321.45 735.50L321.45 734.20M321.45 634.50L321.45 635.80M328.84 735.50L328.84 734.20M328.84 634.50L328.84 635.80M336.23 735.50L336.23 734.20M336.23 634.50L336.23 635.80M343.61 735.50L343.61 734.20M343.61 634.50L343.61 635.80M55.50 729.19L58.50 729.19M351.00 729.19L348.00 729.19M55.50 722.88L58.50 722.88M351.00 722.88L348.00 722.88M55.50 716.56L58.50 716.56M351.00 716.56L348.00 716.56M55.50 710.25L61.50 710.25M351.00 710.25L345.00 710.25M55.50 703.94L58.50 703.94M351.00 703.94L348.00 703.94M55.50 697.62L58.50 697.62M351.00 697.62L348.00 697.62M55.50 691.31L58.50 691.31M351.00 691.31L348.00 691.31M55.50 685.00L61.50 685.00M351.00 685.00L345.00 685.00M55.50 678.69L58.50 678.69M351.00 678.69L348.00 678.69M55.50 672.38L58.50 672.38M351.00 672.38L348.00 672.38M55.50 666.06L58.50 666.06M351.00 666.06L348.00 666.06M55.50 659.75L61.50 659.75M351.00 659.75L345.00 659.75M55.50 653.44L58.50 653.44M351.00 653.44L348.00 653.44M55.50 647.12L58.50 647.12M351.00 647.12L348.00 647.12M55.50 640.81L58.50 640.81M351.00 640.81L348.00 640.81" stroke="#4a4a4a" stroke-width="1.0" fill="none"/><text x="55.50" y="750.00" font-size="10.5" fill="#2e2e2e" text-anchor="middle">3</text><text x="129.38" y="750.00" font-size="10.5" fill="#2e2e2e" text-anchor="middle">4</text><text x="203.25" y="750.00" font-size="10.5" fill="#2e2e2e" text-anchor="middle">5</text><text x="277.12" y="750.00" font-size="10.5" fill="#2e2e2e" text-anchor="middle">6</text><text x="351.00" y="750.00" font-size="10.5" fill="#2e2e2e" text-anchor="middle">7</text><g transform="translate(202.95 761.8)"><text x="-62.70" y="0.00" font-size="10.5" fill="#2e2e2e" textLength="115" lengthAdjust="spacing">Heliocentric distance [R</text><circle cx="55.50" cy="0.10" r="2.4" fill="none" stroke="#2e2e2e" stroke-width="0.85"/><circle cx="55.50" cy="0.10" r="0.7" fill="#2e2e2e"/><text x="58.40" y="0.00" font-size="10.5" fill="#2e2e2e">]</text></g><text x="202.75" y="629.20" font-size="12.2" fill="#2e2e2e" text-anchor="middle" textLength="153.2" lengthAdjust="spacing">Flux density radial profile</text><text x="319.50" y="656.60" font-size="10.8" fill="#2e2e2e" textLength="13.8" lengthAdjust="spacing">(g)</text><text x="52.00" y="641.90" font-size="10.5" fill="#2e2e2e" text-anchor="end">80</text><text x="52.00" y="714.55" font-size="10.5" fill="#2e2e2e" text-anchor="end">20</text><text x="52.00" y="689.30" font-size="10.5" fill="#2e2e2e" text-anchor="end">40</text><text x="52.00" y="664.05" font-size="10.5" fill="#2e2e2e" text-anchor="end">60</text><text x="52.00" y="735.20" font-size="10.5" fill="#2e2e2e" text-anchor="end">0</text><g transform="translate(33.0 685.1) rotate(-90)"><text x="-43.60" y="0.00" font-size="10.5" fill="#2e2e2e" textLength="87.2" lengthAdjust="spacing">n<tspan font-size="6.6" dy="2.4">e</tspan><tspan dy="-2.4">​</tspan>V<tspan font-size="6.6" dy="2.4">R</tspan><tspan dy="-2.4">​</tspan> [10<tspan font-size="6.6" dy="-4.3">15</tspan><tspan dy="4.3">​</tspan> m<tspan font-size="6.6" dy="-4.3">−2</tspan><tspan dy="4.3">​</tspan> s<tspan font-size="6.6" dy="-4.3">−1</tspan><tspan dy="4.3">​</tspan>]</text></g><path d="M89.44 688.40L92.44 682.40L95.44 688.40ZM96.82 682.10L99.82 676.10L102.82 682.10ZM104.21 687.90L107.21 681.90L110.21 687.90ZM111.60 690.00L114.60 684.00L117.60 690.00ZM118.99 692.10L121.99 686.10L124.99 692.10ZM126.38 695.30L129.38 689.30L132.38 695.30ZM133.76 698.40L136.76 692.40L139.76 698.40ZM141.15 700.80L144.15 694.80L147.15 700.80ZM148.54 703.40L151.54 697.40L154.54 703.40ZM155.93 707.30L158.93 701.30L161.93 707.30ZM163.31 709.50L166.31 703.50L169.31 709.50ZM170.70 711.05L173.70 705.05L176.70 711.05ZM178.09 713.20L181.09 707.20L184.09 713.20ZM185.47 715.30L188.47 709.30L191.47 715.30ZM192.86 716.30L195.86 710.30L198.86 716.30ZM200.25 717.90L203.25 711.90L206.25 717.90ZM207.64 719.30L210.64 713.30L213.64 719.30ZM215.03 721.05L218.03 715.05L221.03 721.05ZM222.41 721.40L225.41 715.40L228.41 721.40ZM229.80 722.00L232.80 716.00L235.80 722.00ZM237.19 722.60L240.19 716.60L243.19 722.60ZM244.58 723.90L247.58 717.90L250.58 723.90ZM251.96 724.50L254.96 718.50L257.96 724.50ZM259.35 725.30L262.35 719.30L265.35 725.30ZM266.74 726.00L269.74 720.00L272.74 726.00ZM274.12 726.80L277.12 720.80L280.12 726.80ZM281.51 727.40L284.51 721.40L287.51 727.40ZM288.90 728.10L291.90 722.10L294.90 728.10ZM296.29 728.70L299.29 722.70L302.29 728.70Z" fill="none" stroke="#f5403c" stroke-width="1.05" stroke-linejoin="miter"/><path d="M89.44 655.30L92.44 649.30L95.44 655.30ZM96.82 652.40L99.82 646.40L102.82 652.40ZM104.21 658.10L107.21 652.10L110.21 658.10ZM111.60 659.20L114.60 653.20L117.60 659.20ZM118.99 666.30L121.99 660.30L124.99 666.30ZM126.38 672.80L129.38 666.80L132.38 672.80ZM133.76 678.10L136.76 672.10L139.76 678.10ZM141.15 681.90L144.15 675.90L147.15 681.90ZM148.54 686.80L151.54 680.80L154.54 686.80ZM155.93 690.20L158.93 684.20L161.93 690.20ZM163.31 695.30L166.31 689.30L169.31 695.30ZM170.70 697.90L173.70 691.90L176.70 697.90ZM178.09 701.40L181.09 695.40L184.09 701.40ZM185.47 704.20L188.47 698.20L191.47 704.20ZM192.86 706.30L195.86 700.30L198.86 706.30ZM200.25 708.40L203.25 702.40L206.25 708.40ZM207.64 711.30L210.64 705.30L213.64 711.30ZM215.03 713.40L218.03 707.40L221.03 713.40ZM222.41 715.05L225.41 709.05L228.41 715.05ZM229.80 715.80L232.80 709.80L235.80 715.80ZM237.19 716.80L240.19 710.80L243.19 716.80ZM244.58 718.40L247.58 712.40L250.58 718.40ZM251.96 719.30L254.96 713.30L257.96 719.30ZM259.35 720.50L262.35 714.50L265.35 720.50ZM266.74 721.40L269.74 715.40L272.74 721.40ZM274.12 722.40L277.12 716.40L280.12 722.40ZM281.51 723.50L284.51 717.50L287.51 723.50ZM288.90 724.20L291.90 718.20L294.90 724.20ZM296.29 725.30L299.29 719.30L302.29 725.30Z" fill="none" stroke="#3f6ff5" stroke-width="1.05" stroke-linejoin="miter"/></svg></body></html>
